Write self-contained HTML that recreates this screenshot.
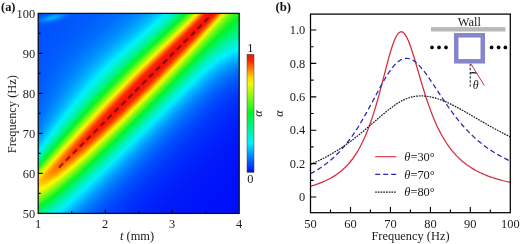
<!DOCTYPE html>
<html lang="en"><head><meta charset="utf-8"><title>Absorption coefficient figure</title>
<style>
html,body{margin:0;padding:0;background:#fff}
#fig{position:relative;width:520px;height:244px;overflow:hidden;background:#fff;font-family:"Liberation Serif","DejaVu Serif",serif}
#heat{position:absolute;left:38.2px;top:13.4px;width:201px;height:200px;overflow:hidden}
#heat i{display:block;width:202px;height:1px}
#ov{position:absolute;left:0;top:0}
text{font-family:"Liberation Serif","DejaVu Serif",serif;font-size:12.4px;fill:#1a1a1a}
.it{font-style:italic}
.b{font-weight:bold;fill:#111}
</style></head><body>
<div id="fig">
<div id="heat">
<i style="background:linear-gradient(90deg,#0050fc,#0050fc,#0051fc,#0052fc,#0054fc,#0057fc,#005cfc,#0063fc,#006afc,#0072fc,#0079fc,#007cfc,#007cfc,#0078fc,#0071fc,#006afc,#0064fc,#005efc,#005bfc,#0059fc,#0059fc,#0059fc,#0059fc,#005afc,#005bfc,#005bfc,#005cfc,#005dfc,#005efc,#005ffc,#0060fc,#0061fc,#0063fc,#0064fc,#0065fc,#0067fc,#0068fc,#006afc,#006cfc,#006dfc,#006ffc,#0071fc,#0073fc,#0076fc,#0078fc,#007bfc,#007efd,#0081fd,#0084fd,#0087fd,#008bfd,#008ffd,#0094fd,#0098fd,#009dfd,#00a3fd,#00a9fd,#00affe,#00b6fe,#00befe,#00c7fe,#00d0fe,#00dbff,#00e6ff,#00f0fc,#00f0ef,#00f1e1,#00f1d0,#00f1bf,#00f2ab,#00f295,#00f37d,#00f462,#00f446,#02f528,#28f622,#50f71b,#7bf715,#a9f80e,#d8f906,#fff000,#ffb600,#ff7c00,#ff4800,#fd2101,#f61a08,#f1150b,#f0140c,#f51908,#fe2201,#ff5200,#ff9000,#ffcf00,#f2fa02,#c6f909,#9ff80f,#7df714,#61f719,#49f61d,#35f620,#24f622,#15f525)"></i>
<i style="background:linear-gradient(90deg,#0050fc,#0051fc,#0052fc,#0055fc,#0059fc,#0060fc,#0069fc,#0074fc,#007ffd,#0088fd,#008dfd,#008cfd,#0087fd,#007dfd,#0073fc,#0069fc,#0062fc,#005dfc,#005afc,#0059fc,#0059fc,#0059fc,#0059fc,#005afc,#005bfc,#005cfc,#005dfc,#005efc,#005ffc,#0060fc,#0061fc,#0062fc,#0063fc,#0065fc,#0066fc,#0067fc,#0069fc,#006bfc,#006cfc,#006efc,#0070fc,#0072fc,#0075fc,#0077fc,#007afc,#007cfc,#007ffd,#0082fd,#0086fd,#0089fd,#008dfd,#0091fd,#0096fd,#009bfd,#00a0fd,#00a6fd,#00acfe,#00b3fe,#00bafe,#00c3fe,#00ccfe,#00d6fe,#00e1ff,#00edff,#00f0f6,#00f1e8,#00f1d8,#00f1c7,#00f2b5,#00f2a0,#00f389,#00f370,#00f454,#00f536,#15f525,#3cf61f,#66f718,#92f811,#c0f90a,#effa02,#ffd400,#ff9b00,#ff6200,#ff3200,#f91d05,#f3170a,#f0140c,#f2160b,#f81c05,#ff3400,#ff6d00,#ffae00,#ffea00,#def905,#b3f90c,#8ff812,#6ff717,#55f71b,#3ff61e,#2cf621,#1cf624,#0ef526)"></i>
<i style="background:linear-gradient(90deg,#0051fc,#0053fc,#0056fc,#005bfc,#0063fc,#006ffc,#007cfc,#008afd,#0096fd,#009dfd,#009cfd,#0095fd,#0089fd,#007cfc,#006ffc,#0065fc,#005ffc,#005bfc,#0059fc,#0058fc,#0059fc,#0059fc,#005afc,#005afc,#005bfc,#005cfc,#005dfc,#005efc,#005ffc,#0060fc,#0061fc,#0063fc,#0064fc,#0065fc,#0067fc,#0068fc,#006afc,#006bfc,#006dfc,#006ffc,#0071fc,#0073fc,#0076fc,#0078fc,#007bfc,#007efd,#0081fd,#0084fd,#0088fd,#008bfd,#008ffd,#0094fd,#0098fd,#009efd,#00a3fd,#00a9fd,#00b0fe,#00b7fe,#00bffe,#00c7fe,#00d1fe,#00dbff,#00e7ff,#00f0fc,#00f0ef,#00f1e0,#00f1d0,#00f2be,#00f2aa,#00f294,#00f37c,#00f462,#00f445,#03f528,#28f622,#51f71b,#7cf715,#a9f80e,#d7f906,#fff100,#ffb800,#ff7f00,#ff4a00,#fe2201,#f61a07,#f1150b,#f0140c,#f41809,#fd2102,#ff4d00,#ff8a00,#ffc900,#f7fa01,#caf908,#a2f80f,#80f814,#63f719,#4af61c,#36f620,#24f622,#15f525,#07f527)"></i>
<i style="background:linear-gradient(90deg,#0053fc,#0056fc,#005cfc,#0065fc,#0072fc,#0082fd,#0093fd,#00a0fd,#00a8fd,#00a8fd,#00a0fd,#0093fd,#0083fd,#0074fc,#0068fc,#0060fc,#005bfc,#0059fc,#0058fc,#0058fc,#0059fc,#0059fc,#005afc,#005bfc,#005cfc,#005dfc,#005dfc,#005efc,#0060fc,#0061fc,#0062fc,#0063fc,#0064fc,#0066fc,#0067fc,#0069fc,#006bfc,#006cfc,#006efc,#0070fc,#0072fc,#0075fc,#0077fc,#007afc,#007cfc,#007ffd,#0083fd,#0086fd,#008afd,#008dfd,#0092fd,#0096fd,#009bfd,#00a0fd,#00a6fd,#00acfe,#00b3fe,#00bbfe,#00c3fe,#00ccfe,#00d6fe,#00e1ff,#00edff,#00f0f5,#00f1e7,#00f1d8,#00f1c7,#00f2b4,#00f29f,#00f388,#00f36f,#00f453,#00f535,#16f525,#3df61f,#66f718,#92f811,#c0f90a,#effa03,#ffd500,#ff9c00,#ff6400,#ff3400,#fa1e04,#f31709,#f0140c,#f1150b,#f81c06,#ff3000,#ff6700,#ffa800,#ffe400,#e2f905,#b7f90b,#92f811,#72f716,#57f71a,#40f61e,#2cf621,#1cf624,#0df526,#00f528)"></i>
<i style="background:linear-gradient(90deg,#0056fc,#005cfc,#0066fc,#0073fc,#0084fd,#0095fd,#00a4fd,#00adfe,#00adfe,#00a5fd,#0097fd,#0086fd,#0076fc,#006afc,#0061fc,#005cfc,#0059fc,#0058fc,#0058fc,#0058fc,#0059fc,#005afc,#005afc,#005bfc,#005cfc,#005dfc,#005efc,#005ffc,#0060fc,#0061fc,#0062fc,#0064fc,#0065fc,#0067fc,#0068fc,#006afc,#006bfc,#006dfc,#006ffc,#0071fc,#0074fc,#0076fc,#0078fc,#007bfc,#007efd,#0081fd,#0084fd,#0088fd,#008cfd,#0090fd,#0094fd,#0099fd,#009efd,#00a3fd,#00a9fd,#00b0fe,#00b7fe,#00bffe,#00c8fe,#00d1fe,#00dcff,#00e7ff,#00f0fb,#00f0ee,#00f1df,#00f1cf,#00f2bd,#00f2a9,#00f393,#00f37b,#00f461,#00f444,#04f527,#29f622,#51f71b,#7cf715,#a9f80e,#d7f906,#fff200,#ffb900,#ff8000,#ff4c00,#fe2200,#f61a07,#f1150b,#f0140c,#f41809,#fc2002,#ff4800,#ff8400,#ffc300,#fcfa01,#cef908,#a6f80e,#82f814,#65f718,#4bf61c,#36f620,#24f622,#14f525,#06f527,#00f52e)"></i>
<i style="background:linear-gradient(90deg,#005bfc,#0064fc,#0071fc,#0081fd,#0092fd,#00a0fd,#00a9fd,#00aafd,#00a2fd,#0095fd,#0085fd,#0076fc,#0069fc,#0060fc,#005bfc,#0059fc,#0058fc,#0057fc,#0058fc,#0058fc,#0059fc,#005afc,#005bfc,#005bfc,#005cfc,#005dfc,#005efc,#005ffc,#0061fc,#0062fc,#0063fc,#0064fc,#0066fc,#0067fc,#0069fc,#006bfc,#006cfc,#006efc,#0070fc,#0072fc,#0075fc,#0077fc,#007afc,#007dfc,#007ffd,#0083fd,#0086fd,#008afd,#008efd,#0092fd,#0096fd,#009bfd,#00a1fd,#00a7fd,#00adfe,#00b4fe,#00bbfe,#00c4fe,#00cdfe,#00d7fe,#00e2ff,#00eeff,#00f0f4,#00f1e6,#00f1d7,#00f1c6,#00f2b3,#00f29e,#00f387,#00f36e,#00f452,#00f534,#17f524,#3df61e,#67f718,#92f811,#c0f90a,#eefa03,#ffd600,#ff9e00,#ff6600,#ff3600,#fa1e04,#f41809,#f0140c,#f1150b,#f71b07,#ff2b00,#ff6200,#ffa100,#ffde00,#e7fa04,#bbf90b,#95f811,#74f716,#58f71a,#41f61e,#2df621,#1bf624,#0cf526,#00f529,#00f534)"></i>
<i style="background:linear-gradient(90deg,#0061fc,#006cfc,#007afc,#0089fd,#0096fd,#009efd,#009ffd,#0099fd,#008dfd,#007ffd,#0072fc,#0067fc,#005ffc,#005afc,#0058fc,#0057fc,#0057fc,#0057fc,#0058fc,#0059fc,#0059fc,#005afc,#005bfc,#005cfc,#005dfc,#005efc,#005ffc,#0060fc,#0061fc,#0062fc,#0064fc,#0065fc,#0066fc,#0068fc,#006afc,#006bfc,#006dfc,#006ffc,#0071fc,#0074fc,#0076fc,#0078fc,#007bfc,#007efd,#0081fd,#0084fd,#0088fd,#008cfd,#0090fd,#0094fd,#0099fd,#009efd,#00a4fd,#00aafd,#00b1fe,#00b8fe,#00c0fe,#00c8fe,#00d2fe,#00dcff,#00e8ff,#00f0fa,#00f0ed,#00f1de,#00f1ce,#00f2bc,#00f2a8,#00f392,#00f37a,#00f460,#00f443,#05f527,#2af621,#52f71b,#7df714,#a9f80d,#d7f906,#fff200,#ffba00,#ff8200,#ff4e00,#ff2300,#f71b07,#f2160b,#f0140c,#f3170a,#fb1f03,#ff4300,#ff7e00,#ffbd00,#fff800,#d3f907,#a9f80d,#85f813,#67f718,#4df71c,#37f61f,#24f622,#13f525,#05f527,#00f530,#00f53a)"></i>
<i style="background:linear-gradient(90deg,#0066fc,#0071fc,#007dfc,#0087fd,#008efd,#008ffd,#008afd,#0081fd,#0076fc,#006cfc,#0063fc,#005dfc,#0059fc,#0057fc,#0056fc,#0056fc,#0057fc,#0057fc,#0058fc,#0059fc,#005afc,#005afc,#005bfc,#005cfc,#005dfc,#005efc,#005ffc,#0060fc,#0062fc,#0063fc,#0064fc,#0066fc,#0067fc,#0069fc,#006bfc,#006cfc,#006efc,#0070fc,#0072fc,#0075fc,#0077fc,#007afc,#007dfc,#0080fd,#0083fd,#0086fd,#008afd,#008efd,#0092fd,#0097fd,#009cfd,#00a1fd,#00a7fd,#00adfe,#00b4fe,#00bcfe,#00c4fe,#00cdfe,#00d7fe,#00e3ff,#00efff,#00f0f3,#00f1e5,#00f1d6,#00f1c5,#00f2b2,#00f29d,#00f386,#00f36d,#00f451,#00f533,#18f524,#3ff61e,#68f718,#93f811,#c0f90a,#effa03,#ffd600,#ff9f00,#ff6700,#ff3800,#fb1f04,#f41809,#f0140c,#f1150b,#f61a07,#ff2700,#ff5c00,#ff9b00,#ffd800,#ebfa03,#bff90a,#98f810,#77f715,#5af71a,#42f61e,#2df621,#1bf624,#0bf526,#00f52b,#00f536,#00f440)"></i>
<i style="background:linear-gradient(90deg,#0067fc,#0070fc,#0078fc,#007dfc,#007efd,#007bfc,#0074fc,#006dfc,#0065fc,#005ffc,#005afc,#0057fc,#0056fc,#0056fc,#0056fc,#0056fc,#0057fc,#0058fc,#0058fc,#0059fc,#005afc,#005bfc,#005cfc,#005dfc,#005efc,#005ffc,#0060fc,#0061fc,#0062fc,#0064fc,#0065fc,#0066fc,#0068fc,#006afc,#006bfc,#006dfc,#006ffc,#0071fc,#0074fc,#0076fc,#0079fc,#007bfc,#007efd,#0081fd,#0085fd,#0088fd,#008cfd,#0090fd,#0095fd,#0099fd,#009ffd,#00a4fd,#00aafd,#00b1fe,#00b8fe,#00c0fe,#00c9fe,#00d3fe,#00ddff,#00e9ff,#00f0f9,#00f0ec,#00f1dd,#00f1cd,#00f2bb,#00f2a7,#00f391,#00f379,#00f45f,#00f442,#06f527,#2cf621,#53f71b,#7ef714,#aaf80d,#d8f906,#fff100,#ffba00,#ff8200,#ff4f00,#ff2400,#f71b06,#f2160b,#f0140c,#f3170a,#fa1e04,#ff3e00,#ff7800,#ffb700,#fff200,#d7f906,#adf80d,#88f813,#69f718,#4ef71c,#37f61f,#23f622,#12f525,#03f528,#00f531,#00f53d,#00f447)"></i>
<i style="background:linear-gradient(90deg,#0065fc,#006afc,#006dfc,#006efc,#006dfc,#0069fc,#0064fc,#005ffc,#005bfc,#0058fc,#0056fc,#0055fc,#0055fc,#0056fc,#0056fc,#0057fc,#0057fc,#0058fc,#0059fc,#0059fc,#005afc,#005bfc,#005cfc,#005dfc,#005efc,#005ffc,#0060fc,#0062fc,#0063fc,#0064fc,#0066fc,#0067fc,#0069fc,#006bfc,#006cfc,#006efc,#0070fc,#0073fc,#0075fc,#0077fc,#007afc,#007dfc,#0080fd,#0083fd,#0087fd,#008afd,#008efd,#0093fd,#0097fd,#009cfd,#00a2fd,#00a8fd,#00aefe,#00b5fe,#00bdfe,#00c5fe,#00cefe,#00d8fe,#00e3ff,#00f0ff,#00f0f2,#00f1e4,#00f1d5,#00f1c4,#00f2b1,#00f29c,#00f385,#00f36b,#00f450,#00f532,#19f524,#40f61e,#69f718,#94f811,#c1f90a,#effa02,#ffd600,#ff9f00,#ff6800,#ff3900,#fb1f03,#f41809,#f0140c,#f1150c,#f61a08,#ff2300,#ff5700,#ff9400,#ffd200,#f0fa02,#c4f909,#9cf810,#79f715,#5cf71a,#43f61e,#2df621,#1af624,#0af526,#00f52c,#00f538,#00f443,#00f44d)"></i>
<i style="background:linear-gradient(90deg,#005ffc,#0062fc,#0062fc,#0062fc,#005ffc,#005cfc,#005afc,#0057fc,#0056fc,#0055fc,#0055fc,#0055fc,#0055fc,#0056fc,#0056fc,#0057fc,#0057fc,#0058fc,#0059fc,#005afc,#005bfc,#005cfc,#005cfc,#005dfc,#005ffc,#0060fc,#0061fc,#0062fc,#0063fc,#0065fc,#0066fc,#0068fc,#006afc,#006bfc,#006dfc,#006ffc,#0071fc,#0074fc,#0076fc,#0079fc,#007bfc,#007efd,#0082fd,#0085fd,#0089fd,#008cfd,#0091fd,#0095fd,#009afd,#009ffd,#00a5fd,#00abfe,#00b2fe,#00b9fe,#00c1fe,#00cafe,#00d4fe,#00deff,#00eaff,#00f0f8,#00f0eb,#00f1dc,#00f1cc,#00f2ba,#00f2a6,#00f390,#00f378,#00f45d,#00f440,#08f527,#2df621,#55f71b,#7ff714,#abf80d,#d9f906,#fff100,#ffba00,#ff8300,#ff5000,#ff2500,#f71b06,#f2160a,#f0140c,#f2160a,#f91d04,#ff3900,#ff7200,#ffb100,#ffec00,#dcf906,#b1f80c,#8cf812,#6bf717,#4ff71c,#38f61f,#23f622,#11f525,#01f528,#00f533,#00f43f,#00f449,#00f453)"></i>
<i style="background:linear-gradient(90deg,#005afc,#005afc,#005afc,#0059fc,#0057fc,#0056fc,#0055fc,#0054fc,#0054fc,#0054fc,#0054fc,#0055fc,#0055fc,#0056fc,#0056fc,#0057fc,#0058fc,#0059fc,#0059fc,#005afc,#005bfc,#005cfc,#005dfc,#005efc,#005ffc,#0060fc,#0061fc,#0063fc,#0064fc,#0066fc,#0067fc,#0069fc,#006bfc,#006cfc,#006efc,#0070fc,#0073fc,#0075fc,#0077fc,#007afc,#007dfd,#0080fd,#0083fd,#0087fd,#008bfd,#008ffd,#0093fd,#0098fd,#009dfd,#00a2fd,#00a8fd,#00affe,#00b6fe,#00bdfe,#00c6fe,#00cffe,#00d9ff,#00e5ff,#00f0fe,#00f0f1,#00f1e3,#00f1d4,#00f1c2,#00f2af,#00f29a,#00f383,#00f36a,#00f44e,#00f530,#1bf624,#42f61e,#6bf717,#96f811,#c2f909,#f0fa02,#ffd500,#ff9f00,#ff6800,#ff3900,#fb1f03,#f41809,#f1150c,#f0140c,#f51908,#fe2201,#ff5200,#ff8e00,#ffcc00,#f5fa02,#c8f909,#a0f80f,#7cf715,#5ef719,#44f61d,#2df621,#1af624,#08f527,#00f52e,#00f53b,#00f446,#00f450,#00f459)"></i>
<i style="background:linear-gradient(90deg,#0055fc,#0055fc,#0055fc,#0054fc,#0054fc,#0053fc,#0053fc,#0053fc,#0053fc,#0054fc,#0054fc,#0055fc,#0055fc,#0056fc,#0057fc,#0057fc,#0058fc,#0059fc,#005afc,#005afc,#005bfc,#005cfc,#005dfc,#005efc,#0060fc,#0061fc,#0062fc,#0063fc,#0065fc,#0066fc,#0068fc,#006afc,#006bfc,#006dfc,#006ffc,#0072fc,#0074fc,#0076fc,#0079fc,#007cfc,#007ffd,#0082fd,#0085fd,#0089fd,#008dfd,#0091fd,#0096fd,#009afd,#00a0fd,#00a5fd,#00acfe,#00b2fe,#00bafe,#00c2fe,#00cbfe,#00d5fe,#00dfff,#00ebff,#00f0f7,#00f0ea,#00f1db,#00f1cb,#00f2b8,#00f2a4,#00f38e,#00f376,#00f45c,#00f43f,#0af526,#2ff621,#57f71a,#81f814,#adf80d,#daf906,#fff000,#ffba00,#ff8300,#ff5000,#ff2600,#f71b06,#f2160a,#f0140c,#f2160a,#f91d05,#ff3500,#ff6c00,#ffab00,#ffe600,#e0f905,#b5f90c,#8ff812,#6ef717,#51f71b,#38f61f,#23f623,#10f525,#00f528,#00f536,#00f442,#00f44d,#00f456,#00f460)"></i>
<i style="background:linear-gradient(90deg,#0052fc,#0052fc,#0052fc,#0052fc,#0052fc,#0052fc,#0053fc,#0053fc,#0053fc,#0054fc,#0054fc,#0055fc,#0056fc,#0056fc,#0057fc,#0058fc,#0058fc,#0059fc,#005afc,#005bfc,#005cfc,#005dfc,#005efc,#005ffc,#0060fc,#0061fc,#0063fc,#0064fc,#0066fc,#0067fc,#0069fc,#006bfc,#006cfc,#006efc,#0070fc,#0073fc,#0075fc,#0078fc,#007afc,#007dfd,#0080fd,#0084fd,#0087fd,#008bfd,#008ffd,#0093fd,#0098fd,#009dfd,#00a3fd,#00a9fd,#00affe,#00b7fe,#00befe,#00c7fe,#00d0fe,#00daff,#00e6ff,#00f0fd,#00f0f0,#00f1e2,#00f1d2,#00f1c1,#00f2ae,#00f299,#00f382,#00f468,#00f44c,#00f52e,#1df623,#43f61d,#6cf717,#97f810,#c4f909,#f1fa02,#ffd400,#ff9e00,#ff6800,#ff3a00,#fb1f03,#f41808,#f1150b,#f0140c,#f51908,#fd2101,#ff4d00,#ff8800,#ffc600,#fafa01,#ccf908,#a3f80e,#7ff714,#60f719,#45f61d,#2df621,#19f524,#07f527,#00f530,#00f53d,#00f449,#00f453,#00f45d,#00f466)"></i>
<i style="background:linear-gradient(90deg,#0051fc,#0051fc,#0052fc,#0052fc,#0052fc,#0052fc,#0053fc,#0053fc,#0054fc,#0054fc,#0055fc,#0055fc,#0056fc,#0056fc,#0057fc,#0058fc,#0059fc,#0059fc,#005afc,#005bfc,#005cfc,#005dfc,#005efc,#005ffc,#0061fc,#0062fc,#0063fc,#0065fc,#0066fc,#0068fc,#006afc,#006bfc,#006dfc,#006ffc,#0072fc,#0074fc,#0076fc,#0079fc,#007cfc,#007ffd,#0082fd,#0086fd,#0089fd,#008dfd,#0091fd,#0096fd,#009bfd,#00a0fd,#00a6fd,#00acfe,#00b3fe,#00bbfe,#00c3fe,#00ccfe,#00d6fe,#00e1ff,#00ecff,#00f0f6,#00f1e9,#00f1da,#00f1c9,#00f2b7,#00f2a3,#00f38d,#00f374,#00f45a,#00f53d,#0cf526,#31f620,#59f71a,#82f814,#aef80d,#dbf906,#ffee00,#ffb900,#ff8200,#ff5000,#ff2600,#f81c06,#f2160a,#f0140c,#f2160b,#f81c05,#ff3100,#ff6700,#ffa500,#ffe000,#e5f904,#b9f90b,#92f811,#70f716,#52f71b,#39f61f,#22f623,#0ff526,#00f52a,#00f538,#00f445,#00f450,#00f45a,#00f464,#00f36c)"></i>
<i style="background:linear-gradient(90deg,#0051fc,#0051fc,#0051fc,#0052fc,#0052fc,#0052fc,#0053fc,#0053fc,#0054fc,#0054fc,#0055fc,#0055fc,#0056fc,#0057fc,#0057fc,#0058fc,#0059fc,#005afc,#005bfc,#005cfc,#005dfc,#005efc,#005ffc,#0060fc,#0061fc,#0063fc,#0064fc,#0066fc,#0067fc,#0069fc,#006bfc,#006cfc,#006efc,#0071fc,#0073fc,#0075fc,#0078fc,#007bfc,#007efd,#0081fd,#0084fd,#0088fd,#008bfd,#0090fd,#0094fd,#0099fd,#009efd,#00a4fd,#00aafd,#00b0fe,#00b7fe,#00bffe,#00c8fe,#00d1fe,#00dcff,#00e7ff,#00f0fc,#00f0ef,#00f1e0,#00f1d1,#00f1bf,#00f2ac,#00f297,#00f380,#00f466,#00f44b,#00f52c,#1ff623,#45f61d,#6ef717,#99f810,#c6f909,#f3fa02,#ffd300,#ff9d00,#ff6800,#ff3a00,#fb1f03,#f51908,#f1150b,#f0140c,#f41809,#fd2102,#ff4800,#ff8200,#ffc000,#fffa00,#d1f907,#a7f80e,#82f814,#62f719,#46f61d,#2df621,#18f524,#05f527,#00f532,#00f440,#00f44c,#00f457,#00f461,#00f36a,#00f373)"></i>
<i style="background:linear-gradient(90deg,#0051fc,#0051fc,#0051fc,#0052fc,#0052fc,#0052fc,#0053fc,#0053fc,#0054fc,#0054fc,#0055fc,#0056fc,#0056fc,#0057fc,#0058fc,#0058fc,#0059fc,#005afc,#005bfc,#005cfc,#005dfc,#005efc,#005ffc,#0061fc,#0062fc,#0063fc,#0065fc,#0066fc,#0068fc,#006afc,#006cfc,#006efc,#0070fc,#0072fc,#0074fc,#0077fc,#0079fc,#007cfc,#007ffd,#0083fd,#0086fd,#008afd,#008efd,#0092fd,#0097fd,#009cfd,#00a1fd,#00a7fd,#00adfe,#00b4fe,#00bcfe,#00c4fe,#00cdfe,#00d7fe,#00e2ff,#00eeff,#00f0f5,#00f1e7,#00f1d8,#00f1c7,#00f2b5,#00f2a1,#00f38b,#00f372,#00f458,#00f53b,#0ef526,#33f620,#5bf71a,#85f813,#b0f80c,#ddf905,#ffed00,#ffb700,#ff8100,#ff4f00,#ff2600,#f81c06,#f2160a,#f0140c,#f2160b,#f81c06,#ff2e00,#ff6100,#ff9f00,#ffda00,#eafa03,#bef90a,#96f810,#73f716,#54f71b,#39f61f,#22f623,#0ef526,#00f52c,#00f53a,#00f448,#00f454,#00f45e,#00f468,#00f371,#00f379)"></i>
<i style="background:linear-gradient(90deg,#0051fc,#0051fc,#0051fc,#0052fc,#0052fc,#0053fc,#0053fc,#0053fc,#0054fc,#0055fc,#0055fc,#0056fc,#0056fc,#0057fc,#0058fc,#0059fc,#005afc,#005bfc,#005cfc,#005dfc,#005efc,#005ffc,#0060fc,#0061fc,#0063fc,#0064fc,#0066fc,#0067fc,#0069fc,#006bfc,#006dfc,#006ffc,#0071fc,#0073fc,#0076fc,#0078fc,#007bfc,#007efd,#0081fd,#0084fd,#0088fd,#008cfd,#0090fd,#0095fd,#0099fd,#009ffd,#00a4fd,#00abfd,#00b1fe,#00b8fe,#00c0fe,#00c9fe,#00d3fe,#00ddff,#00e8ff,#00f0fa,#00f0ed,#00f1df,#00f1cf,#00f2be,#00f2aa,#00f295,#00f37e,#00f464,#00f448,#00f52a,#21f623,#48f61d,#70f716,#9bf810,#c7f909,#f4fa02,#ffd100,#ff9c00,#ff6700,#ff3a00,#fb1f03,#f51908,#f1150b,#f0140c,#f41809,#fc2002,#ff4400,#ff7d00,#ffba00,#fff400,#d6f906,#abf80d,#85f813,#64f718,#47f61d,#2df621,#17f524,#04f527,#00f534,#00f443,#00f450,#00f45b,#00f466,#00f36f,#00f378,#00f380)"></i>
<i style="background:linear-gradient(90deg,#0051fc,#0051fc,#0051fc,#0052fc,#0052fc,#0053fc,#0053fc,#0054fc,#0054fc,#0055fc,#0055fc,#0056fc,#0057fc,#0057fc,#0058fc,#0059fc,#005afc,#005bfc,#005cfc,#005dfc,#005efc,#005ffc,#0061fc,#0062fc,#0063fc,#0065fc,#0066fc,#0068fc,#006afc,#006cfc,#006efc,#0070fc,#0072fc,#0074fc,#0077fc,#007afc,#007dfc,#0080fd,#0083fd,#0086fd,#008afd,#008efd,#0093fd,#0097fd,#009cfd,#00a2fd,#00a8fd,#00aefe,#00b5fe,#00bdfe,#00c5fe,#00cefe,#00d8fe,#00e3ff,#00efff,#00f0f3,#00f1e5,#00f1d6,#00f1c6,#00f2b3,#00f29f,#00f389,#00f370,#00f456,#00f538,#10f525,#36f620,#5df719,#87f813,#b2f80c,#dff905,#ffeb00,#ffb600,#ff8000,#ff4f00,#ff2600,#f81c06,#f2160a,#f0140c,#f1150b,#f71b06,#ff2a00,#ff5d00,#ff9900,#ffd400,#effa03,#c2f90a,#9af810,#75f716,#56f71b,#3af61f,#22f623,#0df526,#00f52e,#00f53d,#00f44b,#00f457,#00f463,#00f36d,#00f376,#00f37f,#00f387)"></i>
<i style="background:linear-gradient(90deg,#0051fc,#0051fc,#0051fc,#0052fc,#0052fc,#0053fc,#0053fc,#0054fc,#0054fc,#0055fc,#0056fc,#0056fc,#0057fc,#0058fc,#0059fc,#0059fc,#005afc,#005bfc,#005cfc,#005dfc,#005ffc,#0060fc,#0061fc,#0063fc,#0064fc,#0066fc,#0067fc,#0069fc,#006bfc,#006dfc,#006ffc,#0071fc,#0073fc,#0076fc,#0078fc,#007bfc,#007efd,#0081fd,#0085fd,#0089fd,#008dfd,#0091fd,#0095fd,#009afd,#00a0fd,#00a5fd,#00abfe,#00b2fe,#00bafe,#00c2fe,#00cafe,#00d4fe,#00dfff,#00eaff,#00f0f9,#00f0eb,#00f1dd,#00f1cd,#00f2bc,#00f2a8,#00f393,#00f37c,#00f462,#00f446,#00f528,#24f622,#4af61c,#73f716,#9df80f,#c9f908,#f6fa01,#ffcf00,#ff9a00,#ff6600,#ff3900,#fb1f03,#f51908,#f1150b,#f0140c,#f41809,#fb1f03,#ff4000,#ff7700,#ffb400,#ffee00,#daf906,#aff80c,#89f813,#66f718,#48f61d,#2ef621,#17f524,#02f528,#00f537,#00f446,#00f453,#00f45f,#00f36a,#00f374,#00f37d,#00f386,#00f38d)"></i>
<i style="background:linear-gradient(90deg,#0051fc,#0051fc,#0052fc,#0052fc,#0052fc,#0053fc,#0053fc,#0054fc,#0055fc,#0055fc,#0056fc,#0057fc,#0057fc,#0058fc,#0059fc,#005afc,#005bfc,#005cfc,#005dfc,#005efc,#005ffc,#0060fc,#0062fc,#0063fc,#0065fc,#0066fc,#0068fc,#006afc,#006cfc,#006efc,#0070fc,#0072fc,#0075fc,#0077fc,#007afc,#007dfc,#0080fd,#0083fd,#0087fd,#008bfd,#008ffd,#0093fd,#0098fd,#009dfd,#00a3fd,#00a9fd,#00affe,#00b6fe,#00befe,#00c7fe,#00d0fe,#00daff,#00e5ff,#00f0fe,#00f0f1,#00f1e4,#00f1d4,#00f1c3,#00f2b1,#00f29d,#00f386,#00f36e,#00f453,#00f536,#13f525,#38f61f,#60f719,#89f812,#b4f90c,#e1f905,#ffe900,#ffb400,#ff7f00,#ff4e00,#ff2500,#f81c06,#f2160a,#f0140c,#f1150b,#f71b07,#ff2700,#ff5800,#ff9300,#ffcf00,#f4fa02,#c7f909,#9df80f,#78f715,#58f71a,#3bf61f,#22f623,#0bf526,#00f530,#00f440,#00f44e,#00f45b,#00f467,#00f372,#00f37c,#00f385,#00f38d,#00f294)"></i>
<i style="background:linear-gradient(90deg,#0051fc,#0051fc,#0052fc,#0052fc,#0053fc,#0053fc,#0054fc,#0054fc,#0055fc,#0055fc,#0056fc,#0057fc,#0058fc,#0058fc,#0059fc,#005afc,#005bfc,#005cfc,#005dfc,#005ffc,#0060fc,#0061fc,#0062fc,#0064fc,#0066fc,#0067fc,#0069fc,#006bfc,#006dfc,#006ffc,#0071fc,#0074fc,#0076fc,#0079fc,#007cfc,#007ffd,#0082fd,#0085fd,#0089fd,#008dfd,#0091fd,#0096fd,#009bfd,#00a0fd,#00a6fd,#00acfe,#00b3fe,#00bbfe,#00c3fe,#00ccfe,#00d5fe,#00e0ff,#00ecff,#00f0f7,#00f0ea,#00f1db,#00f1cb,#00f2b9,#00f2a6,#00f391,#00f379,#00f45f,#00f444,#03f528,#27f622,#4df71c,#76f716,#a0f80f,#ccf908,#f8fa01,#ffcd00,#ff9900,#ff6500,#ff3800,#fb1f03,#f51908,#f1150b,#f0140c,#f31709,#fb1f03,#ff3d00,#ff7300,#ffaf00,#ffe800,#dff905,#b4f90c,#8cf812,#69f718,#4af61c,#2ef621,#16f525,#01f528,#00f539,#00f449,#00f457,#00f464,#00f36f,#00f37a,#00f383,#00f38c,#00f294,#00f29b)"></i>
<i style="background:linear-gradient(90deg,#0051fc,#0051fc,#0052fc,#0052fc,#0053fc,#0053fc,#0054fc,#0054fc,#0055fc,#0056fc,#0056fc,#0057fc,#0058fc,#0059fc,#005afc,#005bfc,#005cfc,#005dfc,#005efc,#005ffc,#0060fc,#0062fc,#0063fc,#0065fc,#0066fc,#0068fc,#006afc,#006cfc,#006efc,#0070fc,#0072fc,#0075fc,#0078fc,#007afc,#007dfd,#0080fd,#0084fd,#0087fd,#008bfd,#0090fd,#0094fd,#0099fd,#009efd,#00a4fd,#00aafd,#00b0fe,#00b8fe,#00bffe,#00c8fe,#00d1fe,#00dbff,#00e7ff,#00f0fc,#00f0f0,#00f1e2,#00f1d2,#00f1c1,#00f2af,#00f29a,#00f384,#00f36b,#00f451,#00f533,#16f525,#3bf61f,#62f719,#8cf812,#b7f90b,#e3f904,#ffe700,#ffb200,#ff7d00,#ff4d00,#ff2500,#f81c06,#f2160a,#f0140c,#f1150b,#f61a07,#ff2500,#ff5500,#ff8e00,#ffc900,#f8fa01,#cbf908,#a1f80f,#7bf715,#5af71a,#3cf61f,#22f623,#0af526,#00f531,#00f442,#00f452,#00f45f,#00f36c,#00f377,#00f381,#00f38b,#00f393,#00f29b,#00f2a2)"></i>
<i style="background:linear-gradient(90deg,#0051fc,#0051fc,#0052fc,#0052fc,#0053fc,#0053fc,#0054fc,#0054fc,#0055fc,#0056fc,#0057fc,#0057fc,#0058fc,#0059fc,#005afc,#005bfc,#005cfc,#005dfc,#005efc,#0060fc,#0061fc,#0062fc,#0064fc,#0066fc,#0067fc,#0069fc,#006bfc,#006dfc,#006ffc,#0071fc,#0074fc,#0076fc,#0079fc,#007cfc,#007ffd,#0082fd,#0086fd,#008afd,#008efd,#0092fd,#0097fd,#009cfd,#00a1fd,#00a7fd,#00aefe,#00b5fe,#00bcfe,#00c4fe,#00cdfe,#00d7fe,#00e2ff,#00eeff,#00f0f5,#00f1e8,#00f1d9,#00f1c9,#00f2b7,#00f2a4,#00f38e,#00f377,#00f45d,#00f441,#06f527,#2af621,#50f71b,#78f715,#a3f80f,#cef908,#fafa01,#ffcb00,#ff9700,#ff6300,#ff3800,#fb1f03,#f51908,#f1150b,#f0140c,#f31709,#fa1e04,#ff3a00,#ff6e00,#ffaa00,#ffe300,#e4f904,#b8f90b,#90f811,#6bf717,#4bf61c,#2ff621,#16f525,#00f529,#00f53b,#00f44c,#00f45a,#00f468,#00f374,#00f37f,#00f389,#00f392,#00f29b,#00f2a2,#00f2a9)"></i>
<i style="background:linear-gradient(90deg,#0051fc,#0052fc,#0052fc,#0052fc,#0053fc,#0053fc,#0054fc,#0055fc,#0055fc,#0056fc,#0057fc,#0058fc,#0059fc,#0059fc,#005afc,#005bfc,#005dfc,#005efc,#005ffc,#0060fc,#0062fc,#0063fc,#0065fc,#0066fc,#0068fc,#006afc,#006cfc,#006efc,#0070fc,#0073fc,#0075fc,#0078fc,#007bfc,#007efd,#0081fd,#0084fd,#0088fd,#008cfd,#0090fd,#0095fd,#009afd,#009ffd,#00a5fd,#00abfd,#00b2fe,#00b9fe,#00c1fe,#00c9fe,#00d3fe,#00ddff,#00e9ff,#00f0fa,#00f0ee,#00f1e0,#00f1d0,#00f1bf,#00f2ac,#00f298,#00f381,#00f369,#00f44e,#00f531,#19f524,#3ef61e,#65f718,#8ff812,#baf90b,#e5f904,#ffe400,#ffb000,#ff7c00,#ff4c00,#ff2400,#f81c06,#f2160a,#f0140c,#f1150b,#f61a07,#ff2300,#ff5100,#ff8900,#ffc400,#fdfa00,#d0f907,#a5f80e,#7ff714,#5cf71a,#3df61e,#22f623,#0af527,#00f533,#00f445,#00f455,#00f463,#00f370,#00f37c,#00f387,#00f391,#00f29a,#00f2a2,#00f2a9,#00f2b0)"></i>
<i style="background:linear-gradient(90deg,#0051fc,#0052fc,#0052fc,#0053fc,#0053fc,#0054fc,#0054fc,#0055fc,#0056fc,#0056fc,#0057fc,#0058fc,#0059fc,#005afc,#005bfc,#005cfc,#005dfc,#005efc,#0060fc,#0061fc,#0062fc,#0064fc,#0066fc,#0067fc,#0069fc,#006bfc,#006dfc,#006ffc,#0072fc,#0074fc,#0077fc,#0079fc,#007cfc,#0080fd,#0083fd,#0086fd,#008afd,#008efd,#0093fd,#0098fd,#009dfd,#00a2fd,#00a8fd,#00affe,#00b6fe,#00bdfe,#00c6fe,#00cffe,#00d9fe,#00e4ff,#00f0ff,#00f0f3,#00f1e6,#00f1d7,#00f1c7,#00f2b5,#00f2a1,#00f38b,#00f374,#00f45a,#00f43e,#09f527,#2df621,#53f71b,#7bf715,#a5f80e,#d1f907,#fcfa00,#ffc900,#ff9500,#ff6200,#ff3700,#fb1f03,#f51908,#f1150b,#f0140c,#f3170a,#fa1e04,#ff3700,#ff6a00,#ffa500,#ffde00,#e8fa04,#bcf90a,#93f811,#6ef717,#4df71c,#30f621,#15f525,#00f52a,#00f53d,#00f44f,#00f45e,#00f36c,#00f379,#00f385,#00f38f,#00f299,#00f2a1,#00f2a9,#00f2b1,#00f2b7)"></i>
<i style="background:linear-gradient(90deg,#0051fc,#0052fc,#0052fc,#0053fc,#0053fc,#0054fc,#0054fc,#0055fc,#0056fc,#0057fc,#0057fc,#0058fc,#0059fc,#005afc,#005bfc,#005cfc,#005efc,#005ffc,#0060fc,#0062fc,#0063fc,#0065fc,#0066fc,#0068fc,#006afc,#006cfc,#006efc,#0070fc,#0073fc,#0075fc,#0078fc,#007bfc,#007efd,#0081fd,#0085fd,#0089fd,#008dfd,#0091fd,#0096fd,#009bfd,#00a0fd,#00a6fd,#00acfe,#00b3fe,#00bafe,#00c2fe,#00cbfe,#00d5fe,#00dfff,#00eaff,#00f0f8,#00f0ec,#00f1dd,#00f1ce,#00f2bd,#00f2aa,#00f295,#00f37f,#00f466,#00f44b,#00f52e,#1cf624,#41f61e,#68f718,#92f811,#bcf90a,#e8fa04,#ffe200,#ffae00,#ff7a00,#ff4b00,#ff2400,#f81c06,#f2160a,#f0140c,#f1150b,#f61a07,#fe2200,#ff4e00,#ff8500,#ffbf00,#fff700,#d4f907,#a9f80d,#82f814,#5ef719,#3ff61e,#22f623,#09f527,#00f535,#00f447,#00f458,#00f467,#00f375,#00f382,#00f38d,#00f297,#00f2a1,#00f2a9,#00f2b1,#00f2b8,#00f2be)"></i>
<i style="background:linear-gradient(90deg,#0051fc,#0052fc,#0052fc,#0053fc,#0053fc,#0054fc,#0055fc,#0055fc,#0056fc,#0057fc,#0058fc,#0059fc,#005afc,#005bfc,#005cfc,#005dfc,#005efc,#005ffc,#0061fc,#0062fc,#0064fc,#0066fc,#0067fc,#0069fc,#006bfc,#006dfc,#006ffc,#0072fc,#0074fc,#0077fc,#007afc,#007dfc,#0080fd,#0083fd,#0087fd,#008bfd,#008ffd,#0094fd,#0099fd,#009efd,#00a3fd,#00a9fd,#00b0fe,#00b7fe,#00bffe,#00c7fe,#00d0fe,#00dbff,#00e6ff,#00f0fe,#00f0f1,#00f1e4,#00f1d5,#00f1c4,#00f2b2,#00f29e,#00f389,#00f371,#00f457,#00f53b,#0cf526,#30f620,#56f71b,#7ef714,#a8f80e,#d3f907,#fffa00,#ffc600,#ff9300,#ff6000,#ff3600,#fb1f03,#f51908,#f1150b,#f0140c,#f3170a,#fa1e04,#ff3500,#ff6700,#ffa000,#ffd900,#edfa03,#c0f90a,#97f810,#71f716,#4ff71c,#30f620,#15f525,#00f52b,#00f43f,#00f451,#00f462,#00f370,#00f37e,#00f38a,#00f295,#00f29f,#00f2a8,#00f2b1,#00f2b8,#00f1bf,#00f1c5)"></i>
<i style="background:linear-gradient(90deg,#0051fc,#0052fc,#0052fc,#0053fc,#0054fc,#0054fc,#0055fc,#0056fc,#0056fc,#0057fc,#0058fc,#0059fc,#005afc,#005bfc,#005cfc,#005dfc,#005ffc,#0060fc,#0062fc,#0063fc,#0065fc,#0066fc,#0068fc,#006afc,#006cfc,#006efc,#0071fc,#0073fc,#0076fc,#0078fc,#007bfc,#007ffd,#0082fd,#0085fd,#0089fd,#008dfd,#0092fd,#0096fd,#009cfd,#00a1fd,#00a7fd,#00adfe,#00b4fe,#00bcfe,#00c4fe,#00cdfe,#00d6fe,#00e1ff,#00ecff,#00f0f7,#00f1e9,#00f1db,#00f1cb,#00f2ba,#00f2a7,#00f392,#00f37c,#00f463,#00f448,#00f52b,#1ff623,#44f61d,#6bf717,#94f811,#bff90a,#eafa03,#ffdf00,#ffac00,#ff7800,#ff4a00,#ff2300,#f71b06,#f2160a,#f0140c,#f1150b,#f61a07,#fe2201,#ff4b00,#ff8100,#ffbb00,#fff200,#d8f906,#adf80d,#85f813,#61f719,#40f61e,#23f623,#08f527,#00f536,#00f44a,#00f45b,#00f36b,#00f37a,#00f387,#00f393,#00f29d,#00f2a7,#00f2b0,#00f2b8,#00f1c0,#00f1c6,#00f1cd)"></i>
<i style="background:linear-gradient(90deg,#0052fc,#0052fc,#0053fc,#0053fc,#0054fc,#0054fc,#0055fc,#0056fc,#0057fc,#0057fc,#0058fc,#0059fc,#005afc,#005cfc,#005dfc,#005efc,#005ffc,#0061fc,#0062fc,#0064fc,#0065fc,#0067fc,#0069fc,#006bfc,#006dfc,#0070fc,#0072fc,#0074fc,#0077fc,#007afc,#007dfd,#0080fd,#0084fd,#0088fd,#008cfd,#0090fd,#0094fd,#0099fd,#009ffd,#00a4fd,#00abfd,#00b1fe,#00b8fe,#00c0fe,#00c9fe,#00d2fe,#00dcff,#00e7ff,#00f0fc,#00f0ef,#00f1e1,#00f1d2,#00f1c2,#00f2b0,#00f29c,#00f386,#00f36e,#00f454,#00f538,#10f526,#33f620,#59f71a,#81f814,#abf80d,#d6f906,#fff800,#ffc400,#ff9100,#ff5f00,#ff3500,#fb1f03,#f51908,#f1150b,#f0140c,#f3170a,#f91d04,#ff3300,#ff6300,#ff9c00,#ffd400,#f1fa02,#c4f909,#9bf810,#74f716,#51f71b,#32f620,#15f525,#00f52c,#00f441,#00f454,#00f465,#00f375,#00f383,#00f38f,#00f29b,#00f2a6,#00f2af,#00f2b8,#00f1c0,#00f1c7,#00f1ce,#00f1d4)"></i>
<i style="background:linear-gradient(90deg,#0052fc,#0052fc,#0053fc,#0053fc,#0054fc,#0055fc,#0055fc,#0056fc,#0057fc,#0058fc,#0059fc,#005afc,#005bfc,#005cfc,#005dfc,#005ffc,#0060fc,#0061fc,#0063fc,#0065fc,#0066fc,#0068fc,#006afc,#006cfc,#006efc,#0071fc,#0073fc,#0076fc,#0079fc,#007cfc,#007ffd,#0082fd,#0086fd,#008afd,#008efd,#0093fd,#0097fd,#009cfd,#00a2fd,#00a8fd,#00aefe,#00b5fe,#00bdfe,#00c5fe,#00cefe,#00d8fe,#00e3ff,#00eeff,#00f0f5,#00f1e7,#00f1d9,#00f1c9,#00f2b8,#00f2a5,#00f390,#00f379,#00f460,#00f445,#00f528,#23f623,#48f61d,#6ff717,#98f810,#c2f90a,#edfa03,#ffdc00,#ffaa00,#ff7600,#ff4800,#ff2300,#f71b06,#f2160a,#f0140c,#f1150b,#f61a07,#fe2201,#ff4900,#ff7d00,#ffb700,#ffee00,#dcf905,#b1f80c,#89f813,#64f718,#42f61e,#23f622,#08f527,#00f537,#00f44c,#00f45e,#00f36f,#00f37e,#00f38c,#00f298,#00f2a3,#00f2ae,#00f2b7,#00f1c0,#00f1c7,#00f1cf,#00f1d5,#00f1db)"></i>
<i style="background:linear-gradient(90deg,#0052fc,#0052fc,#0053fc,#0053fc,#0054fc,#0055fc,#0056fc,#0056fc,#0057fc,#0058fc,#0059fc,#005afc,#005bfc,#005dfc,#005efc,#005ffc,#0061fc,#0062fc,#0064fc,#0065fc,#0067fc,#0069fc,#006bfc,#006dfc,#0070fc,#0072fc,#0075fc,#0077fc,#007afc,#007efd,#0081fd,#0084fd,#0088fd,#008cfd,#0091fd,#0095fd,#009afd,#00a0fd,#00a5fd,#00acfe,#00b2fe,#00bafe,#00c2fe,#00cafe,#00d4fe,#00deff,#00e9ff,#00f0fa,#00f0ed,#00f1df,#00f1d0,#00f1bf,#00f2ad,#00f299,#00f383,#00f36b,#00f451,#00f535,#13f525,#37f61f,#5cf719,#84f813,#aef80d,#d9f906,#fff500,#ffc200,#ff8f00,#ff5d00,#ff3400,#fb1f03,#f51908,#f1150b,#f0140c,#f3170a,#f91d05,#ff3100,#ff6000,#ff9800,#ffd000,#f4fa02,#c8f909,#9ef80f,#77f715,#54f71b,#33f620,#16f525,#00f52d,#00f442,#00f456,#00f468,#00f378,#00f387,#00f295,#00f2a1,#00f2ac,#00f2b6,#00f1bf,#00f1c7,#00f1cf,#00f1d6,#00f1dc,#00f1e2)"></i>
<i style="background:linear-gradient(90deg,#0052fc,#0052fc,#0053fc,#0054fc,#0054fc,#0055fc,#0056fc,#0057fc,#0058fc,#0058fc,#005afc,#005bfc,#005cfc,#005dfc,#005efc,#0060fc,#0061fc,#0063fc,#0065fc,#0066fc,#0068fc,#006afc,#006cfc,#006ffc,#0071fc,#0073fc,#0076fc,#0079fc,#007cfc,#007ffd,#0083fd,#0087fd,#008afd,#008ffd,#0093fd,#0098fd,#009dfd,#00a3fd,#00a9fd,#00b0fe,#00b7fe,#00befe,#00c7fe,#00d0fe,#00daff,#00e4ff,#00f0ff,#00f0f3,#00f1e5,#00f1d7,#00f1c7,#00f2b5,#00f2a2,#00f38d,#00f376,#00f45d,#00f442,#04f527,#26f622,#4bf61c,#72f716,#9af810,#c5f909,#effa02,#ffda00,#ffa800,#ff7400,#ff4700,#ff2300,#f71b06,#f2160a,#f0140c,#f1150b,#f51908,#fd2101,#ff4700,#ff7a00,#ffb300,#ffe900,#e0f905,#b5f90c,#8cf812,#66f718,#44f61d,#24f622,#08f527,#00f538,#00f44d,#00f461,#00f372,#00f382,#00f390,#00f29e,#00f2a9,#00f2b4,#00f2be,#00f1c7,#00f1cf,#00f1d7,#00f1dd,#00f1e3,#00f1e9)"></i>
<i style="background:linear-gradient(90deg,#0052fc,#0053fc,#0053fc,#0054fc,#0054fc,#0055fc,#0056fc,#0057fc,#0058fc,#0059fc,#005afc,#005bfc,#005cfc,#005efc,#005ffc,#0060fc,#0062fc,#0064fc,#0065fc,#0067fc,#0069fc,#006bfc,#006dfc,#0070fc,#0072fc,#0075fc,#0078fc,#007bfc,#007efd,#0081fd,#0085fd,#0089fd,#008dfd,#0091fd,#0096fd,#009bfd,#00a1fd,#00a6fd,#00adfe,#00b4fe,#00bbfe,#00c3fe,#00ccfe,#00d5fe,#00e0ff,#00ebff,#00f0f8,#00f0eb,#00f1dd,#00f1ce,#00f2bd,#00f2ab,#00f296,#00f380,#00f468,#00f44e,#00f532,#16f525,#3af61f,#60f719,#87f813,#b1f80c,#dbf906,#fff200,#ffbf00,#ff8c00,#ff5c00,#ff3300,#fb1f04,#f41808,#f1150b,#f0140c,#f3170a,#f91d05,#ff3000,#ff5e00,#ff9500,#ffcc00,#f8fa01,#ccf908,#a2f80f,#7af715,#56f71b,#35f620,#16f525,#00f52d,#00f444,#00f458,#00f36b,#00f37c,#00f38c,#00f29a,#00f2a6,#00f2b2,#00f2bc,#00f1c6,#00f1cf,#00f1d7,#00f1de,#00f1e5,#00f0eb,#00f0f0)"></i>
<i style="background:linear-gradient(90deg,#0052fc,#0053fc,#0053fc,#0054fc,#0055fc,#0055fc,#0056fc,#0057fc,#0058fc,#0059fc,#005afc,#005cfc,#005dfc,#005efc,#0060fc,#0061fc,#0063fc,#0064fc,#0066fc,#0068fc,#006afc,#006cfc,#006ffc,#0071fc,#0074fc,#0076fc,#0079fc,#007cfc,#0080fd,#0083fd,#0087fd,#008bfd,#008ffd,#0094fd,#0099fd,#009efd,#00a4fd,#00aafd,#00b1fe,#00b8fe,#00c0fe,#00c8fe,#00d1fe,#00dbff,#00e6ff,#00f0fd,#00f0f1,#00f1e3,#00f1d5,#00f1c4,#00f2b3,#00f29f,#00f38a,#00f373,#00f45a,#00f43f,#07f527,#29f622,#4ef71c,#75f716,#9df80f,#c7f909,#f2fa02,#ffd700,#ffa500,#ff7300,#ff4600,#fe2200,#f71b06,#f2160a,#f0140c,#f1150b,#f51908,#fd2102,#ff4500,#ff7700,#ffaf00,#ffe500,#e4f904,#b8f90b,#8ff812,#69f718,#46f61d,#26f622,#08f527,#00f539,#00f44f,#00f463,#00f375,#00f386,#00f295,#00f2a3,#00f2af,#00f2ba,#00f1c5,#00f1ce,#00f1d7,#00f1de,#00f1e5,#00f0ec,#00f0f2,#00f0f7)"></i>
<i style="background:linear-gradient(90deg,#0052fc,#0053fc,#0053fc,#0054fc,#0055fc,#0056fc,#0057fc,#0058fc,#0059fc,#005afc,#005bfc,#005cfc,#005dfc,#005ffc,#0060fc,#0062fc,#0063fc,#0065fc,#0067fc,#0069fc,#006bfc,#006dfc,#0070fc,#0072fc,#0075fc,#0078fc,#007bfc,#007efd,#0082fd,#0085fd,#0089fd,#008dfd,#0092fd,#0097fd,#009cfd,#00a1fd,#00a7fd,#00aefe,#00b5fe,#00bcfe,#00c4fe,#00cdfe,#00d7fe,#00e1ff,#00edff,#00f0f6,#00f1e9,#00f1db,#00f1cc,#00f2bb,#00f2a8,#00f294,#00f37e,#00f466,#00f44c,#00f52f,#19f524,#3df61e,#63f719,#8af812,#b4f90c,#def905,#ffef00,#ffbd00,#ff8a00,#ff5a00,#ff3200,#fa1e04,#f41808,#f1150b,#f0140c,#f3170a,#f91d05,#ff2e00,#ff5b00,#ff9100,#ffc800,#fbfa01,#cff907,#a5f80e,#7df714,#58f71a,#36f61f,#17f524,#00f52d,#00f444,#00f45a,#00f36e,#00f37f,#00f38f,#00f29e,#00f2ab,#00f2b8,#00f1c3,#00f1cd,#00f1d6,#00f1de,#00f1e6,#00f0ed,#00f0f3,#00f0f9,#00f0fe)"></i>
<i style="background:linear-gradient(90deg,#0052fc,#0053fc,#0054fc,#0054fc,#0055fc,#0056fc,#0057fc,#0058fc,#0059fc,#005afc,#005bfc,#005cfc,#005efc,#005ffc,#0061fc,#0062fc,#0064fc,#0066fc,#0068fc,#006afc,#006cfc,#006ffc,#0071fc,#0074fc,#0076fc,#0079fc,#007dfc,#0080fd,#0084fd,#0087fd,#008bfd,#0090fd,#0094fd,#0099fd,#009ffd,#00a5fd,#00abfd,#00b2fe,#00b9fe,#00c1fe,#00c9fe,#00d3fe,#00ddff,#00e8ff,#00f0fb,#00f0ef,#00f1e1,#00f1d3,#00f1c2,#00f2b1,#00f29d,#00f388,#00f371,#00f458,#00f53c,#0af526,#2cf621,#51f71b,#78f715,#a0f80f,#caf908,#f4fa02,#ffd500,#ffa300,#ff7100,#ff4500,#fe2201,#f71b06,#f2160a,#f0140c,#f1150b,#f51908,#fd2102,#ff4300,#ff7400,#ffac00,#ffe100,#e7fa04,#bcf90b,#93f811,#6cf717,#48f61d,#27f622,#09f527,#00f539,#00f450,#00f465,#00f378,#00f389,#00f299,#00f2a7,#00f2b4,#00f1c0,#00f1cb,#00f1d5,#00f1de,#00f1e6,#00f0ed,#00f0f4,#00f0fa,#00efff,#00eaff)"></i>
<i style="background:linear-gradient(90deg,#0052fc,#0053fc,#0054fc,#0055fc,#0055fc,#0056fc,#0057fc,#0058fc,#0059fc,#005afc,#005cfc,#005dfc,#005efc,#0060fc,#0061fc,#0063fc,#0065fc,#0067fc,#0069fc,#006bfc,#006dfc,#0070fc,#0072fc,#0075fc,#0078fc,#007bfc,#007efd,#0082fd,#0086fd,#008afd,#008efd,#0092fd,#0097fd,#009cfd,#00a2fd,#00a8fd,#00affe,#00b6fe,#00bdfe,#00c6fe,#00cffe,#00d8fe,#00e3ff,#00efff,#00f0f4,#00f1e7,#00f1d9,#00f1ca,#00f2b9,#00f2a6,#00f391,#00f37b,#00f463,#00f449,#00f52d,#1cf624,#40f61e,#66f718,#8df812,#b6f90b,#e0f905,#ffed00,#ffbb00,#ff8800,#ff5900,#ff3100,#fa1e04,#f41809,#f1150b,#f0140c,#f3170a,#f91d05,#ff2c00,#ff5900,#ff8e00,#ffc500,#fffa00,#d3f907,#a8f80e,#80f814,#5bf71a,#38f61f,#18f524,#00f52d,#00f445,#00f45b,#00f370,#00f382,#00f393,#00f2a2,#00f2b0,#00f2bd,#00f1c8,#00f1d3,#00f1dd,#00f1e5,#00f0ed,#00f0f4,#00f0fb,#00eeff,#00e8ff,#00e3ff)"></i>
<i style="background:linear-gradient(90deg,#0053fc,#0053fc,#0054fc,#0055fc,#0056fc,#0056fc,#0057fc,#0059fc,#005afc,#005bfc,#005cfc,#005efc,#005ffc,#0061fc,#0062fc,#0064fc,#0066fc,#0068fc,#006afc,#006cfc,#006efc,#0071fc,#0074fc,#0076fc,#007afc,#007dfc,#0080fd,#0084fd,#0088fd,#008cfd,#0090fd,#0095fd,#009afd,#00a0fd,#00a5fd,#00acfe,#00b3fe,#00bafe,#00c2fe,#00cbfe,#00d4fe,#00deff,#00e9ff,#00f0fa,#00f0ed,#00f1e0,#00f1d1,#00f1c0,#00f2ae,#00f29b,#00f385,#00f36e,#00f455,#00f53a,#0df526,#2ff621,#54f71b,#7bf715,#a3f80e,#ccf908,#f6fa01,#ffd200,#ffa100,#ff6f00,#ff4400,#fe2201,#f71b06,#f2160a,#f0140c,#f1150b,#f51908,#fc2002,#ff4100,#ff7100,#ffa900,#ffde00,#eafa03,#bff90a,#96f811,#6ff717,#4af61c,#29f622,#0af526,#00f539,#00f451,#00f466,#00f37a,#00f38c,#00f29d,#00f2ab,#00f2b9,#00f1c5,#00f1d1,#00f1db,#00f1e4,#00f0ed,#00f0f4,#00f0fc,#00edff,#00e7ff,#00e1ff,#00dcff)"></i>
<i style="background:linear-gradient(90deg,#0053fc,#0053fc,#0054fc,#0055fc,#0056fc,#0057fc,#0058fc,#0059fc,#005afc,#005bfc,#005dfc,#005efc,#0060fc,#0061fc,#0063fc,#0065fc,#0067fc,#0069fc,#006bfc,#006dfc,#0070fc,#0072fc,#0075fc,#0078fc,#007bfc,#007efd,#0082fd,#0086fd,#008afd,#008efd,#0093fd,#0098fd,#009dfd,#00a3fd,#00a9fd,#00affe,#00b7fe,#00befe,#00c7fe,#00d0fe,#00daff,#00e4ff,#00f0ff,#00f0f3,#00f1e6,#00f1d7,#00f1c8,#00f2b7,#00f2a4,#00f38f,#00f379,#00f461,#00f446,#00f52a,#1ff623,#43f61e,#69f718,#90f811,#b9f90b,#e2f904,#ffea00,#ffb900,#ff8700,#ff5800,#ff3000,#fa1e04,#f41809,#f1150b,#f0140c,#f3170a,#f81c05,#ff2b00,#ff5700,#ff8b00,#ffc200,#fff700,#d6f906,#abf80d,#83f813,#5df719,#3af61f,#19f524,#00f52c,#00f445,#00f45c,#00f371,#00f385,#00f296,#00f2a6,#00f2b5,#00f1c2,#00f1ce,#00f1d9,#00f1e3,#00f0ec,#00f0f4,#00f0fc,#00ecff,#00e5ff,#00dfff,#00daff,#00d5fe)"></i>
<i style="background:linear-gradient(90deg,#0053fc,#0054fc,#0054fc,#0055fc,#0056fc,#0057fc,#0058fc,#0059fc,#005afc,#005cfc,#005dfc,#005ffc,#0060fc,#0062fc,#0064fc,#0066fc,#0068fc,#006afc,#006cfc,#006efc,#0071fc,#0074fc,#0076fc,#007afc,#007dfc,#0080fd,#0084fd,#0088fd,#008cfd,#0091fd,#0095fd,#009bfd,#00a0fd,#00a6fd,#00acfe,#00b3fe,#00bbfe,#00c3fe,#00ccfe,#00d5fe,#00e0ff,#00ebff,#00f0f8,#00f0ec,#00f1de,#00f1cf,#00f2be,#00f2ac,#00f299,#00f383,#00f36c,#00f453,#00f537,#10f526,#32f620,#57f71a,#7df714,#a5f80e,#cff908,#f8fa01,#ffd000,#ff9f00,#ff6e00,#ff4300,#fe2201,#f71b06,#f2160a,#f0140c,#f1150b,#f51908,#fc2002,#ff3f00,#ff6f00,#ffa500,#ffda00,#edfa03,#c2f90a,#98f810,#71f716,#4cf61c,#2af621,#0bf526,#00f539,#00f451,#00f468,#00f37c,#00f38f,#00f2a0,#00f2af,#00f2bd,#00f1ca,#00f1d6,#00f1e1,#00f0ea,#00f0f3,#00f0fb,#00ecff,#00e5ff,#00deff,#00d8fe,#00d3fe,#00cefe)"></i>
<i style="background:linear-gradient(90deg,#0053fc,#0054fc,#0055fc,#0055fc,#0056fc,#0057fc,#0058fc,#005afc,#005bfc,#005cfc,#005efc,#005ffc,#0061fc,#0063fc,#0064fc,#0066fc,#0068fc,#006bfc,#006dfc,#006ffc,#0072fc,#0075fc,#0078fc,#007bfc,#007efd,#0082fd,#0086fd,#008afd,#008efd,#0093fd,#0098fd,#009dfd,#00a3fd,#00a9fd,#00b0fe,#00b7fe,#00bffe,#00c8fe,#00d1fe,#00dbff,#00e6ff,#00f0fe,#00f0f1,#00f1e4,#00f1d6,#00f1c6,#00f2b5,#00f2a2,#00f38d,#00f377,#00f45e,#00f444,#00f528,#22f623,#45f61d,#6bf717,#92f811,#bbf90b,#e5f904,#ffe800,#ffb700,#ff8500,#ff5700,#ff2f00,#fa1e04,#f41809,#f1150b,#f0140c,#f2160a,#f81c05,#ff2a00,#ff5500,#ff8800,#ffbe00,#fff300,#d9f906,#aef80d,#86f813,#60f719,#3cf61f,#1bf624,#00f52c,#00f445,#00f45d,#00f373,#00f387,#00f299,#00f2a9,#00f2b8,#00f1c6,#00f1d3,#00f1de,#00f1e8,#00f0f2,#00f0fb,#00ecff,#00e5ff,#00deff,#00d7fe,#00d1fe,#00ccfe,#00c7fe)"></i>
<i style="background:linear-gradient(90deg,#0053fc,#0054fc,#0055fc,#0056fc,#0057fc,#0058fc,#0059fc,#005afc,#005bfc,#005dfc,#005efc,#0060fc,#0061fc,#0063fc,#0065fc,#0067fc,#0069fc,#006cfc,#006efc,#0071fc,#0073fc,#0076fc,#0079fc,#007dfc,#0080fd,#0084fd,#0088fd,#008cfd,#0091fd,#0096fd,#009bfd,#00a1fd,#00a7fd,#00adfe,#00b4fe,#00bcfe,#00c4fe,#00cdfe,#00d6fe,#00e1ff,#00ecff,#00f0f7,#00f0ea,#00f1dc,#00f1cd,#00f2bd,#00f2ab,#00f297,#00f381,#00f36a,#00f450,#00f535,#12f525,#35f620,#59f71a,#80f814,#a8f80e,#d1f907,#fafa01,#ffce00,#ff9d00,#ff6c00,#ff4200,#fe2201,#f71b07,#f2160a,#f0140c,#f1150b,#f51908,#fc2002,#ff3d00,#ff6c00,#ffa200,#ffd700,#f0fa02,#c5f909,#9bf810,#74f716,#4ef71c,#2cf621,#0cf526,#00f538,#00f451,#00f468,#00f37d,#00f391,#00f2a2,#00f2b3,#00f1c1,#00f1cf,#00f1db,#00f1e6,#00f0f0,#00f0f9,#00edff,#00e5ff,#00ddff,#00d7fe,#00d0fe,#00cafe,#00c5fe,#00c0fe)"></i>
<i style="background:linear-gradient(90deg,#0053fc,#0054fc,#0055fc,#0056fc,#0057fc,#0058fc,#0059fc,#005afc,#005cfc,#005dfc,#005ffc,#0060fc,#0062fc,#0064fc,#0066fc,#0068fc,#006afc,#006dfc,#006ffc,#0072fc,#0075fc,#0078fc,#007bfc,#007efd,#0082fd,#0086fd,#008afd,#008ffd,#0093fd,#0098fd,#009efd,#00a4fd,#00aafd,#00b1fe,#00b8fe,#00c0fe,#00c8fe,#00d2fe,#00dcff,#00e7ff,#00f0fc,#00f0f0,#00f1e3,#00f1d4,#00f1c4,#00f2b3,#00f2a0,#00f38b,#00f375,#00f45c,#00f442,#03f528,#24f622,#48f61d,#6df717,#95f811,#bdf90a,#e7fa04,#ffe600,#ffb500,#ff8300,#ff5500,#ff2f00,#fa1e04,#f41809,#f1150b,#f0140c,#f2160a,#f81c06,#ff2800,#ff5300,#ff8500,#ffbb00,#fff000,#dcf906,#b1f80c,#88f813,#62f719,#3ef61e,#1cf624,#00f52b,#00f445,#00f45d,#00f374,#00f388,#00f29b,#00f2ac,#00f2bc,#00f1ca,#00f1d7,#00f1e3,#00f0ee,#00f0f7,#00eeff,#00e6ff,#00deff,#00d6fe,#00d0fe,#00c9fe,#00c4fe,#00bffe,#00bafe)"></i>
<i style="background:linear-gradient(90deg,#0053fc,#0054fc,#0055fc,#0056fc,#0057fc,#0058fc,#0059fc,#005bfc,#005cfc,#005efc,#005ffc,#0061fc,#0063fc,#0065fc,#0067fc,#0069fc,#006bfc,#006efc,#0070fc,#0073fc,#0076fc,#0079fc,#007dfc,#0080fd,#0084fd,#0088fd,#008cfd,#0091fd,#0096fd,#009bfd,#00a1fd,#00a7fd,#00adfe,#00b5fe,#00bcfe,#00c4fe,#00cdfe,#00d7fe,#00e2ff,#00edff,#00f0f6,#00f1e9,#00f1db,#00f1cc,#00f2bb,#00f2a9,#00f295,#00f380,#00f468,#00f44f,#00f533,#14f525,#37f61f,#5bf71a,#82f814,#aaf80d,#d3f907,#fcfa00,#ffcc00,#ff9b00,#ff6b00,#ff4100,#fe2201,#f71b07,#f2160a,#f0140c,#f1150b,#f51908,#fc2003,#ff3c00,#ff6a00,#ff9f00,#ffd400,#f3fa02,#c8f909,#9ef80f,#76f715,#51f71b,#2df621,#0df526,#00f538,#00f451,#00f369,#00f37f,#00f392,#00f2a5,#00f2b5,#00f1c4,#00f1d2,#00f1df,#00f0eb,#00f0f5,#00f0ff,#00e7ff,#00deff,#00d7fe,#00cffe,#00c9fe,#00c3fe,#00bdfe,#00b8fe,#00b4fe)"></i>
<i style="background:linear-gradient(90deg,#0054fc,#0054fc,#0055fc,#0056fc,#0057fc,#0059fc,#005afc,#005bfc,#005dfc,#005efc,#0060fc,#0062fc,#0063fc,#0065fc,#0068fc,#006afc,#006cfc,#006ffc,#0072fc,#0074fc,#0077fc,#007bfc,#007efd,#0082fd,#0086fd,#008afd,#008ffd,#0093fd,#0098fd,#009efd,#00a4fd,#00aafd,#00b1fe,#00b8fe,#00c0fe,#00c9fe,#00d2fe,#00ddff,#00e8ff,#00f0fb,#00f0ef,#00f1e2,#00f1d3,#00f1c3,#00f2b2,#00f29f,#00f38a,#00f373,#00f45b,#00f440,#05f527,#26f622,#4af61c,#6ff717,#97f810,#bff90a,#e8fa04,#ffe400,#ffb300,#ff8200,#ff5400,#ff2e00,#fa1e04,#f41809,#f1150b,#f0140c,#f2160a,#f81c06,#ff2700,#ff5100,#ff8300,#ffb800,#ffed00,#dff905,#b4f90c,#8bf812,#64f718,#40f61e,#1ef623,#00f52a,#00f445,#00f45d,#00f374,#00f389,#00f29d,#00f2ae,#00f2be,#00f1cd,#00f1db,#00f1e7,#00f0f2,#00f0fc,#00e9ff,#00e0ff,#00d7fe,#00d0fe,#00c9fe,#00c2fe,#00bcfe,#00b7fe,#00b2fe,#00aefe)"></i>
<i style="background:linear-gradient(90deg,#0054fc,#0055fc,#0056fc,#0057fc,#0058fc,#0059fc,#005afc,#005cfc,#005dfc,#005ffc,#0060fc,#0062fc,#0064fc,#0066fc,#0068fc,#006bfc,#006dfc,#0070fc,#0073fc,#0076fc,#0079fc,#007cfc,#0080fd,#0084fd,#0088fd,#008cfd,#0091fd,#0096fd,#009bfd,#00a1fd,#00a7fd,#00aefe,#00b5fe,#00bdfe,#00c5fe,#00cefe,#00d8fe,#00e2ff,#00eeff,#00f0f5,#00f1e8,#00f1da,#00f1cb,#00f2ba,#00f2a8,#00f294,#00f37e,#00f466,#00f44d,#00f531,#16f525,#39f61f,#5df719,#84f813,#acf80d,#d5f907,#fefa00,#ffcb00,#ff9a00,#ff6a00,#ff4000,#fd2101,#f71b07,#f2160a,#f0140c,#f1150b,#f51908,#fc2003,#ff3a00,#ff6800,#ff9d00,#ffd100,#f5fa01,#caf908,#a1f80f,#78f715,#53f71b,#2ff621,#0ef526,#00f537,#00f451,#00f369,#00f37f,#00f294,#00f2a6,#00f2b8,#00f1c7,#00f1d6,#00f1e3,#00f0ef,#00f0fa,#00ebff,#00e1ff,#00d9fe,#00d0fe,#00c9fe,#00c2fe,#00bcfe,#00b6fe,#00b1fe,#00acfe,#00a8fd)"></i>
<i style="background:linear-gradient(90deg,#0054fc,#0055fc,#0056fc,#0057fc,#0058fc,#0059fc,#005bfc,#005cfc,#005efc,#005ffc,#0061fc,#0063fc,#0065fc,#0067fc,#0069fc,#006cfc,#006efc,#0071fc,#0074fc,#0077fc,#007afc,#007efd,#0082fd,#0086fd,#008afd,#008efd,#0093fd,#0098fd,#009efd,#00a4fd,#00aafd,#00b1fe,#00b9fe,#00c1fe,#00cafe,#00d3fe,#00ddff,#00e8ff,#00f0fb,#00f0ee,#00f1e1,#00f1d2,#00f1c2,#00f2b0,#00f29d,#00f388,#00f372,#00f459,#00f43f,#07f527,#28f622,#4cf61c,#71f716,#98f810,#c1f90a,#eafa03,#ffe200,#ffb200,#ff8100,#ff5400,#ff2d00,#fa1e04,#f41809,#f1150b,#f0140c,#f2160a,#f81c06,#ff2600,#ff4f00,#ff8000,#ffb600,#ffea00,#e1f905,#b7f90b,#8df812,#66f718,#42f61e,#1ff623,#00f529,#00f444,#00f45d,#00f375,#00f38a,#00f29e,#00f2b0,#00f1c1,#00f1d0,#00f1de,#00f0eb,#00f0f6,#00eeff,#00e4ff,#00daff,#00d2fe,#00cafe,#00c2fe,#00bcfe,#00b6fe,#00b0fe,#00abfd,#00a6fd,#00a2fd)"></i>
<i style="background:linear-gradient(90deg,#0054fc,#0055fc,#0056fc,#0057fc,#0058fc,#005afc,#005bfc,#005cfc,#005efc,#0060fc,#0062fc,#0064fc,#0066fc,#0068fc,#006afc,#006dfc,#006ffc,#0072fc,#0075fc,#0078fc,#007cfc,#0080fd,#0083fd,#0088fd,#008cfd,#0091fd,#0096fd,#009bfd,#00a1fd,#00a7fd,#00aefe,#00b5fe,#00bdfe,#00c5fe,#00cefe,#00d8fe,#00e3ff,#00efff,#00f0f4,#00f1e7,#00f1d9,#00f1ca,#00f2b9,#00f2a7,#00f393,#00f37d,#00f465,#00f44c,#00f530,#18f524,#3af61f,#5ff719,#85f813,#adf80d,#d6f906,#fffa00,#ffc900,#ff9900,#ff6900,#ff3f00,#fd2101,#f71b07,#f2160a,#f0140c,#f1150b,#f51908,#fb1f03,#ff3900,#ff6600,#ff9a00,#ffce00,#f8fa01,#cdf908,#a3f80e,#7bf715,#55f71b,#31f620,#0ff526,#00f536,#00f451,#00f369,#00f380,#00f295,#00f2a8,#00f2b9,#00f1c9,#00f1d8,#00f1e6,#00f0f2,#00f0fd,#00e7ff,#00ddff,#00d3fe,#00cbfe,#00c3fe,#00bcfe,#00b6fe,#00b0fe,#00aafd,#00a5fd,#00a1fd,#009cfd)"></i>
<i style="background:linear-gradient(90deg,#0054fc,#0055fc,#0056fc,#0057fc,#0059fc,#005afc,#005bfc,#005dfc,#005ffc,#0060fc,#0062fc,#0064fc,#0066fc,#0069fc,#006bfc,#006efc,#0071fc,#0073fc,#0077fc,#007afc,#007dfd,#0081fd,#0085fd,#008afd,#008efd,#0093fd,#0098fd,#009efd,#00a4fd,#00aafd,#00b1fe,#00b9fe,#00c1fe,#00cafe,#00d3fe,#00deff,#00e9ff,#00f0fa,#00f0ee,#00f1e0,#00f1d1,#00f1c1,#00f2b0,#00f29c,#00f387,#00f371,#00f458,#00f53d,#08f527,#2af621,#4df71c,#73f716,#9af810,#c2f90a,#ebfa03,#ffe100,#ffb100,#ff8000,#ff5300,#ff2d00,#fa1e04,#f41809,#f1150b,#f0140c,#f2160a,#f81c06,#ff2500,#ff4d00,#ff7e00,#ffb300,#ffe700,#e4f904,#b9f90b,#90f811,#69f718,#43f61d,#21f623,#00f528,#00f444,#00f45d,#00f375,#00f38b,#00f29f,#00f2b1,#00f1c2,#00f1d2,#00f1e0,#00f0ee,#00f0fa,#00eaff,#00dfff,#00d6fe,#00cdfe,#00c4fe,#00bdfe,#00b6fe,#00b0fe,#00aafd,#00a5fd,#00a0fd,#009bfd,#0097fd)"></i>
<i style="background:linear-gradient(90deg,#0054fc,#0055fc,#0056fc,#0058fc,#0059fc,#005afc,#005cfc,#005dfc,#005ffc,#0061fc,#0063fc,#0065fc,#0067fc,#006afc,#006cfc,#006ffc,#0072fc,#0075fc,#0078fc,#007bfc,#007ffd,#0083fd,#0087fd,#008cfd,#0090fd,#0095fd,#009bfd,#00a1fd,#00a7fd,#00aefe,#00b5fe,#00bdfe,#00c5fe,#00cefe,#00d8fe,#00e3ff,#00efff,#00f0f4,#00f1e7,#00f1d9,#00f1c9,#00f2b8,#00f2a6,#00f392,#00f37c,#00f464,#00f44a,#00f52f,#19f524,#3cf61f,#60f719,#87f813,#aff80d,#d7f906,#fff900,#ffc800,#ff9700,#ff6800,#ff3f00,#fd2101,#f71b07,#f2160a,#f0140c,#f1150b,#f51908,#fb1f03,#ff3800,#ff6400,#ff9700,#ffcb00,#fbfa01,#d0f907,#a6f80e,#7df714,#57f71a,#32f620,#11f525,#00f536,#00f450,#00f369,#00f380,#00f295,#00f2a9,#00f2bb,#00f1cb,#00f1da,#00f1e8,#00f0f5,#00eeff,#00e3ff,#00d8fe,#00cffe,#00c6fe,#00befe,#00b7fe,#00b0fe,#00aafd,#00a4fd,#009ffd,#009afd,#0096fd,#0092fd)"></i>
<i style="background:linear-gradient(90deg,#0055fc,#0056fc,#0057fc,#0058fc,#0059fc,#005bfc,#005cfc,#005efc,#0060fc,#0062fc,#0064fc,#0066fc,#0068fc,#006afc,#006dfc,#0070fc,#0073fc,#0076fc,#0079fc,#007dfc,#0081fd,#0085fd,#0089fd,#008efd,#0093fd,#0098fd,#009efd,#00a4fd,#00aafd,#00b1fe,#00b9fe,#00c1fe,#00cafe,#00d3fe,#00deff,#00e9ff,#00f0fa,#00f0ed,#00f1e0,#00f1d1,#00f1c1,#00f2af,#00f29c,#00f387,#00f370,#00f457,#00f53c,#09f527,#2bf621,#4ef71c,#74f716,#9bf810,#c3f909,#ecfa03,#ffe000,#ffb000,#ff7f00,#ff5200,#ff2c00,#fa1e04,#f41809,#f1150b,#f0140c,#f2160a,#f71b06,#ff2400,#ff4c00,#ff7c00,#ffb100,#ffe400,#e6fa04,#bcf90b,#92f811,#6bf717,#45f61d,#22f623,#01f528,#00f443,#00f45d,#00f375,#00f38b,#00f29f,#00f2b2,#00f1c4,#00f1d4,#00f1e3,#00f0f0,#00f0fc,#00e7ff,#00dcff,#00d1fe,#00c8fe,#00c0fe,#00b8fe,#00b1fe,#00aafd,#00a4fd,#009ffd,#009afd,#0095fd,#0091fd,#008dfd)"></i>
<i style="background:linear-gradient(90deg,#0055fc,#0056fc,#0057fc,#0058fc,#005afc,#005bfc,#005dfc,#005efc,#0060fc,#0062fc,#0064fc,#0066fc,#0069fc,#006bfc,#006efc,#0071fc,#0074fc,#0077fc,#007bfc,#007efd,#0082fd,#0087fd,#008bfd,#0090fd,#0095fd,#009afd,#00a0fd,#00a7fd,#00adfe,#00b5fe,#00bdfe,#00c5fe,#00cefe,#00d8fe,#00e3ff,#00efff,#00f0f4,#00f1e7,#00f1d8,#00f1c9,#00f2b8,#00f2a5,#00f391,#00f37b,#00f463,#00f44a,#00f52e,#1af624,#3df61e,#62f719,#88f813,#b0f80c,#d8f906,#fff800,#ffc700,#ff9700,#ff6700,#ff3e00,#fd2101,#f71b07,#f2160a,#f0140c,#f1150b,#f41808,#fb1f03,#ff3600,#ff6200,#ff9500,#ffc900,#fdfa00,#d2f907,#a8f80e,#7ff714,#59f71a,#34f620,#12f525,#00f535,#00f450,#00f369,#00f380,#00f296,#00f2a9,#00f2bc,#00f1cd,#00f1dc,#00f0ea,#00f0f8,#00ebff,#00dfff,#00d5fe,#00cbfe,#00c2fe,#00bafe,#00b2fe,#00abfe,#00a5fd,#009ffd,#0099fd,#0094fd,#0090fd,#008cfd,#0088fd)"></i>
<i style="background:linear-gradient(90deg,#0055fc,#0056fc,#0057fc,#0059fc,#005afc,#005bfc,#005dfc,#005ffc,#0061fc,#0063fc,#0065fc,#0067fc,#006afc,#006cfc,#006ffc,#0072fc,#0075fc,#0079fc,#007cfc,#0080fd,#0084fd,#0088fd,#008dfd,#0092fd,#0097fd,#009dfd,#00a3fd,#00aafd,#00b1fe,#00b8fe,#00c1fe,#00cafe,#00d3fe,#00deff,#00e9ff,#00f0fa,#00f0ed,#00f1e0,#00f1d1,#00f1c0,#00f2ae,#00f29b,#00f386,#00f36f,#00f456,#00f53c,#0af526,#2cf621,#4ff71c,#75f716,#9cf810,#c4f909,#edfa03,#ffdf00,#ffaf00,#ff7e00,#ff5100,#ff2c00,#fa1e04,#f41809,#f1150b,#f0140c,#f2160a,#f71b06,#ff2300,#ff4a00,#ff7a00,#ffae00,#ffe100,#e9fa04,#bef90a,#94f811,#6df717,#47f61d,#24f622,#02f528,#00f442,#00f45c,#00f375,#00f38b,#00f2a0,#00f2b3,#00f1c5,#00f1d5,#00f1e4,#00f0f2,#00f0ff,#00e4ff,#00d8fe,#00cefe,#00c4fe,#00bcfe,#00b4fe,#00acfe,#00a5fd,#009ffd,#009afd,#0094fd,#008ffd,#008bfd,#0087fd,#0083fd)"></i>
<i style="background:linear-gradient(90deg,#0055fc,#0056fc,#0058fc,#0059fc,#005afc,#005cfc,#005efc,#005ffc,#0061fc,#0063fc,#0066fc,#0068fc,#006bfc,#006dfc,#0070fc,#0073fc,#0077fc,#007afc,#007efd,#0082fd,#0086fd,#008afd,#008ffd,#0094fd,#009afd,#00a0fd,#00a6fd,#00adfe,#00b4fe,#00bcfe,#00c5fe,#00cefe,#00d8fe,#00e3ff,#00efff,#00f0f4,#00f1e7,#00f1d8,#00f1c8,#00f2b7,#00f2a5,#00f391,#00f37b,#00f463,#00f449,#00f52d,#1bf624,#3ef61e,#62f719,#89f813,#b0f80c,#d9f906,#fff700,#ffc600,#ff9600,#ff6600,#ff3e00,#fd2102,#f61a07,#f2160a,#f0140c,#f1150b,#f41809,#fb1f03,#ff3500,#ff6000,#ff9300,#ffc600,#fffa00,#d4f907,#aaf80d,#81f814,#5bf71a,#36f620,#13f525,#00f534,#00f44f,#00f468,#00f380,#00f296,#00f2aa,#00f2bd,#00f1ce,#00f1de,#00f0ec,#00f0fa,#00e9ff,#00ddff,#00d2fe,#00c7fe,#00befe,#00b6fe,#00aefe,#00a7fd,#00a0fd,#009afd,#0095fd,#008ffd,#008bfd,#0086fd,#0082fd,#007ffd)"></i>
<i style="background:linear-gradient(90deg,#0055fc,#0057fc,#0058fc,#0059fc,#005bfc,#005cfc,#005efc,#0060fc,#0062fc,#0064fc,#0066fc,#0069fc,#006bfc,#006efc,#0071fc,#0074fc,#0078fc,#007bfc,#007ffd,#0083fd,#0088fd,#008cfd,#0091fd,#0097fd,#009dfd,#00a3fd,#00a9fd,#00b0fe,#00b8fe,#00c0fe,#00c9fe,#00d3fe,#00deff,#00e9ff,#00f0fa,#00f0ed,#00f1e0,#00f1d0,#00f1c0,#00f2ae,#00f29b,#00f386,#00f36f,#00f456,#00f53b,#0bf526,#2cf621,#50f71b,#76f716,#9df80f,#c5f909,#eefa03,#ffde00,#ffae00,#ff7d00,#ff5100,#ff2b00,#fa1e04,#f41809,#f1150b,#f0140c,#f2160a,#f71b06,#ff2300,#ff4900,#ff7800,#ffac00,#ffdf00,#ebfa03,#c0f90a,#97f810,#6ff717,#49f61d,#25f622,#04f527,#00f441,#00f45c,#00f374,#00f38b,#00f2a0,#00f2b4,#00f1c6,#00f1d6,#00f1e6,#00f0f4,#00eeff,#00e1ff,#00d6fe,#00cbfe,#00c1fe,#00b8fe,#00b0fe,#00a8fd,#00a1fd,#009bfd,#0095fd,#0090fd,#008bfd,#0086fd,#0082fd,#007efd,#007afc)"></i>
<i style="background:linear-gradient(90deg,#0056fc,#0057fc,#0058fc,#0059fc,#005bfc,#005dfc,#005ffc,#0060fc,#0063fc,#0065fc,#0067fc,#006afc,#006cfc,#006ffc,#0072fc,#0076fc,#0079fc,#007dfc,#0081fd,#0085fd,#008afd,#008efd,#0094fd,#0099fd,#009ffd,#00a6fd,#00acfe,#00b4fe,#00bcfe,#00c4fe,#00cefe,#00d8fe,#00e3ff,#00efff,#00f0f4,#00f1e7,#00f1d8,#00f1c8,#00f2b7,#00f2a5,#00f390,#00f37a,#00f462,#00f449,#00f52d,#1bf624,#3ef61e,#63f718,#89f812,#b1f80c,#daf906,#fff600,#ffc600,#ff9500,#ff6600,#ff3d00,#fd2102,#f61a07,#f2160a,#f0140c,#f1150b,#f41809,#fb1f04,#ff3400,#ff5e00,#ff9100,#ffc400,#fff700,#d6f906,#acf80d,#83f813,#5cf719,#37f61f,#15f525,#00f533,#00f44e,#00f468,#00f380,#00f296,#00f2aa,#00f2bd,#00f1cf,#00f1df,#00f0ed,#00f0fb,#00e7ff,#00daff,#00cffe,#00c5fe,#00bbfe,#00b2fe,#00aafd,#00a3fd,#009cfd,#0096fd,#0090fd,#008bfd,#0086fd,#0082fd,#007dfd,#007afc,#0076fc)"></i>
<i style="background:linear-gradient(90deg,#0056fc,#0057fc,#0058fc,#005afc,#005bfc,#005dfc,#005ffc,#0061fc,#0063fc,#0065fc,#0068fc,#006bfc,#006dfc,#0070fc,#0073fc,#0077fc,#007bfc,#007efd,#0082fd,#0087fd,#008cfd,#0091fd,#0096fd,#009cfd,#00a2fd,#00a9fd,#00b0fe,#00b7fe,#00c0fe,#00c9fe,#00d3fe,#00ddff,#00e9ff,#00f0fa,#00f0ee,#00f1e0,#00f1d1,#00f1c0,#00f2ae,#00f29b,#00f386,#00f36e,#00f456,#00f53b,#0bf526,#2df621,#51f71b,#76f715,#9df80f,#c5f909,#eefa03,#ffdd00,#ffae00,#ff7d00,#ff5100,#ff2b00,#f91d04,#f41809,#f1150b,#f0140c,#f2160a,#f71b06,#ff2300,#ff4800,#ff7600,#ffaa00,#ffdc00,#edfa03,#c2f90a,#99f810,#71f716,#4bf61c,#27f622,#05f527,#00f440,#00f45b,#00f374,#00f38b,#00f2a0,#00f2b4,#00f1c6,#00f1d7,#00f1e7,#00f0f5,#00ecff,#00dfff,#00d4fe,#00c9fe,#00befe,#00b5fe,#00adfe,#00a5fd,#009efd,#0097fd,#0091fd,#008cfd,#0086fd,#0082fd,#007dfd,#0079fc,#0075fc,#0072fc)"></i>
<i style="background:linear-gradient(90deg,#0056fc,#0057fc,#0059fc,#005afc,#005cfc,#005efc,#005ffc,#0062fc,#0064fc,#0066fc,#0069fc,#006bfc,#006efc,#0071fc,#0075fc,#0078fc,#007cfc,#0080fd,#0084fd,#0089fd,#008efd,#0093fd,#0098fd,#009efd,#00a5fd,#00acfe,#00b3fe,#00bbfe,#00c4fe,#00cdfe,#00d7fe,#00e2ff,#00eeff,#00f0f4,#00f1e7,#00f1d8,#00f1c9,#00f2b7,#00f2a5,#00f390,#00f37a,#00f462,#00f448,#00f52d,#1cf624,#3ff61e,#63f718,#8af812,#b1f80c,#daf906,#fff600,#ffc500,#ff9500,#ff6600,#ff3d00,#fd2102,#f61a07,#f2160a,#f0140c,#f1150b,#f41809,#fa1e04,#ff3300,#ff5d00,#ff8f00,#ffc200,#fff500,#d9f906,#aef80d,#85f813,#5ef719,#39f61f,#16f525,#00f532,#00f44e,#00f468,#00f380,#00f296,#00f2aa,#00f2be,#00f1cf,#00f1df,#00f0ee,#00f0fc,#00e5ff,#00d9fe,#00cdfe,#00c2fe,#00b9fe,#00b0fe,#00a7fd,#00a0fd,#0099fd,#0092fd,#008cfd,#0087fd,#0082fd,#007dfd,#0079fc,#0075fc,#0071fc,#006efc)"></i>
<i style="background:linear-gradient(90deg,#0056fc,#0057fc,#0059fc,#005afc,#005cfc,#005efc,#0060fc,#0062fc,#0064fc,#0067fc,#0069fc,#006cfc,#006ffc,#0072fc,#0076fc,#0079fc,#007dfd,#0081fd,#0086fd,#008bfd,#0090fd,#0095fd,#009bfd,#00a1fd,#00a8fd,#00affe,#00b7fe,#00bffe,#00c8fe,#00d2fe,#00dcff,#00e8ff,#00f0fb,#00f0ee,#00f1e0,#00f1d1,#00f1c0,#00f2ae,#00f29b,#00f386,#00f36f,#00f456,#00f53b,#0bf526,#2df621,#51f71b,#76f715,#9ef80f,#c6f909,#eefa03,#ffdd00,#ffae00,#ff7d00,#ff5000,#ff2b00,#f91d04,#f41809,#f1150b,#f0140c,#f2160a,#f71b06,#fe2201,#ff4700,#ff7400,#ffa800,#ffda00,#effa03,#c4f909,#9bf810,#73f716,#4cf61c,#28f622,#06f527,#00f440,#00f45b,#00f374,#00f38b,#00f2a0,#00f2b4,#00f1c7,#00f1d8,#00f1e7,#00f0f6,#00ebff,#00deff,#00d2fe,#00c7fe,#00bcfe,#00b3fe,#00aafd,#00a2fd,#009bfd,#0094fd,#008efd,#0088fd,#0083fd,#007efd,#0079fc,#0075fc,#0071fc,#006efc,#006afc)"></i>
<i style="background:linear-gradient(90deg,#0056fc,#0058fc,#0059fc,#005bfc,#005dfc,#005efc,#0061fc,#0063fc,#0065fc,#0068fc,#006afc,#006dfc,#0070fc,#0074fc,#0077fc,#007bfc,#007ffd,#0083fd,#0088fd,#008dfd,#0092fd,#0097fd,#009dfd,#00a4fd,#00abfd,#00b2fe,#00bafe,#00c3fe,#00ccfe,#00d7fe,#00e2ff,#00eeff,#00f0f5,#00f1e7,#00f1d9,#00f1c9,#00f2b8,#00f2a5,#00f391,#00f37a,#00f462,#00f448,#00f52d,#1cf624,#3ff61e,#63f718,#8af812,#b2f80c,#daf906,#fff500,#ffc500,#ff9500,#ff6600,#ff3d00,#fd2102,#f61a07,#f2160a,#f0140c,#f1150b,#f41809,#fa1e04,#ff3200,#ff5c00,#ff8d00,#ffc000,#fff300,#daf906,#b0f80c,#87f813,#60f719,#3bf61f,#17f524,#00f531,#00f44d,#00f467,#00f37f,#00f296,#00f2ab,#00f2be,#00f1d0,#00f1e0,#00f0ef,#00f0fd,#00e4ff,#00d7fe,#00cbfe,#00c0fe,#00b6fe,#00adfe,#00a5fd,#009dfd,#0096fd,#008ffd,#0089fd,#0084fd,#007ffd,#007afc,#0075fc,#0071fc,#006dfc,#006afc,#0067fc)"></i>
<i style="background:linear-gradient(90deg,#0057fc,#0058fc,#005afc,#005bfc,#005dfc,#005ffc,#0061fc,#0063fc,#0066fc,#0068fc,#006bfc,#006efc,#0071fc,#0075fc,#0078fc,#007cfc,#0080fd,#0085fd,#008afd,#008ffd,#0094fd,#009afd,#00a0fd,#00a7fd,#00aefe,#00b6fe,#00befe,#00c7fe,#00d1fe,#00dcff,#00e7ff,#00f0fb,#00f0ef,#00f1e1,#00f1d1,#00f1c1,#00f2af,#00f29b,#00f386,#00f36f,#00f456,#00f53b,#0bf526,#2df621,#51f71b,#76f715,#9ef80f,#c6f909,#effa03,#ffdd00,#ffad00,#ff7d00,#ff5000,#ff2b00,#f91d04,#f41809,#f1150b,#f0140c,#f2160a,#f71b06,#fe2201,#ff4500,#ff7300,#ffa600,#ffd800,#f1fa02,#c6f909,#9df80f,#74f716,#4ef71c,#29f622,#07f527,#00f43f,#00f45a,#00f373,#00f38b,#00f2a0,#00f2b4,#00f1c7,#00f1d8,#00f1e8,#00f0f7,#00eaff,#00ddff,#00d0fe,#00c5fe,#00bafe,#00b1fe,#00a8fd,#00a0fd,#0098fd,#0091fd,#008bfd,#0085fd,#0080fd,#007afc,#0076fc,#0072fc,#006efc,#006afc,#0066fc,#0063fc)"></i>
<i style="background:linear-gradient(90deg,#0057fc,#0058fc,#005afc,#005cfc,#005dfc,#005ffc,#0062fc,#0064fc,#0066fc,#0069fc,#006cfc,#006ffc,#0072fc,#0076fc,#007afc,#007efd,#0082fd,#0087fd,#008bfd,#0091fd,#0096fd,#009cfd,#00a3fd,#00aafd,#00b1fe,#00b9fe,#00c2fe,#00ccfe,#00d6fe,#00e1ff,#00edff,#00f0f6,#00f1e8,#00f1da,#00f1ca,#00f2b8,#00f2a6,#00f391,#00f37b,#00f463,#00f449,#00f52d,#1cf624,#3ef61e,#63f718,#8af812,#b2f80c,#daf906,#fff500,#ffc500,#ff9500,#ff6600,#ff3d00,#fd2102,#f61a07,#f2160a,#f0140c,#f1150b,#f41809,#fa1e04,#ff3100,#ff5a00,#ff8b00,#ffbe00,#fff100,#dcf905,#b2f80c,#89f812,#62f719,#3cf61f,#19f524,#00f530,#00f44c,#00f466,#00f37f,#00f296,#00f2ab,#00f2be,#00f1d0,#00f1e0,#00f0f0,#00f0fe,#00e3ff,#00d6fe,#00cafe,#00bffe,#00b5fe,#00abfe,#00a3fd,#009bfd,#0093fd,#008dfd,#0087fd,#0081fd,#007cfc,#0077fc,#0072fc,#006efc,#006afc,#0066fc,#0063fc,#0060fc)"></i>
<i style="background:linear-gradient(90deg,#0057fc,#0059fc,#005afc,#005cfc,#005efc,#0060fc,#0062fc,#0065fc,#0067fc,#006afc,#006dfc,#0070fc,#0074fc,#0077fc,#007bfc,#007ffd,#0084fd,#0088fd,#008dfd,#0093fd,#0099fd,#009ffd,#00a6fd,#00adfe,#00b5fe,#00bdfe,#00c6fe,#00d0fe,#00dbff,#00e6ff,#00f0fc,#00f0ef,#00f1e1,#00f1d2,#00f1c2,#00f2af,#00f29c,#00f386,#00f36f,#00f456,#00f53b,#0bf526,#2df621,#51f71b,#76f715,#9df80f,#c6f909,#eefa03,#ffdd00,#ffae00,#ff7d00,#ff5100,#ff2b00,#f91d04,#f41809,#f1150b,#f0140c,#f2160a,#f71b07,#fe2201,#ff4500,#ff7100,#ffa400,#ffd600,#f2fa02,#c8f909,#9ef80f,#76f715,#4ff71c,#2bf621,#08f527,#00f43e,#00f459,#00f373,#00f38a,#00f2a0,#00f2b4,#00f1c7,#00f1d8,#00f1e9,#00f0f7,#00e9ff,#00dcff,#00cffe,#00c4fe,#00b9fe,#00affe,#00a6fd,#009efd,#0096fd,#008ffd,#0088fd,#0082fd,#007dfc,#0078fc,#0073fc,#006ffc,#006afc,#0067fc,#0063fc,#0060fc,#005dfc)"></i>
<i style="background:linear-gradient(90deg,#0057fc,#0059fc,#005bfc,#005cfc,#005efc,#0060fc,#0063fc,#0065fc,#0068fc,#006bfc,#006efc,#0071fc,#0075fc,#0078fc,#007cfc,#0081fd,#0085fd,#008afd,#008ffd,#0095fd,#009bfd,#00a2fd,#00a9fd,#00b0fe,#00b8fe,#00c1fe,#00cafe,#00d5fe,#00e0ff,#00ecff,#00f0f6,#00f1e9,#00f1da,#00f1ca,#00f2b9,#00f2a6,#00f392,#00f37b,#00f463,#00f449,#00f52d,#1bf624,#3ef61e,#63f718,#8af812,#b1f80c,#daf906,#fff600,#ffc500,#ff9500,#ff6600,#ff3d00,#fd2102,#f61a07,#f2160a,#f0140c,#f1150b,#f41809,#fa1e04,#ff3100,#ff5900,#ff8a00,#ffbc00,#ffef00,#def905,#b4f90c,#8bf812,#63f718,#3ef61e,#1af624,#00f52f,#00f44b,#00f466,#00f37e,#00f295,#00f2aa,#00f2be,#00f1d0,#00f1e1,#00f0f0,#00f0ff,#00e2ff,#00d5fe,#00c9fe,#00befe,#00b3fe,#00aafd,#00a1fd,#0099fd,#0091fd,#008bfd,#0084fd,#007efd,#0079fc,#0074fc,#006ffc,#006bfc,#0067fc,#0063fc,#0060fc,#005dfc,#005afc)"></i>
<i style="background:linear-gradient(90deg,#0058fc,#0059fc,#005bfc,#005dfc,#005ffc,#0061fc,#0063fc,#0066fc,#0069fc,#006cfc,#006ffc,#0072fc,#0076fc,#007afc,#007efd,#0082fd,#0087fd,#008cfd,#0092fd,#0097fd,#009efd,#00a4fd,#00acfe,#00b3fe,#00bcfe,#00c5fe,#00cffe,#00daff,#00e5ff,#00f0fd,#00f0f0,#00f1e2,#00f1d3,#00f1c2,#00f2b0,#00f29d,#00f387,#00f370,#00f457,#00f53c,#0af526,#2cf621,#50f71b,#76f716,#9df80f,#c5f909,#eefa03,#ffdd00,#ffae00,#ff7d00,#ff5100,#ff2b00,#fa1e04,#f41809,#f1150b,#f0140c,#f2160a,#f71b07,#fe2201,#ff4400,#ff7000,#ffa300,#ffd500,#f4fa02,#caf908,#a0f80f,#78f715,#51f71b,#2cf621,#0af527,#00f53d,#00f458,#00f372,#00f38a,#00f2a0,#00f2b4,#00f1c7,#00f1d9,#00f1e9,#00f0f8,#00e9ff,#00dbff,#00cefe,#00c3fe,#00b8fe,#00aefe,#00a5fd,#009cfd,#0094fd,#008dfd,#0086fd,#0080fd,#007bfc,#0075fc,#0070fc,#006cfc,#0068fc,#0064fc,#0060fc,#005dfc,#005afc,#0057fc)"></i>
<i style="background:linear-gradient(90deg,#0058fc,#0059fc,#005bfc,#005dfc,#005ffc,#0062fc,#0064fc,#0067fc,#006afc,#006dfc,#0070fc,#0073fc,#0077fc,#007bfc,#007ffd,#0084fd,#0089fd,#008efd,#0094fd,#009afd,#00a0fd,#00a7fd,#00affe,#00b7fe,#00c0fe,#00c9fe,#00d4fe,#00dfff,#00ebff,#00f0f7,#00f0ea,#00f1db,#00f1cb,#00f2ba,#00f2a7,#00f392,#00f37c,#00f464,#00f44a,#00f52e,#1bf624,#3ef61e,#63f719,#89f812,#b1f80c,#daf906,#fff600,#ffc500,#ff9500,#ff6600,#ff3d00,#fd2102,#f71b07,#f2160a,#f0140c,#f1150b,#f41809,#fa1e04,#ff3000,#ff5800,#ff8800,#ffbb00,#ffed00,#e0f905,#b6f90c,#8cf812,#65f718,#3ff61e,#1bf624,#00f52e,#00f44b,#00f465,#00f37e,#00f295,#00f2aa,#00f2be,#00f1d0,#00f1e1,#00f0f1,#00f0ff,#00e2ff,#00d4fe,#00c8fe,#00bdfe,#00b2fe,#00a9fd,#00a0fd,#0097fd,#0090fd,#0089fd,#0082fd,#007cfc,#0077fc,#0072fc,#006dfc,#0069fc,#0065fc,#0061fc,#005dfc,#005afc,#0057fc,#0054fc)"></i>
<i style="background:linear-gradient(90deg,#0058fc,#005afc,#005cfc,#005efc,#0060fc,#0062fc,#0065fc,#0067fc,#006afc,#006dfc,#0071fc,#0074fc,#0078fc,#007cfc,#0081fd,#0086fd,#008bfd,#0090fd,#0096fd,#009cfd,#00a3fd,#00aafd,#00b2fe,#00bbfe,#00c4fe,#00cefe,#00d8fe,#00e4ff,#00f0fe,#00f0f1,#00f1e3,#00f1d4,#00f1c3,#00f2b1,#00f29d,#00f388,#00f371,#00f458,#00f53c,#09f527,#2bf621,#50f71c,#75f716,#9df80f,#c5f909,#eefa03,#ffde00,#ffae00,#ff7d00,#ff5100,#ff2c00,#fa1e04,#f41809,#f1150b,#f0140c,#f2160a,#f71b07,#fe2201,#ff4300,#ff6f00,#ffa100,#ffd300,#f5fa02,#cbf908,#a2f80f,#79f715,#52f71b,#2df621,#0bf526,#00f53c,#00f458,#00f372,#00f38a,#00f2a0,#00f2b4,#00f1c7,#00f1d9,#00f1e9,#00f0f8,#00e8ff,#00dbff,#00cefe,#00c2fe,#00b7fe,#00adfe,#00a4fd,#009bfd,#0093fd,#008cfd,#0085fd,#007efd,#0079fc,#0073fc,#006efc,#006afc,#0065fc,#0061fc,#005efc,#005afc,#0057fc,#0054fc,#0052fc)"></i>
<i style="background:linear-gradient(90deg,#0058fc,#005afc,#005cfc,#005efc,#0060fc,#0063fc,#0065fc,#0068fc,#006bfc,#006efc,#0072fc,#0076fc,#007afc,#007efd,#0082fd,#0087fd,#008dfd,#0092fd,#0098fd,#009ffd,#00a6fd,#00adfe,#00b6fe,#00befe,#00c8fe,#00d2fe,#00ddff,#00eaff,#00f0f9,#00f0eb,#00f1dc,#00f1cc,#00f2bb,#00f2a8,#00f393,#00f37d,#00f465,#00f44b,#00f52f,#1af624,#3df61e,#62f719,#88f813,#b0f80c,#d9f906,#fff600,#ffc600,#ff9600,#ff6700,#ff3e00,#fd2101,#f71b07,#f2160a,#f0140c,#f1150b,#f41809,#fa1e04,#ff2f00,#ff5700,#ff8700,#ffb900,#ffeb00,#e1f905,#b7f90b,#8ef812,#66f718,#40f61e,#1cf624,#00f52d,#00f44a,#00f465,#00f37e,#00f295,#00f2aa,#00f2be,#00f1d0,#00f1e1,#00f0f1,#00f0ff,#00e1ff,#00d4fe,#00c8fe,#00bcfe,#00b1fe,#00a8fd,#009ffd,#0096fd,#008efd,#0087fd,#0081fd,#007bfc,#0075fc,#0070fc,#006bfc,#0067fc,#0062fc,#005ffc,#005bfc,#0058fc,#0055fc,#0052fc,#004ffc)"></i>
<i style="background:linear-gradient(90deg,#0059fc,#005afc,#005cfc,#005efc,#0061fc,#0063fc,#0066fc,#0069fc,#006cfc,#006ffc,#0073fc,#0077fc,#007bfc,#007ffd,#0084fd,#0089fd,#008ffd,#0094fd,#009bfd,#00a1fd,#00a9fd,#00b1fe,#00b9fe,#00c2fe,#00ccfe,#00d7fe,#00e3ff,#00efff,#00f0f3,#00f1e5,#00f1d5,#00f1c5,#00f2b2,#00f29e,#00f389,#00f372,#00f458,#00f53d,#09f527,#2bf621,#4ff71c,#75f716,#9cf810,#c4f909,#edfa03,#ffde00,#ffaf00,#ff7e00,#ff5200,#ff2c00,#fa1e04,#f41809,#f1150b,#f0140c,#f2160a,#f71b07,#fe2201,#ff4200,#ff6e00,#ffa000,#ffd200,#f7fa01,#cdf908,#a3f80e,#7bf715,#54f71b,#2ff621,#0cf526,#00f53b,#00f457,#00f371,#00f389,#00f2a0,#00f2b4,#00f1c7,#00f1d9,#00f1e9,#00f0f8,#00e8ff,#00daff,#00cdfe,#00c1fe,#00b6fe,#00acfe,#00a3fd,#009afd,#0092fd,#008afd,#0083fd,#007dfc,#0077fc,#0072fc,#006cfc,#0068fc,#0063fc,#005ffc,#005cfc,#0058fc,#0055fc,#0052fc,#004ffc,#004dfb)"></i>
<i style="background:linear-gradient(90deg,#0059fc,#005bfc,#005dfc,#005ffc,#0061fc,#0064fc,#0067fc,#006afc,#006dfc,#0070fc,#0074fc,#0078fc,#007cfc,#0081fd,#0086fd,#008bfd,#0091fd,#0097fd,#009dfd,#00a4fd,#00acfe,#00b4fe,#00bdfe,#00c6fe,#00d1fe,#00dcff,#00e8ff,#00f0fa,#00f0ec,#00f1de,#00f1ce,#00f2bc,#00f2a9,#00f295,#00f37e,#00f466,#00f44c,#00f52f,#19f524,#3cf61f,#61f719,#88f813,#b0f80c,#d8f906,#fff700,#ffc700,#ff9600,#ff6700,#ff3e00,#fd2101,#f71b07,#f2160a,#f0140c,#f1150b,#f41809,#fa1e04,#ff2f00,#ff5600,#ff8600,#ffb800,#ffea00,#e2f905,#b8f90b,#8ff812,#68f718,#41f61e,#1df623,#00f52c,#00f449,#00f464,#00f37d,#00f294,#00f2aa,#00f2be,#00f1d0,#00f1e1,#00f0f1,#00efff,#00e1ff,#00d3fe,#00c7fe,#00bbfe,#00b1fe,#00a7fd,#009efd,#0095fd,#008dfd,#0086fd,#007ffd,#0079fc,#0074fc,#006efc,#0069fc,#0065fc,#0061fc,#005dfc,#0059fc,#0056fc,#0052fc,#0050fc,#004dfb,#004afb)"></i>
<i style="background:linear-gradient(90deg,#0059fc,#005bfc,#005dfc,#005ffc,#0062fc,#0065fc,#0067fc,#006afc,#006efc,#0071fc,#0075fc,#0079fc,#007efd,#0082fd,#0088fd,#008dfd,#0093fd,#0099fd,#00a0fd,#00a7fd,#00affe,#00b7fe,#00c1fe,#00cbfe,#00d5fe,#00e1ff,#00eeff,#00f0f4,#00f1e6,#00f1d7,#00f1c6,#00f2b4,#00f2a0,#00f38a,#00f373,#00f45a,#00f43e,#08f527,#2af621,#4ef71c,#74f716,#9bf810,#c4f909,#edfa03,#ffdf00,#ffaf00,#ff7f00,#ff5200,#ff2d00,#fa1e04,#f41809,#f1150b,#f0140c,#f2160a,#f71b07,#fe2201,#ff4100,#ff6d00,#ff9f00,#ffd000,#f8fa01,#cef908,#a4f80e,#7cf715,#55f71b,#30f621,#0df526,#00f53a,#00f456,#00f371,#00f389,#00f29f,#00f2b4,#00f1c7,#00f1d9,#00f1e9,#00f0f9,#00e8ff,#00daff,#00cdfe,#00c1fe,#00b6fe,#00abfe,#00a2fd,#0099fd,#0091fd,#0089fd,#0082fd,#007cfc,#0076fc,#0070fc,#006bfc,#0066fc,#0062fc,#005efc,#005afc,#0056fc,#0053fc,#0050fc,#004dfb,#004bfb,#0048fb)"></i>
<i style="background:linear-gradient(90deg,#0059fc,#005bfc,#005efc,#0060fc,#0062fc,#0065fc,#0068fc,#006bfc,#006ffc,#0072fc,#0076fc,#007bfc,#007ffd,#0084fd,#0089fd,#008ffd,#0095fd,#009cfd,#00a3fd,#00aafd,#00b2fe,#00bbfe,#00c5fe,#00cffe,#00daff,#00e7ff,#00f0fb,#00f0ee,#00f1df,#00f1cf,#00f2be,#00f2ab,#00f296,#00f37f,#00f467,#00f44d,#00f531,#18f524,#3bf61f,#60f719,#87f813,#aff80d,#d8f906,#fff800,#ffc700,#ff9700,#ff6800,#ff3f00,#fd2101,#f71b07,#f2160a,#f0140c,#f1150b,#f41809,#fa1e04,#ff2e00,#ff5600,#ff8500,#ffb700,#ffe900,#e3f904,#baf90b,#91f811,#69f718,#43f61e,#1ef623,#00f52b,#00f448,#00f463,#00f37d,#00f294,#00f2aa,#00f2be,#00f1d0,#00f1e1,#00f0f1,#00efff,#00e1ff,#00d3fe,#00c7fe,#00bbfe,#00b0fe,#00a6fd,#009dfd,#0095fd,#008dfd,#0085fd,#007efd,#0078fc,#0072fc,#006dfc,#0068fc,#0063fc,#005ffc,#005bfc,#0057fc,#0054fc,#0051fc,#004efb,#004bfb,#0048fb,#0046fb)"></i>
<i style="background:linear-gradient(90deg,#005afc,#005cfc,#005efc,#0060fc,#0063fc,#0066fc,#0069fc,#006cfc,#0070fc,#0074fc,#0078fc,#007cfc,#0081fd,#0086fd,#008bfd,#0091fd,#0097fd,#009efd,#00a5fd,#00adfe,#00b6fe,#00bffe,#00c9fe,#00d4fe,#00dfff,#00ecff,#00f0f6,#00f1e7,#00f1d8,#00f1c7,#00f2b5,#00f2a1,#00f38c,#00f374,#00f45b,#00f440,#06f527,#28f622,#4df71c,#73f716,#9af810,#c3f909,#ecfa03,#ffe000,#ffb000,#ff7f00,#ff5300,#ff2d00,#fa1e04,#f41808,#f1150b,#f0140c,#f2160a,#f71b07,#fe2201,#ff4100,#ff6c00,#ff9d00,#ffcf00,#f9fa01,#cff908,#a6f80e,#7df714,#56f71b,#31f620,#0ef526,#00f53a,#00f456,#00f370,#00f388,#00f29f,#00f2b4,#00f1c7,#00f1d9,#00f0ea,#00f0f9,#00e7ff,#00daff,#00cdfe,#00c1fe,#00b5fe,#00abfe,#00a1fd,#0098fd,#0090fd,#0088fd,#0081fd,#007bfc,#0075fc,#006ffc,#006afc,#0065fc,#0060fc,#005cfc,#0058fc,#0055fc,#0051fc,#004efb,#004bfb,#0049fb,#0046fb,#0044fb)"></i>
<i style="background:linear-gradient(90deg,#005afc,#005cfc,#005efc,#0061fc,#0064fc,#0067fc,#006afc,#006dfc,#0071fc,#0075fc,#0079fc,#007dfd,#0082fd,#0088fd,#008dfd,#0093fd,#009afd,#00a1fd,#00a8fd,#00b0fe,#00b9fe,#00c3fe,#00cdfe,#00d9fe,#00e5ff,#00f0fd,#00f0f0,#00f1e1,#00f1d1,#00f1bf,#00f2ac,#00f297,#00f381,#00f468,#00f44e,#00f532,#16f524,#3af61f,#5ff719,#86f813,#aef80d,#d7f906,#fff900,#ffc800,#ff9800,#ff6900,#ff4000,#fe2201,#f71b06,#f3170a,#f1150c,#f1150b,#f41809,#fa1e04,#ff2e00,#ff5500,#ff8400,#ffb600,#ffe700,#e5f904,#bbf90b,#92f811,#6af717,#44f61d,#1ff623,#00f52a,#00f448,#00f463,#00f37c,#00f294,#00f2a9,#00f2be,#00f1d0,#00f1e1,#00f0f1,#00efff,#00e0ff,#00d3fe,#00c6fe,#00bbfe,#00b0fe,#00a6fd,#009dfd,#0094fd,#008cfd,#0085fd,#007efd,#0077fc,#0071fc,#006cfc,#0067fc,#0062fc,#005efc,#005afc,#0056fc,#0052fc,#004ffc,#004cfb,#0049fb,#0047fb,#0044fb,#0042fb)"></i>
<i style="background:linear-gradient(90deg,#005afc,#005dfc,#005ffc,#0061fc,#0064fc,#0067fc,#006afc,#006efc,#0072fc,#0076fc,#007afc,#007ffd,#0084fd,#0089fd,#008ffd,#0095fd,#009cfd,#00a3fd,#00abfe,#00b4fe,#00bdfe,#00c7fe,#00d2fe,#00deff,#00eaff,#00f0f7,#00f1e9,#00f1da,#00f1c9,#00f2b7,#00f2a3,#00f38d,#00f376,#00f45c,#00f441,#05f527,#27f622,#4bf61c,#72f716,#99f810,#c2f90a,#ebfa03,#ffe100,#ffb100,#ff8000,#ff5400,#ff2e00,#fa1e04,#f51908,#f1150b,#f0140c,#f2160a,#f71b07,#fe2201,#ff4100,#ff6b00,#ff9d00,#ffce00,#fafa01,#d0f907,#a7f80e,#7ef714,#57f71a,#32f620,#0ff526,#00f539,#00f455,#00f36f,#00f388,#00f29f,#00f2b4,#00f1c7,#00f1d9,#00f0ea,#00f0f9,#00e7ff,#00d9ff,#00ccfe,#00c0fe,#00b5fe,#00abfd,#00a1fd,#0098fd,#0090fd,#0088fd,#0081fd,#007afc,#0074fc,#006efc,#0069fc,#0064fc,#005ffc,#005bfc,#0057fc,#0053fc,#0050fc,#004dfb,#004afb,#0047fb,#0045fb,#0042fb,#0040fb)"></i>
<i style="background:linear-gradient(90deg,#005bfc,#005dfc,#005ffc,#0062fc,#0065fc,#0068fc,#006bfc,#006ffc,#0073fc,#0077fc,#007cfc,#0080fd,#0086fd,#008bfd,#0091fd,#0098fd,#009ffd,#00a6fd,#00affe,#00b7fe,#00c1fe,#00cbfe,#00d7fe,#00e3ff,#00f0ff,#00f0f1,#00f1e2,#00f1d2,#00f1c1,#00f2ae,#00f299,#00f382,#00f36a,#00f44f,#00f533,#15f525,#38f61f,#5ef719,#85f813,#adf80d,#d6f906,#fffa00,#ffc900,#ff9900,#ff6a00,#ff4100,#fe2201,#f71b06,#f3170a,#f1150b,#f1150b,#f41809,#fa1e04,#ff2e00,#ff5500,#ff8300,#ffb500,#ffe600,#e6fa04,#bcf90b,#93f811,#6bf717,#45f61d,#20f623,#00f52a,#00f447,#00f462,#00f37c,#00f393,#00f2a9,#00f2bd,#00f1d0,#00f1e1,#00f0f1,#00efff,#00e0ff,#00d3fe,#00c6fe,#00bafe,#00b0fe,#00a6fd,#009cfd,#0094fd,#008bfd,#0084fd,#007dfc,#0077fc,#0071fc,#006bfc,#0066fc,#0061fc,#005dfc,#0059fc,#0055fc,#0051fc,#004efb,#004bfb,#0048fb,#0045fb,#0043fb,#0040fb,#003efb)"></i>
<i style="background:linear-gradient(90deg,#005bfc,#005dfc,#0060fc,#0063fc,#0066fc,#0069fc,#006cfc,#0070fc,#0074fc,#0078fc,#007dfc,#0082fd,#0087fd,#008dfd,#0093fd,#009afd,#00a1fd,#00a9fd,#00b2fe,#00bbfe,#00c5fe,#00d0fe,#00dcff,#00e8ff,#00f0f9,#00f0eb,#00f1db,#00f1cb,#00f2b8,#00f2a4,#00f38f,#00f377,#00f45e,#00f442,#03f527,#26f622,#4af61c,#70f716,#98f810,#c1f90a,#eafa03,#ffe200,#ffb200,#ff8100,#ff5500,#ff2f00,#fa1e04,#f51908,#f1150b,#f1150b,#f2160a,#f71b07,#fe2201,#ff4000,#ff6b00,#ff9c00,#ffcd00,#fbfa01,#d1f907,#a8f80e,#7ff714,#58f71a,#33f620,#0ff526,#00f538,#00f455,#00f36f,#00f388,#00f29e,#00f2b3,#00f1c7,#00f1d9,#00f0ea,#00f0f9,#00e7ff,#00d9ff,#00ccfe,#00c0fe,#00b5fe,#00aafd,#00a1fd,#0098fd,#008ffd,#0087fd,#0080fd,#0079fc,#0073fc,#006dfc,#0068fc,#0063fc,#005efc,#005afc,#0056fc,#0052fc,#004ffb,#004cfb,#0049fb,#0046fb,#0043fb,#0041fb,#003ffb,#003dfb)"></i>
<i style="background:linear-gradient(90deg,#005bfc,#005efc,#0060fc,#0063fc,#0066fc,#006afc,#006dfc,#0071fc,#0075fc,#007afc,#007efd,#0084fd,#0089fd,#008ffd,#0096fd,#009dfd,#00a4fd,#00acfe,#00b5fe,#00bffe,#00c9fe,#00d5fe,#00e1ff,#00eeff,#00f0f3,#00f1e4,#00f1d4,#00f1c3,#00f2af,#00f29b,#00f384,#00f36b,#00f451,#00f535,#13f525,#37f61f,#5cf71a,#83f813,#abf80d,#d5f907,#fefa00,#ffcb00,#ff9a00,#ff6b00,#ff4100,#fe2201,#f71b06,#f3170a,#f1150b,#f1150b,#f41809,#fa1e04,#ff2e00,#ff5400,#ff8200,#ffb400,#ffe500,#e6fa04,#bdf90a,#94f811,#6cf717,#46f61d,#21f623,#00f529,#00f446,#00f462,#00f37b,#00f393,#00f2a9,#00f2bd,#00f1d0,#00f1e1,#00f0f2,#00efff,#00e0ff,#00d2fe,#00c6fe,#00bafe,#00affe,#00a5fd,#009cfd,#0093fd,#008bfd,#0084fd,#007dfc,#0076fc,#0070fc,#006afc,#0065fc,#0060fc,#005cfc,#0058fc,#0054fc,#0050fc,#004dfb,#004afb,#0047fb,#0044fb,#0042fb,#003ffb,#003dfb,#003bfb)"></i>
<i style="background:linear-gradient(90deg,#005cfc,#005efc,#0061fc,#0064fc,#0067fc,#006afc,#006efc,#0072fc,#0076fc,#007bfc,#0080fd,#0085fd,#008bfd,#0091fd,#0098fd,#009ffd,#00a7fd,#00b0fe,#00b9fe,#00c3fe,#00cefe,#00d9ff,#00e6ff,#00f0fb,#00f0ed,#00f1dd,#00f1cc,#00f2ba,#00f2a6,#00f390,#00f379,#00f45f,#00f444,#02f528,#24f622,#48f61d,#6ff717,#97f810,#bff90a,#e9fa04,#ffe400,#ffb300,#ff8300,#ff5600,#ff3000,#fb1f04,#f51908,#f2160b,#f1150b,#f3170a,#f71b06,#fe2201,#ff4000,#ff6a00,#ff9b00,#ffcc00,#fcfa01,#d2f907,#a8f80e,#80f814,#59f71a,#34f620,#10f525,#00f538,#00f454,#00f36f,#00f387,#00f29e,#00f2b3,#00f1c7,#00f1d9,#00f0ea,#00f0f9,#00e7ff,#00d9fe,#00ccfe,#00c0fe,#00b4fe,#00aafd,#00a0fd,#0097fd,#008ffd,#0087fd,#0080fd,#0079fc,#0073fc,#006dfc,#0067fc,#0062fc,#005efc,#0059fc,#0055fc,#0051fc,#004efb,#004bfb,#0048fb,#0045fb,#0042fb,#0040fb,#003dfb,#003bfb,#0039fb)"></i>
<i style="background:linear-gradient(90deg,#005cfc,#005ffc,#0061fc,#0064fc,#0068fc,#006bfc,#006ffc,#0073fc,#0078fc,#007cfc,#0082fd,#0087fd,#008dfd,#0094fd,#009bfd,#00a2fd,#00aafd,#00b3fe,#00bdfe,#00c7fe,#00d2fe,#00dfff,#00ecff,#00f0f5,#00f1e6,#00f1d6,#00f1c4,#00f2b1,#00f29c,#00f386,#00f36d,#00f453,#00f536,#12f525,#35f620,#5bf71a,#82f814,#aaf80d,#d3f907,#fdfa00,#ffcc00,#ff9c00,#ff6c00,#ff4200,#fe2201,#f81c06,#f3170a,#f1150b,#f1150b,#f41808,#fa1e04,#ff2e00,#ff5400,#ff8200,#ffb400,#ffe500,#e7fa04,#bef90a,#94f811,#6df717,#46f61d,#22f623,#00f528,#00f446,#00f461,#00f37b,#00f393,#00f2a9,#00f2bd,#00f1d0,#00f1e1,#00f0f2,#00eeff,#00e0ff,#00d2fe,#00c6fe,#00bafe,#00affe,#00a5fd,#009cfd,#0093fd,#008bfd,#0083fd,#007cfc,#0076fc,#006ffc,#006afc,#0065fc,#0060fc,#005bfc,#0057fc,#0053fc,#004ffc,#004cfb,#0049fb,#0046fb,#0043fb,#0040fb,#003efb,#003cfb,#003afb,#0038fb)"></i>
<i style="background:linear-gradient(90deg,#005dfc,#005ffc,#0062fc,#0065fc,#0068fc,#006cfc,#0070fc,#0074fc,#0079fc,#007efd,#0083fd,#0089fd,#008ffd,#0096fd,#009dfd,#00a5fd,#00adfe,#00b7fe,#00c1fe,#00cbfe,#00d7fe,#00e4ff,#00f0fd,#00f0ef,#00f1df,#00f1cf,#00f2bc,#00f2a8,#00f392,#00f37b,#00f461,#00f446,#00f528,#22f623,#47f61d,#6df717,#95f811,#bef90a,#e7fa04,#ffe500,#ffb500,#ff8400,#ff5700,#ff3100,#fb1f03,#f51908,#f2160b,#f1150b,#f3170a,#f71b06,#fe2201,#ff4000,#ff6a00,#ff9b00,#ffcc00,#fcfa00,#d3f907,#a9f80d,#81f814,#5af71a,#34f620,#11f525,#00f537,#00f453,#00f36e,#00f387,#00f29e,#00f2b3,#00f1c7,#00f1d9,#00f0ea,#00f0f9,#00e7ff,#00d9fe,#00ccfe,#00bffe,#00b4fe,#00aafd,#00a0fd,#0097fd,#008ffd,#0087fd,#007ffd,#0079fc,#0072fc,#006cfc,#0067fc,#0062fc,#005dfc,#0059fc,#0055fc,#0051fc,#004dfb,#004afb,#0047fb,#0044fb,#0041fb,#003ffb,#003cfb,#003afb,#0038fb,#0036fb)"></i>
<i style="background:linear-gradient(90deg,#005dfc,#0060fc,#0063fc,#0066fc,#0069fc,#006dfc,#0071fc,#0075fc,#007afc,#007ffd,#0085fd,#008bfd,#0091fd,#0098fd,#00a0fd,#00a8fd,#00b1fe,#00bafe,#00c5fe,#00d0fe,#00dcff,#00eaff,#00f0f7,#00f1e8,#00f1d8,#00f1c7,#00f2b3,#00f29e,#00f388,#00f36f,#00f455,#00f538,#10f526,#33f620,#59f71a,#80f814,#a9f80e,#d2f907,#fbfa01,#ffcd00,#ff9d00,#ff6d00,#ff4400,#ff2300,#f81c06,#f31709,#f1150b,#f2160b,#f51908,#fa1e04,#ff2e00,#ff5400,#ff8200,#ffb300,#ffe400,#e8fa04,#bef90a,#95f811,#6df717,#47f61d,#23f623,#00f528,#00f445,#00f461,#00f37a,#00f392,#00f2a8,#00f2bd,#00f1d0,#00f1e1,#00f0f2,#00eeff,#00e0ff,#00d2fe,#00c5fe,#00bafe,#00affe,#00a5fd,#009bfd,#0093fd,#008afd,#0083fd,#007cfc,#0075fc,#006ffc,#0069fc,#0064fc,#005ffc,#005bfc,#0056fc,#0052fc,#004ffb,#004bfb,#0048fb,#0045fb,#0042fb,#0040fb,#003dfb,#003bfb,#0039fb,#0037fb,#0035fb)"></i>
<i style="background:linear-gradient(90deg,#005dfc,#0060fc,#0063fc,#0066fc,#006afc,#006efc,#0072fc,#0077fc,#007cfc,#0081fd,#0087fd,#008dfd,#0094fd,#009bfd,#00a3fd,#00abfe,#00b4fe,#00befe,#00c9fe,#00d5fe,#00e2ff,#00f0ff,#00f0f1,#00f1e2,#00f1d1,#00f2be,#00f2aa,#00f294,#00f37d,#00f463,#00f448,#00f52a,#20f623,#45f61d,#6bf717,#93f811,#bcf90a,#e6fa04,#ffe700,#ffb600,#ff8500,#ff5800,#ff3200,#fb1f03,#f51908,#f2160a,#f1150b,#f3170a,#f71b06,#fe2201,#ff4000,#ff6a00,#ff9a00,#ffcb00,#fdfa00,#d3f907,#aaf80d,#82f814,#5af71a,#35f620,#12f525,#00f536,#00f453,#00f36e,#00f386,#00f29d,#00f2b3,#00f1c6,#00f1d9,#00f0ea,#00f0f9,#00e7ff,#00d9fe,#00cbfe,#00bffe,#00b4fe,#00aafd,#00a0fd,#0097fd,#008efd,#0087fd,#007ffd,#0078fc,#0072fc,#006cfc,#0067fc,#0061fc,#005dfc,#0058fc,#0054fc,#0050fc,#004dfb,#0049fb,#0046fb,#0043fb,#0041fb,#003efb,#003cfb,#0039fb,#0037fb,#0035fb,#0034fb)"></i>
<i style="background:linear-gradient(90deg,#005efc,#0061fc,#0064fc,#0067fc,#006bfc,#006ffc,#0073fc,#0078fc,#007dfc,#0083fd,#0088fd,#008ffd,#0096fd,#009dfd,#00a5fd,#00aefe,#00b8fe,#00c2fe,#00cefe,#00daff,#00e7ff,#00f0fa,#00f0eb,#00f1da,#00f1c9,#00f2b6,#00f2a1,#00f38a,#00f371,#00f457,#00f53a,#0ef526,#31f620,#57f71a,#7ef714,#a7f80e,#d0f907,#fafa01,#ffcf00,#ff9f00,#ff6f00,#ff4500,#ff2300,#f81c06,#f41809,#f1150b,#f2160b,#f51908,#fa1e04,#ff2e00,#ff5400,#ff8200,#ffb300,#ffe400,#e8fa04,#bff90a,#96f810,#6ef717,#48f61d,#23f622,#01f528,#00f445,#00f460,#00f37a,#00f392,#00f2a8,#00f2bd,#00f1d0,#00f1e1,#00f0f1,#00eeff,#00e0ff,#00d2fe,#00c5fe,#00b9fe,#00affe,#00a5fd,#009bfd,#0092fd,#008afd,#0083fd,#007cfc,#0075fc,#006ffc,#0069fc,#0064fc,#005ffc,#005afc,#0056fc,#0052fc,#004efb,#004bfb,#0047fb,#0044fb,#0042fb,#003ffb,#003cfb,#003afb,#0038fb,#0036fb,#0034fb,#0032fb)"></i>
<i style="background:linear-gradient(90deg,#005efc,#0061fc,#0064fc,#0068fc,#006cfc,#0070fc,#0074fc,#0079fc,#007efd,#0084fd,#008afd,#0091fd,#0098fd,#00a0fd,#00a9fd,#00b2fe,#00bcfe,#00c6fe,#00d2fe,#00dfff,#00edff,#00f0f3,#00f1e4,#00f1d3,#00f1c1,#00f2ac,#00f297,#00f37f,#00f465,#00f44a,#00f52c,#1ef623,#43f61d,#6af717,#92f811,#bbf90b,#e4f904,#ffe800,#ffb800,#ff8700,#ff5900,#ff3300,#fb1f03,#f61a07,#f2160a,#f1150b,#f3170a,#f71b06,#fe2201,#ff4100,#ff6a00,#ff9a00,#ffcb00,#fdfa00,#d4f907,#abf80d,#82f814,#5bf71a,#36f620,#12f525,#00f536,#00f453,#00f36d,#00f386,#00f29d,#00f2b3,#00f1c6,#00f1d9,#00f0ea,#00f0f9,#00e7ff,#00d9fe,#00cbfe,#00bffe,#00b4fe,#00a9fd,#00a0fd,#0097fd,#008efd,#0086fd,#007ffd,#0078fc,#0072fc,#006cfc,#0066fc,#0061fc,#005cfc,#0058fc,#0054fc,#0050fc,#004cfb,#0049fb,#0046fb,#0043fb,#0040fb,#003dfb,#003bfb,#0039fb,#0037fb,#0035fb,#0033fb,#0031fb)"></i>
<i style="background:linear-gradient(90deg,#005ffc,#0062fc,#0065fc,#0069fc,#006dfc,#0071fc,#0076fc,#007bfc,#0080fd,#0086fd,#008cfd,#0093fd,#009bfd,#00a3fd,#00acfe,#00b5fe,#00c0fe,#00cbfe,#00d7fe,#00e5ff,#00f0fc,#00f0ed,#00f1dd,#00f1cb,#00f2b8,#00f2a3,#00f38c,#00f373,#00f459,#00f53c,#0cf526,#2ff621,#55f71b,#7cf714,#a5f80e,#cff908,#f8fa01,#ffd100,#ffa000,#ff7000,#ff4600,#ff2300,#f81c05,#f41809,#f2160b,#f2160a,#f51908,#fa1e04,#ff2f00,#ff5500,#ff8200,#ffb300,#ffe300,#e9fa03,#bff90a,#96f810,#6ff717,#48f61d,#24f622,#01f528,#00f444,#00f460,#00f37a,#00f392,#00f2a8,#00f2bd,#00f1d0,#00f1e1,#00f0f1,#00eeff,#00e0ff,#00d2fe,#00c5fe,#00b9fe,#00aefe,#00a4fd,#009bfd,#0092fd,#008afd,#0083fd,#007bfc,#0075fc,#006ffc,#0069fc,#0064fc,#005ffc,#005afc,#0055fc,#0051fc,#004efb,#004afb,#0047fb,#0044fb,#0041fb,#003efb,#003cfb,#0039fb,#0037fb,#0035fb,#0033fb,#0032fb,#0030fb)"></i>
<i style="background:linear-gradient(90deg,#005ffc,#0062fc,#0066fc,#0069fc,#006efc,#0072fc,#0077fc,#007cfc,#0082fd,#0088fd,#008efd,#0096fd,#009dfd,#00a6fd,#00affe,#00b9fe,#00c4fe,#00d0fe,#00dcff,#00eaff,#00f0f6,#00f1e6,#00f1d5,#00f1c3,#00f2af,#00f299,#00f381,#00f467,#00f44c,#00f52e,#1cf624,#41f61e,#68f718,#90f811,#b9f90b,#e3f904,#ffea00,#ffb900,#ff8900,#ff5b00,#ff3500,#fc2003,#f61a07,#f3170a,#f2160b,#f31709,#f81c06,#fe2201,#ff4100,#ff6a00,#ff9a00,#ffcb00,#fefa00,#d4f907,#abf80d,#83f813,#5cf71a,#36f620,#13f525,#00f536,#00f452,#00f36d,#00f386,#00f29d,#00f2b2,#00f1c6,#00f1d8,#00f1e9,#00f0f9,#00e7ff,#00d9fe,#00cbfe,#00bffe,#00b4fe,#00a9fd,#009ffd,#0096fd,#008efd,#0086fd,#007ffd,#0078fc,#0072fc,#006cfc,#0066fc,#0061fc,#005cfc,#0057fc,#0053fc,#004ffc,#004cfb,#0048fb,#0045fb,#0042fb,#003ffb,#003dfb,#003afb,#0038fb,#0036fb,#0034fb,#0032fb,#0030fb,#002ffb)"></i>
<i style="background:linear-gradient(90deg,#0060fc,#0063fc,#0066fc,#006afc,#006efc,#0073fc,#0078fc,#007efd,#0083fd,#008afd,#0091fd,#0098fd,#00a0fd,#00a9fd,#00b3fe,#00bdfe,#00c8fe,#00d4fe,#00e2ff,#00f0ff,#00f0f0,#00f1df,#00f1ce,#00f2ba,#00f2a5,#00f38e,#00f376,#00f45b,#00f43e,#09f527,#2df621,#53f71b,#7af715,#a3f80e,#cdf908,#f7fa01,#ffd200,#ffa200,#ff7200,#ff4800,#ff2500,#f91d05,#f41809,#f2160a,#f2160a,#f51908,#fb1f04,#ff3000,#ff5500,#ff8200,#ffb300,#ffe300,#e9fa03,#c0f90a,#97f810,#6ff717,#49f61d,#24f622,#02f528,#00f444,#00f460,#00f379,#00f391,#00f2a8,#00f2bc,#00f1cf,#00f1e1,#00f0f1,#00eeff,#00e0ff,#00d2fe,#00c5fe,#00b9fe,#00aefe,#00a4fd,#009bfd,#0092fd,#008afd,#0082fd,#007bfc,#0075fc,#006ffc,#0069fc,#0063fc,#005efc,#005afc,#0055fc,#0051fc,#004dfb,#004afb,#0046fb,#0043fb,#0041fb,#003efb,#003bfb,#0039fb,#0037fb,#0035fb,#0033fb,#0031fb,#002ffb,#002efb)"></i>
<i style="background:linear-gradient(90deg,#0060fc,#0063fc,#0067fc,#006bfc,#0070fc,#0074fc,#0079fc,#007ffd,#0085fd,#008cfd,#0093fd,#009bfd,#00a3fd,#00acfe,#00b6fe,#00c1fe,#00cdfe,#00daff,#00e8ff,#00f0f9,#00f1e9,#00f1d8,#00f1c5,#00f2b1,#00f29b,#00f384,#00f36a,#00f44e,#00f530,#1af624,#3ff61e,#65f718,#8ef812,#b7f90b,#e1f905,#ffec00,#ffbb00,#ff8a00,#ff5d00,#ff3600,#fc2002,#f61a07,#f3170a,#f2160a,#f41809,#f81c06,#fe2201,#ff4200,#ff6b00,#ff9a00,#ffcb00,#fefa00,#d5f907,#abf80d,#83f813,#5cf71a,#37f61f,#13f525,#00f535,#00f452,#00f36d,#00f385,#00f29d,#00f2b2,#00f1c6,#00f1d8,#00f1e9,#00f0f9,#00e7ff,#00d8fe,#00cbfe,#00bffe,#00b4fe,#00a9fd,#009ffd,#0096fd,#008efd,#0086fd,#007ffd,#0078fc,#0071fc,#006cfc,#0066fc,#0061fc,#005cfc,#0057fc,#0053fc,#004ffc,#004bfb,#0048fb,#0045fb,#0042fb,#003ffb,#003cfb,#003afb,#0038fb,#0035fb,#0033fb,#0032fb,#0030fb,#002efb,#002dfb)"></i>
<i style="background:linear-gradient(90deg,#0061fc,#0064fc,#0068fc,#006cfc,#0071fc,#0076fc,#007bfc,#0081fd,#0087fd,#008efd,#0095fd,#009dfd,#00a6fd,#00b0fe,#00bafe,#00c5fe,#00d2fe,#00dfff,#00eeff,#00f0f2,#00f1e2,#00f1d0,#00f2bd,#00f2a8,#00f391,#00f378,#00f45d,#00f441,#07f527,#2bf621,#51f71b,#78f715,#a1f80f,#cbf908,#f5fa02,#ffd400,#ffa400,#ff7400,#ff4900,#ff2600,#f91d05,#f41808,#f2160a,#f3170a,#f61a08,#fb1f03,#ff3000,#ff5600,#ff8200,#ffb300,#ffe300,#e9fa03,#c0f90a,#97f810,#70f716,#49f61c,#25f622,#02f528,#00f444,#00f45f,#00f379,#00f391,#00f2a7,#00f2bc,#00f1cf,#00f1e1,#00f0f1,#00eeff,#00e0ff,#00d2fe,#00c5fe,#00b9fe,#00aefe,#00a4fd,#009bfd,#0092fd,#008afd,#0082fd,#007bfc,#0075fc,#006efc,#0069fc,#0063fc,#005efc,#0059fc,#0055fc,#0051fc,#004dfb,#004afb,#0046fb,#0043fb,#0040fb,#003dfb,#003bfb,#0039fb,#0036fb,#0034fb,#0032fb,#0030fb,#002ffb,#002dfb,#002cfb)"></i>
<i style="background:linear-gradient(90deg,#0061fc,#0065fc,#0069fc,#006dfc,#0072fc,#0077fc,#007cfc,#0082fd,#0089fd,#0090fd,#0098fd,#00a0fd,#00a9fd,#00b3fe,#00befe,#00cafe,#00d7fe,#00e5ff,#00f0fb,#00f0ec,#00f1db,#00f1c8,#00f2b4,#00f29e,#00f386,#00f36c,#00f451,#00f533,#17f524,#3cf61f,#63f718,#8cf812,#b5f90c,#dff905,#ffee00,#ffbd00,#ff8c00,#ff5e00,#ff3800,#fc2002,#f71b07,#f31709,#f2160a,#f41809,#f81c06,#fe2200,#ff4200,#ff6b00,#ff9b00,#ffcb00,#fefa00,#d5f907,#acf80d,#83f813,#5cf719,#37f61f,#14f525,#00f535,#00f451,#00f36c,#00f385,#00f29c,#00f2b2,#00f1c6,#00f1d8,#00f1e9,#00f0f9,#00e7ff,#00d8fe,#00cbfe,#00bffe,#00b3fe,#00a9fd,#009ffd,#0096fd,#008efd,#0086fd,#007ffd,#0078fc,#0071fc,#006bfc,#0066fc,#0061fc,#005cfc,#0057fc,#0053fc,#004ffb,#004bfb,#0048fb,#0044fb,#0041fb,#003ffb,#003cfb,#003afb,#0037fb,#0035fb,#0033fb,#0031fb,#002ffb,#002efb,#002cfb,#002bfb)"></i>
<i style="background:linear-gradient(90deg,#0062fc,#0065fc,#0069fc,#006efc,#0073fc,#0078fc,#007efd,#0084fd,#008bfd,#0092fd,#009afd,#00a3fd,#00adfe,#00b7fe,#00c2fe,#00cffe,#00dcff,#00ebff,#00f0f5,#00f1e5,#00f1d3,#00f1c0,#00f2ab,#00f294,#00f37b,#00f460,#00f443,#04f527,#28f622,#4ef71c,#76f715,#9ff80f,#c9f908,#f3fa02,#ffd600,#ffa600,#ff7600,#ff4b00,#ff2800,#f91d04,#f51908,#f3170a,#f3170a,#f61a07,#fb1f03,#ff3100,#ff5600,#ff8300,#ffb300,#ffe300,#e9fa03,#c0f90a,#98f810,#70f716,#4af61c,#25f622,#03f528,#00f443,#00f45f,#00f379,#00f391,#00f2a7,#00f2bc,#00f1cf,#00f1e1,#00f0f1,#00eeff,#00e0ff,#00d2fe,#00c5fe,#00b9fe,#00aefe,#00a4fd,#009afd,#0092fd,#008afd,#0082fd,#007bfc,#0074fc,#006efc,#0069fc,#0063fc,#005efc,#0059fc,#0055fc,#0051fc,#004dfb,#0049fb,#0046fb,#0043fb,#0040fb,#003dfb,#003bfb,#0038fb,#0036fb,#0034fb,#0032fb,#0030fb,#002efb,#002dfb,#002bfb,#002afb)"></i>
<i style="background:linear-gradient(90deg,#0062fc,#0066fc,#006afc,#006ffc,#0074fc,#007afc,#007ffd,#0086fd,#008dfd,#0095fd,#009dfd,#00a6fd,#00b0fe,#00bbfe,#00c7fe,#00d4fe,#00e2ff,#00f0fe,#00f0ef,#00f1de,#00f1cb,#00f2b7,#00f2a1,#00f389,#00f36f,#00f453,#00f535,#15f525,#3af61f,#61f719,#89f812,#b3f90c,#ddf905,#fff000,#ffbf00,#ff8e00,#ff6000,#ff3900,#fd2102,#f71b06,#f41809,#f3170a,#f41809,#f81c05,#ff2300,#ff4300,#ff6c00,#ff9b00,#ffcb00,#fefa00,#d5f907,#acf80d,#84f813,#5df719,#37f61f,#14f525,#00f534,#00f451,#00f36c,#00f385,#00f29c,#00f2b2,#00f1c6,#00f1d8,#00f1e9,#00f0f9,#00e7ff,#00d8fe,#00cbfe,#00bffe,#00b3fe,#00a9fd,#009ffd,#0096fd,#008efd,#0086fd,#007efd,#0078fc,#0071fc,#006bfc,#0066fc,#0061fc,#005cfc,#0057fc,#0053fc,#004ffb,#004bfb,#0048fb,#0044fb,#0041fb,#003efb,#003cfb,#0039fb,#0037fb,#0035fb,#0033fb,#0031fb,#002ffb,#002dfb,#002cfb,#002afb,#0029fb)"></i>
<i style="background:linear-gradient(90deg,#0063fc,#0067fc,#006bfc,#0070fc,#0075fc,#007bfc,#0081fd,#0088fd,#008ffd,#0097fd,#00a0fd,#00a9fd,#00b4fe,#00bffe,#00cbfe,#00d9fe,#00e7ff,#00f0f8,#00f1e8,#00f1d6,#00f1c3,#00f2ad,#00f296,#00f37e,#00f463,#00f446,#01f528,#26f622,#4cf61c,#74f716,#9df80f,#c7f909,#f1fa02,#ffd900,#ffa800,#ff7800,#ff4d00,#ff2a00,#fa1e04,#f51908,#f3170a,#f31709,#f61a07,#fb1f03,#ff3200,#ff5700,#ff8300,#ffb300,#ffe300,#e9fa03,#c0f90a,#98f810,#70f716,#4af61c,#26f622,#03f528,#00f443,#00f45f,#00f379,#00f391,#00f2a7,#00f2bc,#00f1cf,#00f1e1,#00f0f1,#00efff,#00e0ff,#00d2fe,#00c5fe,#00b9fe,#00aefe,#00a4fd,#009afd,#0092fd,#0089fd,#0082fd,#007bfc,#0074fc,#006efc,#0068fc,#0063fc,#005efc,#0059fc,#0055fc,#0051fc,#004dfb,#0049fb,#0046fb,#0043fb,#0040fb,#003dfb,#003afb,#0038fb,#0036fb,#0034fb,#0032fb,#0030fb,#002efb,#002cfb,#002bfb,#0029fb,#0028fb)"></i>
<i style="background:linear-gradient(90deg,#0064fc,#0068fc,#006cfc,#0071fc,#0077fc,#007cfc,#0083fd,#008afd,#0092fd,#009afd,#00a3fd,#00adfe,#00b8fe,#00c3fe,#00d0fe,#00deff,#00eeff,#00f0f2,#00f1e1,#00f1ce,#00f2ba,#00f2a4,#00f38c,#00f372,#00f456,#00f538,#12f525,#37f61f,#5ef719,#87f813,#b1f80c,#dbf906,#fff300,#ffc100,#ff9100,#ff6200,#ff3b00,#fd2101,#f71b06,#f41809,#f3170a,#f51908,#f91d05,#ff2300,#ff4400,#ff6d00,#ff9c00,#ffcb00,#fefa00,#d5f907,#acf80d,#84f813,#5df719,#38f61f,#14f525,#00f534,#00f451,#00f36c,#00f385,#00f29c,#00f2b2,#00f1c6,#00f1d8,#00f1e9,#00f0f9,#00e7ff,#00d8fe,#00cbfe,#00bffe,#00b3fe,#00a9fd,#009ffd,#0096fd,#008dfd,#0086fd,#007efd,#0077fc,#0071fc,#006bfc,#0066fc,#0060fc,#005cfc,#0057fc,#0053fc,#004ffb,#004bfb,#0047fb,#0044fb,#0041fb,#003efb,#003bfb,#0039fb,#0037fb,#0034fb,#0032fb,#0030fb,#002ffb,#002dfb,#002bfb,#002afb,#0028fb,#0027fb)"></i>
<i style="background:linear-gradient(90deg,#0064fc,#0068fc,#006dfc,#0072fc,#0078fc,#007efd,#0085fd,#008cfd,#0094fd,#009dfd,#00a6fd,#00b0fe,#00bcfe,#00c8fe,#00d5fe,#00e4ff,#00f0fb,#00f0eb,#00f1d9,#00f1c6,#00f2b0,#00f299,#00f380,#00f465,#00f448,#00f529,#23f623,#49f61d,#71f716,#9bf810,#c5f909,#effa03,#ffdb00,#ffab00,#ff7a00,#ff4f00,#ff2b00,#fa1e04,#f61a08,#f31709,#f41809,#f71b07,#fc2003,#ff3300,#ff5800,#ff8400,#ffb400,#ffe300,#e9fa03,#c0f90a,#98f810,#70f716,#4af61c,#26f622,#03f527,#00f443,#00f45e,#00f378,#00f390,#00f2a7,#00f2bc,#00f1cf,#00f1e1,#00f0f1,#00efff,#00e0ff,#00d2fe,#00c5fe,#00b9fe,#00aefe,#00a4fd,#009afd,#0092fd,#0089fd,#0082fd,#007bfc,#0074fc,#006efc,#0068fc,#0063fc,#005efc,#0059fc,#0055fc,#0051fc,#004dfb,#0049fb,#0046fb,#0043fb,#0040fb,#003dfb,#003afb,#0038fb,#0035fb,#0033fb,#0031fb,#002ffb,#002efb,#002cfb,#002afb,#0029fb,#0028fb,#0026fb)"></i>
<i style="background:linear-gradient(90deg,#0065fc,#0069fc,#006efc,#0074fc,#0079fc,#0080fd,#0087fd,#008efd,#0097fd,#00a0fd,#00aafd,#00b4fe,#00c0fe,#00cdfe,#00dbff,#00eaff,#00f0f5,#00f1e4,#00f1d1,#00f2bd,#00f2a7,#00f38f,#00f375,#00f459,#00f53b,#0ff526,#34f620,#5cf71a,#84f813,#aef80d,#d9f906,#fff500,#ffc400,#ff9300,#ff6400,#ff3d00,#fe2201,#f81c06,#f41808,#f31709,#f51908,#f91d05,#ff2400,#ff4500,#ff6e00,#ff9c00,#ffcc00,#fdfa00,#d5f907,#acf80d,#84f813,#5df719,#38f61f,#14f525,#00f534,#00f451,#00f36b,#00f385,#00f29c,#00f2b1,#00f1c5,#00f1d8,#00f1e9,#00f0f9,#00e7ff,#00d8fe,#00cbfe,#00bffe,#00b3fe,#00a9fd,#009ffd,#0096fd,#008dfd,#0085fd,#007efd,#0077fc,#0071fc,#006bfc,#0066fc,#0060fc,#005bfc,#0057fc,#0053fc,#004ffb,#004bfb,#0047fb,#0044fb,#0041fb,#003efb,#003bfb,#0039fb,#0036fb,#0034fb,#0032fb,#0030fb,#002efb,#002dfb,#002bfb,#002afb,#0028fb,#0027fb,#0026fb)"></i>
<i style="background:linear-gradient(90deg,#0066fc,#006afc,#006ffc,#0075fc,#007bfc,#0082fd,#0089fd,#0091fd,#0099fd,#00a3fd,#00adfe,#00b8fe,#00c4fe,#00d2fe,#00e1ff,#00f0ff,#00f0ee,#00f1dc,#00f1c9,#00f2b4,#00f29d,#00f383,#00f468,#00f44b,#00f52c,#20f623,#46f61d,#6ef717,#98f810,#c2f90a,#edfa03,#ffdd00,#ffad00,#ff7c00,#ff5100,#ff2d00,#fb1f03,#f61a07,#f41809,#f41809,#f71b06,#fc2002,#ff3400,#ff5900,#ff8500,#ffb500,#ffe400,#e9fa03,#c0f90a,#98f810,#70f716,#4af61c,#26f622,#03f527,#00f442,#00f45e,#00f378,#00f390,#00f2a7,#00f2bc,#00f1cf,#00f1e1,#00f0f1,#00efff,#00e0ff,#00d2fe,#00c5fe,#00b9fe,#00aefe,#00a4fd,#009afd,#0091fd,#0089fd,#0082fd,#007bfc,#0074fc,#006efc,#0068fc,#0063fc,#005efc,#0059fc,#0055fc,#0051fc,#004dfb,#0049fb,#0046fb,#0042fb,#003ffb,#003dfb,#003afb,#0038fb,#0035fb,#0033fb,#0031fb,#002ffb,#002dfb,#002cfb,#002afb,#0029fb,#0027fb,#0026fb,#0025fb)"></i>
<i style="background:linear-gradient(90deg,#0066fc,#006bfc,#0070fc,#0076fc,#007cfc,#0083fd,#008bfd,#0093fd,#009cfd,#00a6fd,#00b1fe,#00bcfe,#00c9fe,#00d7fe,#00e7ff,#00f0f8,#00f1e7,#00f1d4,#00f1c0,#00f2aa,#00f392,#00f378,#00f45c,#00f53d,#0cf526,#31f620,#59f71a,#82f814,#acf80d,#d6f906,#fff800,#ffc600,#ff9500,#ff6700,#ff3f00,#fe2201,#f81c05,#f51908,#f41809,#f51908,#f91d04,#ff2600,#ff4600,#ff6f00,#ff9d00,#ffcc00,#fdfa00,#d4f907,#acf80d,#84f813,#5df719,#38f61f,#14f525,#00f534,#00f450,#00f36b,#00f384,#00f29c,#00f2b1,#00f1c5,#00f1d8,#00f1e9,#00f0f9,#00e7ff,#00d8fe,#00cbfe,#00bffe,#00b3fe,#00a9fd,#009ffd,#0096fd,#008dfd,#0085fd,#007efd,#0077fc,#0071fc,#006bfc,#0065fc,#0060fc,#005bfc,#0057fc,#0053fc,#004ffb,#004bfb,#0047fb,#0044fb,#0041fb,#003efb,#003bfb,#0039fb,#0036fb,#0034fb,#0032fb,#0030fb,#002efb,#002cfb,#002bfb,#0029fb,#0028fb,#0027fb,#0025fb,#0024fb)"></i>
<i style="background:linear-gradient(90deg,#0067fc,#006cfc,#0072fc,#0078fc,#007efd,#0085fd,#008dfd,#0096fd,#009ffd,#00a9fd,#00b5fe,#00c1fe,#00cefe,#00ddff,#00edff,#00f0f2,#00f1e0,#00f1cc,#00f2b7,#00f2a0,#00f387,#00f36c,#00f44e,#00f52f,#1df623,#43f61d,#6cf717,#95f811,#c0f90a,#ebfa03,#ffe000,#ffaf00,#ff7f00,#ff5300,#ff2f00,#fb1f03,#f71b07,#f41809,#f51908,#f71b06,#fc2002,#ff3600,#ff5a00,#ff8600,#ffb500,#ffe500,#e9fa04,#c0f90a,#98f810,#70f716,#4af61c,#26f622,#04f527,#00f442,#00f45e,#00f378,#00f390,#00f2a7,#00f2bb,#00f1cf,#00f1e1,#00f0f1,#00efff,#00e0ff,#00d2fe,#00c5fe,#00b9fe,#00aefe,#00a4fd,#009afd,#0091fd,#0089fd,#0082fd,#007bfc,#0074fc,#006efc,#0068fc,#0063fc,#005efc,#0059fc,#0055fc,#0051fc,#004dfb,#0049fb,#0046fb,#0042fb,#003ffb,#003dfb,#003afb,#0037fb,#0035fb,#0033fb,#0031fb,#002ffb,#002dfb,#002cfb,#002afb,#0029fb,#0027fb,#0026fb,#0025fb,#0023fb)"></i>
<i style="background:linear-gradient(90deg,#0068fc,#006dfc,#0073fc,#0079fc,#0080fd,#0087fd,#0090fd,#0098fd,#00a2fd,#00adfe,#00b9fe,#00c5fe,#00d3fe,#00e3ff,#00f0fc,#00f0eb,#00f1d8,#00f1c4,#00f2ad,#00f295,#00f37b,#00f45f,#00f441,#09f527,#2ef621,#56f71b,#7ff714,#a9f80d,#d4f907,#fefa00,#ffc900,#ff9800,#ff6900,#ff4100,#ff2300,#f91d05,#f51908,#f41809,#f61a07,#fa1e04,#ff2700,#ff4800,#ff7000,#ff9e00,#ffcd00,#fcfa00,#d4f907,#acf80d,#84f813,#5df719,#38f61f,#15f525,#00f534,#00f450,#00f36b,#00f384,#00f29c,#00f2b1,#00f1c5,#00f1d8,#00f1e9,#00f0f9,#00e7ff,#00d9fe,#00cbfe,#00bffe,#00b3fe,#00a9fd,#009ffd,#0096fd,#008dfd,#0085fd,#007efd,#0077fc,#0071fc,#006bfc,#0065fc,#0060fc,#005bfc,#0057fc,#0053fc,#004ffb,#004bfb,#0047fb,#0044fb,#0041fb,#003efb,#003bfb,#0039fb,#0036fb,#0034fb,#0032fb,#0030fb,#002efb,#002cfb,#002bfb,#0029fb,#0028fb,#0026fb,#0025fb,#0024fb,#0023fb)"></i>
<i style="background:linear-gradient(90deg,#0069fc,#006efc,#0074fc,#007bfc,#0082fd,#008afd,#0092fd,#009bfd,#00a6fd,#00b1fe,#00bdfe,#00cafe,#00d9fe,#00e9ff,#00f0f5,#00f1e3,#00f1d0,#00f2ba,#00f2a3,#00f38a,#00f36f,#00f452,#00f532,#19f524,#40f61e,#69f718,#93f811,#bdf90a,#e8fa04,#ffe300,#ffb200,#ff8100,#ff5500,#ff3200,#fc2003,#f71b06,#f51908,#f51908,#f81c06,#fd2102,#ff3700,#ff5b00,#ff8700,#ffb600,#ffe500,#e8fa04,#c0f90a,#97f810,#70f716,#4af61c,#26f622,#04f527,#00f442,#00f45e,#00f378,#00f390,#00f2a6,#00f2bb,#00f1cf,#00f1e0,#00f0f1,#00efff,#00e0ff,#00d2fe,#00c5fe,#00b9fe,#00aefe,#00a4fd,#009afd,#0091fd,#0089fd,#0082fd,#007afc,#0074fc,#006efc,#0068fc,#0063fc,#005efc,#0059fc,#0055fc,#0051fc,#004dfb,#0049fb,#0046fb,#0042fb,#003ffb,#003dfb,#003afb,#0037fb,#0035fb,#0033fb,#0031fb,#002ffb,#002dfb,#002bfb,#002afb,#0028fb,#0027fb,#0026fb,#0024fb,#0023fb,#0022fb)"></i>
<i style="background:linear-gradient(90deg,#006afc,#006ffc,#0076fc,#007cfc,#0084fd,#008cfd,#0095fd,#009efd,#00a9fd,#00b5fe,#00c1fe,#00cffe,#00dfff,#00f0ff,#00f0ee,#00f1dc,#00f1c7,#00f2b1,#00f299,#00f37e,#00f462,#00f444,#05f527,#2bf621,#53f71b,#7cf715,#a6f80e,#d1f907,#fcfa00,#ffcb00,#ff9b00,#ff6c00,#ff4400,#ff2400,#f91d05,#f61a07,#f51908,#f61a07,#fa1e04,#ff2900,#ff4900,#ff7100,#ff9f00,#ffce00,#fcfa00,#d4f907,#abf80d,#84f813,#5df719,#38f61f,#15f525,#00f534,#00f450,#00f36b,#00f384,#00f29b,#00f2b1,#00f1c5,#00f1d8,#00f1e9,#00f0f9,#00e7ff,#00d9fe,#00cbfe,#00bffe,#00b3fe,#00a9fd,#009ffd,#0096fd,#008dfd,#0085fd,#007efd,#0077fc,#0071fc,#006bfc,#0065fc,#0060fc,#005bfc,#0057fc,#0053fc,#004ffb,#004bfb,#0047fb,#0044fb,#0041fb,#003efb,#003bfb,#0039fb,#0036fb,#0034fb,#0032fb,#0030fb,#002efb,#002cfb,#002bfb,#0029fb,#0028fb,#0026fb,#0025fb,#0024fb,#0023fb,#0022fb)"></i>
<i style="background:linear-gradient(90deg,#006bfc,#0071fc,#0077fc,#007efd,#0086fd,#008efd,#0097fd,#00a2fd,#00adfe,#00b9fe,#00c6fe,#00d5fe,#00e5ff,#00f0f9,#00f1e7,#00f1d3,#00f2be,#00f2a7,#00f38e,#00f372,#00f455,#00f535,#16f525,#3df61e,#66f718,#90f811,#baf90b,#e6fa04,#ffe600,#ffb500,#ff8400,#ff5800,#ff3400,#fc2002,#f81c06,#f51908,#f61a08,#f81c05,#fd2101,#ff3900,#ff5d00,#ff8800,#ffb700,#ffe600,#e8fa04,#bff90a,#97f810,#70f716,#4af61c,#26f622,#04f527,#00f442,#00f45e,#00f378,#00f390,#00f2a6,#00f2bb,#00f1ce,#00f1e0,#00f0f1,#00efff,#00e0ff,#00d2fe,#00c5fe,#00b9fe,#00aefe,#00a4fd,#009afd,#0091fd,#0089fd,#0081fd,#007afc,#0074fc,#006efc,#0068fc,#0063fc,#005efc,#0059fc,#0055fc,#0051fc,#004dfb,#0049fb,#0046fb,#0042fb,#003ffb,#003dfb,#003afb,#0037fb,#0035fb,#0033fb,#0031fb,#002ffb,#002dfb,#002bfb,#002afb,#0028fb,#0027fb,#0025fb,#0024fb,#0023fb,#0022fb,#0021fa)"></i>
<i style="background:linear-gradient(90deg,#006cfc,#0072fc,#0079fc,#0080fd,#0088fd,#0091fd,#009afd,#00a5fd,#00b1fe,#00bdfe,#00cbfe,#00dbff,#00ebff,#00f0f2,#00f1df,#00f1cb,#00f2b5,#00f29c,#00f382,#00f466,#00f447,#02f528,#27f622,#4ff71c,#79f715,#a4f80e,#cff908,#fafa01,#ffce00,#ff9e00,#ff6e00,#ff4600,#ff2600,#fa1e04,#f61a07,#f51908,#f71b07,#fb1f03,#ff2b00,#ff4b00,#ff7300,#ffa100,#ffcf00,#fbfa01,#d3f907,#abf80d,#83f813,#5df719,#38f61f,#14f525,#00f534,#00f450,#00f36b,#00f384,#00f29b,#00f2b1,#00f1c5,#00f1d8,#00f1e9,#00f0f9,#00e7ff,#00d9fe,#00cbfe,#00bffe,#00b3fe,#00a9fd,#009ffd,#0096fd,#008dfd,#0085fd,#007efd,#0077fc,#0071fc,#006bfc,#0065fc,#0060fc,#005bfc,#0057fc,#0053fc,#004ffb,#004bfb,#0047fb,#0044fb,#0041fb,#003efb,#003bfb,#0039fb,#0036fb,#0034fb,#0032fb,#0030fb,#002efb,#002cfb,#002afb,#0029fb,#0027fb,#0026fb,#0025fb,#0024fb,#0022fb,#0021fb,#0020fa)"></i>
<i style="background:linear-gradient(90deg,#006dfc,#0073fc,#007afc,#0082fd,#008afd,#0093fd,#009dfd,#00a9fd,#00b5fe,#00c2fe,#00d1fe,#00e1ff,#00f0fd,#00f0eb,#00f1d7,#00f1c2,#00f2ab,#00f391,#00f376,#00f458,#00f539,#12f525,#39f61f,#62f719,#8df812,#b8f90b,#e3f904,#ffe900,#ffb700,#ff8700,#ff5a00,#ff3600,#fd2102,#f81c06,#f61a07,#f61a07,#f91d05,#fe2201,#ff3b00,#ff5f00,#ff8a00,#ffb800,#ffe700,#e7fa04,#bff90a,#97f810,#70f716,#4af61c,#26f622,#04f527,#00f442,#00f45e,#00f378,#00f390,#00f2a6,#00f2bb,#00f1ce,#00f1e0,#00f0f1,#00efff,#00e0ff,#00d2fe,#00c5fe,#00b9fe,#00aefe,#00a3fd,#009afd,#0091fd,#0089fd,#0081fd,#007afc,#0074fc,#006efc,#0068fc,#0063fc,#005efc,#0059fc,#0055fc,#0050fc,#004dfb,#0049fb,#0046fb,#0042fb,#003ffb,#003dfb,#003afb,#0037fb,#0035fb,#0033fb,#0031fb,#002ffb,#002dfb,#002bfb,#002afb,#0028fb,#0027fb,#0025fb,#0024fb,#0023fb,#0022fb,#0021fa,#0020fa)"></i>
<i style="background:linear-gradient(90deg,#006efc,#0075fc,#007cfc,#0084fd,#008dfd,#0096fd,#00a1fd,#00acfe,#00b9fe,#00c7fe,#00d6fe,#00e7ff,#00f0f6,#00f1e3,#00f1cf,#00f2b9,#00f2a0,#00f386,#00f369,#00f44b,#00f52a,#24f622,#4cf61c,#76f716,#a0f80f,#ccf908,#f7fa01,#ffd100,#ffa100,#ff7100,#ff4900,#ff2800,#fa1e04,#f71b06,#f61a07,#f71b06,#fb1f03,#ff2d00,#ff4d00,#ff7400,#ffa200,#ffd000,#fafa01,#d2f907,#aaf80d,#83f813,#5cf71a,#38f61f,#14f525,#00f534,#00f450,#00f36b,#00f384,#00f29b,#00f2b1,#00f1c5,#00f1d7,#00f1e9,#00f0f9,#00e7ff,#00d9fe,#00cbfe,#00bffe,#00b3fe,#00a9fd,#009ffd,#0095fd,#008dfd,#0085fd,#007efd,#0077fc,#0071fc,#006bfc,#0065fc,#0060fc,#005bfc,#0057fc,#0052fc,#004ffb,#004bfb,#0047fb,#0044fb,#0041fb,#003efb,#003bfb,#0039fb,#0036fb,#0034fb,#0032fb,#0030fb,#002efb,#002cfb,#002afb,#0029fb,#0027fb,#0026fb,#0025fb,#0023fb,#0022fb,#0021fb,#0020fa,#001ffa)"></i>
<i style="background:linear-gradient(90deg,#006ffc,#0076fc,#007efd,#0086fd,#008ffd,#0099fd,#00a4fd,#00b0fe,#00befe,#00ccfe,#00dcff,#00eeff,#00f0ef,#00f1db,#00f1c6,#00f2af,#00f295,#00f37a,#00f45c,#00f53c,#0ff526,#36f620,#5ff719,#89f812,#b5f90c,#e0f905,#ffec00,#ffba00,#ff8a00,#ff5d00,#ff3900,#fd2101,#f91d05,#f61a07,#f71b07,#f91d05,#fe2201,#ff3d00,#ff6000,#ff8b00,#ffba00,#ffe800,#e6fa04,#bef90a,#96f810,#6ff717,#4af61c,#26f622,#03f527,#00f442,#00f45e,#00f378,#00f390,#00f2a6,#00f2bb,#00f1ce,#00f1e0,#00f0f1,#00efff,#00e0ff,#00d2fe,#00c5fe,#00b9fe,#00aefe,#00a3fd,#009afd,#0091fd,#0089fd,#0081fd,#007afc,#0074fc,#006efc,#0068fc,#0063fc,#005efc,#0059fc,#0055fc,#0050fc,#004dfb,#0049fb,#0046fb,#0042fb,#003ffb,#003dfb,#003afb,#0037fb,#0035fb,#0033fb,#0031fb,#002ffb,#002dfb,#002bfb,#002afb,#0028fb,#0027fb,#0025fb,#0024fb,#0023fb,#0022fb,#0021fa,#0020fa,#001ffa)"></i>
<i style="background:linear-gradient(90deg,#0071fc,#0078fc,#0080fd,#0088fd,#0092fd,#009cfd,#00a8fd,#00b5fe,#00c2fe,#00d2fe,#00e3ff,#00f0fa,#00f1e8,#00f1d3,#00f2bd,#00f2a4,#00f38a,#00f36d,#00f44e,#00f52e,#20f623,#48f61d,#72f716,#9df80f,#c9f908,#f4fa02,#ffd400,#ffa400,#ff7400,#ff4b00,#ff2b00,#fb1f03,#f81c06,#f71b07,#f81c06,#fc2003,#ff2f00,#ff4f00,#ff7600,#ffa400,#ffd100,#fafa01,#d2f907,#aaf80d,#82f814,#5cf71a,#37f61f,#14f525,#00f534,#00f450,#00f36b,#00f384,#00f29b,#00f2b1,#00f1c5,#00f1d7,#00f1e9,#00f0f9,#00e7ff,#00d9fe,#00cbfe,#00bffe,#00b3fe,#00a9fd,#009ffd,#0095fd,#008dfd,#0085fd,#007efd,#0077fc,#0071fc,#006bfc,#0065fc,#0060fc,#005bfc,#0057fc,#0052fc,#004efb,#004bfb,#0047fb,#0044fb,#0041fb,#003efb,#003bfb,#0039fb,#0036fb,#0034fb,#0032fb,#0030fb,#002efb,#002cfb,#002afb,#0029fb,#0027fb,#0026fb,#0025fb,#0023fb,#0022fb,#0021fb,#0020fa,#001ffa,#001efa)"></i>
<i style="background:linear-gradient(90deg,#0072fc,#0079fc,#0082fd,#008bfd,#0095fd,#00a0fd,#00acfe,#00b9fe,#00c8fe,#00d8fe,#00e9ff,#00f0f3,#00f1e0,#00f1ca,#00f2b3,#00f299,#00f37e,#00f460,#00f440,#0bf526,#32f620,#5bf71a,#86f813,#b1f80c,#ddf905,#ffef00,#ffbd00,#ff8d00,#ff6000,#ff3c00,#fe2201,#f91d05,#f71b06,#f71b06,#fa1e04,#ff2300,#ff3f00,#ff6200,#ff8d00,#ffbb00,#ffe900,#e5f904,#bdf90a,#96f811,#6ff717,#49f61d,#25f622,#03f528,#00f442,#00f45e,#00f378,#00f390,#00f2a6,#00f2bb,#00f1ce,#00f1e0,#00f0f1,#00efff,#00e0ff,#00d2fe,#00c5fe,#00b9fe,#00aefe,#00a3fd,#009afd,#0091fd,#0089fd,#0081fd,#007afc,#0074fc,#006dfc,#0068fc,#0062fc,#005dfc,#0059fc,#0054fc,#0050fc,#004dfb,#0049fb,#0046fb,#0042fb,#003ffb,#003dfb,#003afb,#0037fb,#0035fb,#0033fb,#0031fb,#002ffb,#002dfb,#002bfb,#002afb,#0028fb,#0027fb,#0025fb,#0024fb,#0023fb,#0022fb,#0021fa,#0020fa,#001ffa,#001efa)"></i>
<i style="background:linear-gradient(90deg,#0073fc,#007bfc,#0084fd,#008dfd,#0098fd,#00a3fd,#00b0fe,#00befe,#00cdfe,#00deff,#00f0ff,#00f0ec,#00f1d7,#00f1c1,#00f2a8,#00f38e,#00f371,#00f452,#00f531,#1cf624,#45f61d,#6ff717,#9af810,#c6f909,#f1fa02,#ffd800,#ffa700,#ff7700,#ff4e00,#ff2e00,#fc2003,#f81c05,#f71b06,#f91d05,#fc2002,#ff3100,#ff5100,#ff7800,#ffa500,#ffd300,#f9fa01,#d1f907,#a9f80d,#82f814,#5cf71a,#37f61f,#14f525,#00f534,#00f451,#00f36b,#00f384,#00f29b,#00f2b1,#00f1c5,#00f1d7,#00f1e9,#00f0f8,#00e7ff,#00d9fe,#00cbfe,#00bffe,#00b3fe,#00a8fd,#009ffd,#0095fd,#008dfd,#0085fd,#007efd,#0077fc,#0070fc,#006bfc,#0065fc,#0060fc,#005bfc,#0057fc,#0052fc,#004efb,#004bfb,#0047fb,#0044fb,#0041fb,#003efb,#003bfb,#0039fb,#0036fb,#0034fb,#0032fb,#0030fb,#002efb,#002cfb,#002afb,#0029fb,#0027fb,#0026fb,#0025fb,#0023fb,#0022fb,#0021fb,#0020fa,#001ffa,#001efa,#001dfa)"></i>
<i style="background:linear-gradient(90deg,#0075fc,#007dfd,#0086fd,#0090fd,#009bfd,#00a7fd,#00b4fe,#00c3fe,#00d3fe,#00e4ff,#00f0f8,#00f1e4,#00f1cf,#00f2b7,#00f29e,#00f382,#00f464,#00f444,#07f527,#2ef621,#58f71a,#82f814,#aef80d,#daf906,#fff300,#ffc100,#ff9000,#ff6300,#ff3e00,#ff2300,#fa1e04,#f81c06,#f81c06,#fb1f04,#ff2500,#ff4100,#ff6500,#ff8f00,#ffbd00,#ffeb00,#e4f904,#bcf90a,#95f811,#6ef717,#49f61d,#25f622,#03f528,#00f443,#00f45e,#00f378,#00f390,#00f2a6,#00f2bb,#00f1ce,#00f1e0,#00f0f1,#00efff,#00e0ff,#00d2fe,#00c5fe,#00b9fe,#00aefe,#00a3fd,#009afd,#0091fd,#0089fd,#0081fd,#007afc,#0074fc,#006dfc,#0068fc,#0062fc,#005dfc,#0059fc,#0054fc,#0050fc,#004dfb,#0049fb,#0046fb,#0042fb,#003ffb,#003dfb,#003afb,#0037fb,#0035fb,#0033fb,#0031fb,#002ffb,#002dfb,#002bfb,#002afb,#0028fb,#0027fb,#0025fb,#0024fb,#0023fb,#0022fb,#0021fa,#0020fa,#001ffa,#001efa,#001dfa)"></i>
<i style="background:linear-gradient(90deg,#0077fc,#007ffd,#0089fd,#0093fd,#009efd,#00abfd,#00b9fe,#00c8fe,#00d9fe,#00ebff,#00f0f1,#00f1dc,#00f1c5,#00f2ad,#00f392,#00f375,#00f456,#00f535,#18f524,#41f61e,#6bf717,#96f810,#c2f909,#eefa03,#ffdb00,#ffab00,#ff7a00,#ff5100,#ff3100,#fc2002,#f91d05,#f81c06,#f91d05,#fd2102,#ff3300,#ff5300,#ff7a00,#ffa700,#ffd400,#f8fa01,#d0f907,#a8f80e,#81f814,#5bf71a,#36f61f,#14f525,#00f534,#00f451,#00f36b,#00f384,#00f29b,#00f2b1,#00f1c5,#00f1d7,#00f1e9,#00f0f8,#00e7ff,#00d9fe,#00cbfe,#00bffe,#00b3fe,#00a8fd,#009ffd,#0095fd,#008dfd,#0085fd,#007efd,#0077fc,#0070fc,#006bfc,#0065fc,#0060fc,#005bfc,#0057fc,#0052fc,#004efb,#004bfb,#0047fb,#0044fb,#0041fb,#003efb,#003bfb,#0039fb,#0036fb,#0034fb,#0032fb,#0030fb,#002efb,#002cfb,#002afb,#0029fb,#0027fb,#0026fb,#0025fb,#0023fb,#0022fb,#0021fb,#0020fa,#001ffa,#001efa,#001dfa,#001cfa)"></i>
<i style="background:linear-gradient(90deg,#0078fc,#0081fd,#008bfd,#0096fd,#00a2fd,#00affe,#00befe,#00cefe,#00dfff,#00f0fd,#00f1e9,#00f1d3,#00f2bc,#00f2a2,#00f386,#00f468,#00f448,#02f528,#2af621,#54f71b,#7ff714,#abf80d,#d7f906,#fff600,#ffc400,#ff9400,#ff6600,#ff4100,#ff2500,#fb1f03,#f81c05,#f91d05,#fb1f03,#ff2800,#ff4400,#ff6700,#ff9100,#ffbe00,#ffec00,#e3f904,#bcf90b,#94f811,#6ef717,#48f61d,#25f622,#03f528,#00f443,#00f45e,#00f378,#00f390,#00f2a6,#00f2bb,#00f1ce,#00f1e0,#00f0f1,#00efff,#00e0ff,#00d2fe,#00c5fe,#00b9fe,#00aefe,#00a3fd,#009afd,#0091fd,#0089fd,#0081fd,#007afc,#0074fc,#006dfc,#0068fc,#0062fc,#005dfc,#0059fc,#0054fc,#0050fc,#004dfb,#0049fb,#0046fb,#0042fb,#003ffb,#003dfb,#003afb,#0037fb,#0035fb,#0033fb,#0031fb,#002ffb,#002dfb,#002bfb,#002afb,#0028fb,#0027fb,#0025fb,#0024fb,#0023fb,#0022fb,#0020fa,#001ffa,#001ffa,#001efa,#001dfa,#001cfa)"></i>
<i style="background:linear-gradient(90deg,#007afc,#0084fd,#008efd,#0099fd,#00a6fd,#00b4fe,#00c3fe,#00d4fe,#00e6ff,#00f0f5,#00f1e1,#00f1ca,#00f2b1,#00f297,#00f37a,#00f45b,#00f539,#14f525,#3df61e,#67f718,#93f811,#bff90a,#ebfa03,#ffdf00,#ffae00,#ff7e00,#ff5400,#ff3400,#fd2101,#fa1e04,#f91d05,#fa1e04,#fe2201,#ff3600,#ff5600,#ff7d00,#ffa900,#ffd600,#f6fa01,#cff908,#a7f80e,#80f814,#5af71a,#36f620,#13f525,#00f535,#00f451,#00f36c,#00f384,#00f29b,#00f2b1,#00f1c5,#00f1d7,#00f1e9,#00f0f8,#00e7ff,#00d9fe,#00cbfe,#00bffe,#00b3fe,#00a8fd,#009ffd,#0095fd,#008dfd,#0085fd,#007efd,#0077fc,#0070fc,#006afc,#0065fc,#0060fc,#005bfc,#0057fc,#0052fc,#004efb,#004bfb,#0047fb,#0044fb,#0041fb,#003efb,#003bfb,#0039fb,#0036fb,#0034fb,#0032fb,#0030fb,#002efb,#002cfb,#002afb,#0029fb,#0027fb,#0026fb,#0025fb,#0023fb,#0022fb,#0021fa,#0020fa,#001ffa,#001efa,#001dfa,#001cfa,#001cfa)"></i>
<i style="background:linear-gradient(90deg,#007cfc,#0086fd,#0091fd,#009dfd,#00aafd,#00b8fe,#00c8fe,#00daff,#00edff,#00f0ee,#00f1d8,#00f1c0,#00f2a7,#00f38b,#00f36d,#00f44c,#00f52a,#26f622,#50f71c,#7bf715,#a7f80e,#d3f907,#fffa00,#ffc800,#ff9700,#ff6a00,#ff4400,#ff2800,#fb1f03,#f91d05,#f91d04,#fc2002,#ff2b00,#ff4600,#ff6900,#ff9400,#ffc000,#ffee00,#e2f905,#bbf90b,#93f811,#6df717,#48f61d,#24f622,#02f528,#00f443,#00f45f,#00f378,#00f390,#00f2a6,#00f2bb,#00f1ce,#00f1e0,#00f0f1,#00efff,#00e0ff,#00d2fe,#00c5fe,#00b9fe,#00aefe,#00a3fd,#009afd,#0091fd,#0089fd,#0081fd,#007afc,#0074fc,#006dfc,#0068fc,#0062fc,#005dfc,#0059fc,#0054fc,#0050fc,#004cfb,#0049fb,#0046fb,#0042fb,#003ffb,#003dfb,#003afb,#0038fb,#0035fb,#0033fb,#0031fb,#002ffb,#002dfb,#002bfb,#002afb,#0028fb,#0027fb,#0025fb,#0024fb,#0023fb,#0022fb,#0020fa,#001ffa,#001efa,#001efa,#001dfa,#001cfa,#001bfa)"></i>
<i style="background:linear-gradient(90deg,#007ffd,#0089fd,#0094fd,#00a0fd,#00aefe,#00bdfe,#00cefe,#00e1ff,#00f0fa,#00f1e6,#00f1cf,#00f2b6,#00f29b,#00f37e,#00f45f,#00f43e,#0ff526,#38f61f,#63f718,#8ff812,#bcf90b,#e8fa04,#ffe200,#ffb100,#ff8100,#ff5800,#ff3700,#fe2201,#fa1e04,#f91d04,#fb1f03,#ff2300,#ff3900,#ff5800,#ff7f00,#ffac00,#ffd800,#f5fa02,#cef908,#a6f80e,#80f814,#5af71a,#35f620,#13f525,#00f535,#00f451,#00f36c,#00f385,#00f29c,#00f2b1,#00f1c5,#00f1d7,#00f1e9,#00f0f8,#00e7ff,#00d9fe,#00cbfe,#00bffe,#00b3fe,#00a8fd,#009ffd,#0095fd,#008dfd,#0085fd,#007efd,#0077fc,#0070fc,#006afc,#0065fc,#0060fc,#005bfc,#0056fc,#0052fc,#004efb,#004bfb,#0047fb,#0044fb,#0041fb,#003efb,#003bfb,#0039fb,#0036fb,#0034fb,#0032fb,#0030fb,#002efb,#002cfb,#002afb,#0029fb,#0027fb,#0026fb,#0025fb,#0023fb,#0022fb,#0021fa,#0020fa,#001ffa,#001efa,#001dfa,#001cfa,#001bfa,#001bfa)"></i>
<i style="background:linear-gradient(90deg,#0081fd,#008bfd,#0097fd,#00a4fd,#00b3fe,#00c3fe,#00d4fe,#00e8ff,#00f0f3,#00f1dd,#00f1c5,#00f2ac,#00f390,#00f371,#00f451,#00f52e,#21f623,#4bf61c,#77f715,#a3f80e,#d0f907,#fcfa00,#ffcb00,#ff9b00,#ff6d00,#ff4800,#ff2b00,#fc2002,#fa1e04,#fa1e04,#fd2102,#ff2e00,#ff4900,#ff6c00,#ff9600,#ffc200,#fff000,#e1f905,#b9f90b,#92f811,#6cf717,#47f61d,#24f622,#02f528,#00f444,#00f45f,#00f378,#00f390,#00f2a7,#00f2bb,#00f1ce,#00f1e0,#00f0f1,#00efff,#00e0ff,#00d2fe,#00c5fe,#00b9fe,#00aefe,#00a3fd,#009afd,#0091fd,#0089fd,#0081fd,#007afc,#0073fc,#006dfc,#0068fc,#0062fc,#005dfc,#0059fc,#0054fc,#0050fc,#004cfb,#0049fb,#0046fb,#0042fb,#003ffb,#003dfb,#003afb,#0038fb,#0035fb,#0033fb,#0031fb,#002ffb,#002dfb,#002bfb,#002afb,#0028fb,#0027fb,#0025fb,#0024fb,#0023fb,#0022fb,#0020fa,#001ffa,#001efa,#001efa,#001dfa,#001cfa,#001bfa,#001afa)"></i>
<i style="background:linear-gradient(90deg,#0083fd,#008efd,#009bfd,#00a9fd,#00b8fe,#00c9fe,#00dbff,#00efff,#00f0eb,#00f1d4,#00f2bb,#00f2a0,#00f383,#00f464,#00f442,#0bf526,#34f620,#5ff719,#8bf812,#b8f90b,#e4f904,#ffe600,#ffb500,#ff8500,#ff5b00,#ff3a00,#ff2300,#fb1f03,#fa1e04,#fc2003,#ff2400,#ff3c00,#ff5b00,#ff8200,#ffae00,#ffda00,#f4fa02,#ccf908,#a5f80e,#7ff714,#59f71a,#35f620,#12f525,#00f535,#00f452,#00f36c,#00f385,#00f29c,#00f2b1,#00f1c5,#00f1d8,#00f1e9,#00f0f9,#00e7ff,#00d9fe,#00cbfe,#00bffe,#00b3fe,#00a9fd,#009ffd,#0095fd,#008dfd,#0085fd,#007efd,#0077fc,#0070fc,#006afc,#0065fc,#0060fc,#005bfc,#0056fc,#0052fc,#004efb,#004bfb,#0047fb,#0044fb,#0041fb,#003efb,#003bfb,#0039fb,#0036fb,#0034fb,#0032fb,#0030fb,#002efb,#002cfb,#002afb,#0029fb,#0027fb,#0026fb,#0025fb,#0023fb,#0022fb,#0021fa,#0020fa,#001ffa,#001efa,#001dfa,#001cfa,#001bfa,#001bfa,#001afa)"></i>
<i style="background:linear-gradient(90deg,#0086fd,#0092fd,#009ffd,#00adfe,#00bdfe,#00cffe,#00e2ff,#00f0f8,#00f1e2,#00f1cb,#00f2b1,#00f295,#00f376,#00f456,#00f533,#1df624,#47f61d,#73f716,#a0f80f,#ccf908,#f8fa01,#ffcf00,#ff9f00,#ff7100,#ff4b00,#ff2f00,#fd2102,#fb1f03,#fb1f03,#fe2201,#ff3100,#ff4c00,#ff6f00,#ff9900,#ffc400,#fff200,#dff905,#b8f90b,#91f811,#6bf717,#46f61d,#23f623,#01f528,#00f444,#00f45f,#00f379,#00f391,#00f2a7,#00f2bb,#00f1cf,#00f1e0,#00f0f1,#00efff,#00e0ff,#00d2fe,#00c5fe,#00b9fe,#00aefe,#00a3fd,#009afd,#0091fd,#0089fd,#0081fd,#007afc,#0073fc,#006dfc,#0068fc,#0062fc,#005dfc,#0059fc,#0054fc,#0050fc,#004cfb,#0049fb,#0046fb,#0042fb,#003ffb,#003dfb,#003afb,#0038fb,#0035fb,#0033fb,#0031fb,#002ffb,#002dfb,#002bfb,#002afb,#0028fb,#0027fb,#0025fb,#0024fb,#0023fb,#0022fb,#0020fa,#001ffa,#001efa,#001efa,#001dfa,#001cfa,#001bfa,#001afa,#001afa)"></i>
<i style="background:linear-gradient(90deg,#0089fd,#0095fd,#00a3fd,#00b2fe,#00c3fe,#00d5fe,#00e9ff,#00f0f0,#00f1da,#00f1c1,#00f2a6,#00f388,#00f369,#00f447,#06f527,#2ff621,#5bf71a,#87f813,#b4f90c,#e1f905,#ffea00,#ffb900,#ff8900,#ff5e00,#ff3d00,#ff2500,#fc2002,#fb1f03,#fc2002,#ff2800,#ff3f00,#ff5e00,#ff8500,#ffb000,#ffdc00,#f2fa02,#cbf908,#a4f80e,#7ef714,#58f71a,#34f620,#11f525,#00f536,#00f452,#00f36c,#00f385,#00f29c,#00f2b1,#00f1c5,#00f1d8,#00f1e9,#00f0f9,#00e7ff,#00d9fe,#00cbfe,#00bffe,#00b3fe,#00a9fd,#009ffd,#0095fd,#008dfd,#0085fd,#007efd,#0077fc,#0070fc,#006afc,#0065fc,#0060fc,#005bfc,#0056fc,#0052fc,#004efb,#004bfb,#0047fb,#0044fb,#0041fb,#003efb,#003bfb,#0039fb,#0036fb,#0034fb,#0032fb,#0030fb,#002efb,#002cfb,#002bfb,#0029fb,#0027fb,#0026fb,#0025fb,#0023fb,#0022fb,#0021fb,#0020fa,#001ffa,#001efa,#001dfa,#001cfa,#001bfa,#001bfa,#001afa,#0019fa)"></i>
<i style="background:linear-gradient(90deg,#008cfd,#0099fd,#00a7fd,#00b7fe,#00c9fe,#00dcff,#00f0fe,#00f1e8,#00f1d0,#00f2b6,#00f29a,#00f37b,#00f45a,#00f537,#18f524,#42f61e,#6ff717,#9cf810,#c9f909,#f5fa02,#ffd300,#ffa300,#ff7500,#ff4f00,#ff3200,#fe2201,#fc2003,#fc2002,#ff2300,#ff3400,#ff4f00,#ff7200,#ff9c00,#ffc700,#fff400,#def905,#b7f90b,#90f811,#6af717,#45f61d,#22f623,#01f528,#00f444,#00f460,#00f379,#00f391,#00f2a7,#00f2bc,#00f1cf,#00f1e0,#00f0f1,#00efff,#00e0ff,#00d2fe,#00c5fe,#00b9fe,#00aefe,#00a3fd,#009afd,#0091fd,#0089fd,#0081fd,#007afc,#0073fc,#006dfc,#0068fc,#0062fc,#005dfc,#0059fc,#0054fc,#0050fc,#004cfb,#0049fb,#0046fb,#0042fb,#003ffb,#003dfb,#003afb,#0038fb,#0035fb,#0033fb,#0031fb,#002ffb,#002dfb,#002bfb,#002afb,#0028fb,#0027fb,#0025fb,#0024fb,#0023fb,#0022fb,#0020fa,#001ffa,#001efa,#001efa,#001dfa,#001cfa,#001bfa,#001afa,#001afa,#0019fa)"></i>
<i style="background:linear-gradient(90deg,#008ffd,#009dfd,#00acfe,#00bcfe,#00cffe,#00e3ff,#00f0f6,#00f1df,#00f1c6,#00f2ab,#00f38d,#00f36e,#00f44c,#01f528,#2af621,#56f71b,#83f813,#b0f80c,#ddf905,#ffee00,#ffbc00,#ff8d00,#ff6200,#ff4100,#ff2900,#fd2102,#fc2002,#fd2101,#ff2b00,#ff4200,#ff6100,#ff8800,#ffb300,#ffde00,#f0fa02,#caf908,#a3f80e,#7df714,#57f71a,#33f620,#11f525,#00f536,#00f452,#00f36d,#00f385,#00f29c,#00f2b2,#00f1c5,#00f1d8,#00f1e9,#00f0f9,#00e7ff,#00d9fe,#00cbfe,#00bffe,#00b3fe,#00a9fd,#009ffd,#0095fd,#008dfd,#0085fd,#007efd,#0077fc,#0070fc,#006afc,#0065fc,#0060fc,#005bfc,#0056fc,#0052fc,#004efb,#004bfb,#0047fb,#0044fb,#0041fb,#003efb,#003bfb,#0039fb,#0036fb,#0034fb,#0032fb,#0030fb,#002efb,#002cfb,#002bfb,#0029fb,#0027fb,#0026fb,#0025fb,#0023fb,#0022fb,#0021fb,#0020fa,#001ffa,#001efa,#001dfa,#001cfa,#001bfa,#001bfa,#001afa,#0019fa,#0019fa)"></i>
<i style="background:linear-gradient(90deg,#0093fd,#00a1fd,#00b1fe,#00c2fe,#00d6fe,#00ebff,#00f0ee,#00f1d6,#00f2bc,#00f29f,#00f381,#00f460,#00f53c,#13f525,#3ef61e,#6af717,#97f810,#c5f909,#f1fa02,#ffd700,#ffa700,#ff7900,#ff5200,#ff3600,#ff2300,#fd2102,#fd2102,#ff2500,#ff3800,#ff5300,#ff7500,#ff9f00,#ffc900,#fff600,#dcf905,#b5f90c,#8ff812,#69f718,#45f61d,#21f623,#00f528,#00f445,#00f460,#00f379,#00f391,#00f2a7,#00f2bc,#00f1cf,#00f1e1,#00f0f1,#00efff,#00e0ff,#00d2fe,#00c5fe,#00b9fe,#00aefe,#00a3fd,#009afd,#0091fd,#0089fd,#0081fd,#007afc,#0073fc,#006dfc,#0068fc,#0062fc,#005dfc,#0059fc,#0054fc,#0050fc,#004cfb,#0049fb,#0045fb,#0042fb,#003ffb,#003dfb,#003afb,#0038fb,#0035fb,#0033fb,#0031fb,#002ffb,#002dfb,#002bfb,#002afb,#0028fb,#0027fb,#0025fb,#0024fb,#0023fb,#0022fb,#0020fa,#001ffa,#001efa,#001efa,#001dfa,#001cfa,#001bfa,#001afa,#001afa,#0019fa,#0018fa)"></i>
<i style="background:linear-gradient(90deg,#0096fd,#00a5fd,#00b6fe,#00c8fe,#00ddff,#00f0fc,#00f1e5,#00f1cc,#00f2b1,#00f393,#00f373,#00f451,#00f52c,#25f622,#51f71b,#7ef714,#acf80d,#d9f906,#fff200,#ffc000,#ff9100,#ff6600,#ff4500,#ff2d00,#fe2201,#fd2102,#fe2201,#ff2f00,#ff4600,#ff6500,#ff8b00,#ffb500,#ffe100,#eefa03,#c8f909,#a1f80f,#7bf715,#56f71a,#32f620,#10f525,#00f537,#00f453,#00f36d,#00f386,#00f29c,#00f2b2,#00f1c6,#00f1d8,#00f1e9,#00f0f9,#00e7ff,#00d9fe,#00cbfe,#00bffe,#00b3fe,#00a9fd,#009ffd,#0095fd,#008dfd,#0085fd,#007efd,#0077fc,#0070fc,#006afc,#0065fc,#0060fc,#005bfc,#0056fc,#0052fc,#004efb,#004bfb,#0047fb,#0044fb,#0041fb,#003efb,#003bfb,#0039fb,#0036fb,#0034fb,#0032fb,#0030fb,#002efb,#002cfb,#002bfb,#0029fb,#0028fb,#0026fb,#0025fb,#0023fb,#0022fb,#0021fb,#0020fa,#001ffa,#001efa,#001dfa,#001cfa,#001bfa,#001bfa,#001afa,#0019fa,#0019fa,#0018fa)"></i>
<i style="background:linear-gradient(90deg,#009afd,#00aafd,#00bcfe,#00cffe,#00e4ff,#00f0f4,#00f1dc,#00f1c2,#00f2a5,#00f386,#00f465,#00f441,#0df526,#39f61f,#65f718,#93f811,#c1f90a,#eefa03,#ffdb00,#ffab00,#ff7d00,#ff5600,#ff3900,#ff2600,#fe2201,#fe2201,#ff2900,#ff3b00,#ff5600,#ff7900,#ffa200,#ffcc00,#fff800,#daf906,#b4f90c,#8ef812,#68f718,#44f61d,#21f623,#00f529,#00f445,#00f460,#00f37a,#00f391,#00f2a7,#00f2bc,#00f1cf,#00f1e1,#00f0f1,#00efff,#00e0ff,#00d2fe,#00c5fe,#00b9fe,#00aefe,#00a3fd,#009afd,#0091fd,#0089fd,#0081fd,#007afc,#0073fc,#006dfc,#0068fc,#0062fc,#005dfc,#0059fc,#0054fc,#0050fc,#004cfb,#0049fb,#0045fb,#0042fb,#003ffb,#003dfb,#003afb,#0038fb,#0035fb,#0033fb,#0031fb,#002ffb,#002dfb,#002cfb,#002afb,#0028fb,#0027fb,#0025fb,#0024fb,#0023fb,#0022fb,#0021fa,#001ffa,#001efa,#001efa,#001dfa,#001cfa,#001bfa,#001afa,#001afa,#0019fa,#0018fa,#0018fa)"></i>
<i style="background:linear-gradient(90deg,#009ffd,#00affe,#00c2fe,#00d6fe,#00ecff,#00f0eb,#00f1d2,#00f2b7,#00f299,#00f379,#00f456,#00f531,#20f623,#4cf61c,#7af715,#a8f80e,#d6f907,#fff700,#ffc400,#ff9500,#ff6a00,#ff4900,#ff3100,#ff2300,#fe2201,#ff2500,#ff3300,#ff4a00,#ff6900,#ff8f00,#ffb800,#ffe300,#edfa03,#c6f909,#a0f80f,#7af715,#55f71b,#31f620,#0ff526,#00f538,#00f453,#00f36e,#00f386,#00f29d,#00f2b2,#00f1c6,#00f1d8,#00f1e9,#00f0f9,#00e7ff,#00d9fe,#00cbfe,#00bffe,#00b3fe,#00a8fd,#009ffd,#0095fd,#008dfd,#0085fd,#007efd,#0077fc,#0070fc,#006afc,#0065fc,#0060fc,#005bfc,#0056fc,#0052fc,#004efb,#004bfb,#0047fb,#0044fb,#0041fb,#003efb,#003bfb,#0039fb,#0036fb,#0034fb,#0032fb,#0030fb,#002efb,#002cfb,#002bfb,#0029fb,#0028fb,#0026fb,#0025fb,#0023fb,#0022fb,#0021fb,#0020fa,#001ffa,#001efa,#001dfa,#001cfa,#001bfa,#001bfa,#001afa,#0019fa,#0019fa,#0018fa,#0017fa)"></i>
<i style="background:linear-gradient(90deg,#00a3fd,#00b5fe,#00c8fe,#00ddff,#00f0fa,#00f1e2,#00f1c8,#00f2ab,#00f38c,#00f36a,#00f447,#08f527,#34f620,#61f719,#8ff812,#bdf90a,#eafa03,#ffdf00,#ffaf00,#ff8100,#ff5a00,#ff3d00,#ff2a00,#ff2300,#ff2300,#ff2d00,#ff4000,#ff5a00,#ff7d00,#ffa500,#ffcf00,#fefa00,#d8f906,#b2f80c,#8cf812,#67f718,#42f61e,#20f623,#00f529,#00f446,#00f461,#00f37a,#00f392,#00f2a8,#00f2bc,#00f1cf,#00f1e1,#00f0f1,#00efff,#00e0ff,#00d2fe,#00c5fe,#00b9fe,#00aefe,#00a3fd,#009afd,#0091fd,#0089fd,#0081fd,#007afc,#0073fc,#006dfc,#0068fc,#0062fc,#005dfc,#0059fc,#0054fc,#0050fc,#004cfb,#0049fb,#0045fb,#0042fb,#003ffb,#003dfb,#003afb,#0038fb,#0035fb,#0033fb,#0031fb,#002ffb,#002dfb,#002cfb,#002afb,#0028fb,#0027fb,#0025fb,#0024fb,#0023fb,#0022fb,#0021fa,#0020fa,#001ffa,#001efa,#001dfa,#001cfa,#001bfa,#001afa,#001afa,#0019fa,#0018fa,#0018fa,#0017fa)"></i>
<i style="background:linear-gradient(90deg,#00a8fd,#00bbfe,#00cffe,#00e5ff,#00f0f2,#00f1d8,#00f2bd,#00f29f,#00f37e,#00f45c,#00f537,#1bf624,#47f61d,#75f716,#a4f80e,#d2f907,#fefa00,#ffc900,#ff9a00,#ff6f00,#ff4d00,#ff3500,#ff2700,#ff2300,#ff2900,#ff3700,#ff4e00,#ff6d00,#ff9200,#ffbc00,#ffe600,#eafa03,#c4f909,#9ef80f,#79f715,#54f71b,#30f620,#0ef526,#00f538,#00f454,#00f36e,#00f386,#00f29d,#00f2b2,#00f1c6,#00f1d8,#00f1e9,#00f0f9,#00e7ff,#00d8fe,#00cbfe,#00bffe,#00b3fe,#00a8fd,#009ffd,#0095fd,#008dfd,#0085fd,#007efd,#0077fc,#0070fc,#006afc,#0065fc,#0060fc,#005bfc,#0056fc,#0052fc,#004efb,#004bfb,#0047fb,#0044fb,#0041fb,#003efb,#003bfb,#0039fb,#0036fb,#0034fb,#0032fb,#0030fb,#002efb,#002cfb,#002bfb,#0029fb,#0028fb,#0026fb,#0025fb,#0024fb,#0022fb,#0021fb,#0020fa,#001ffa,#001efa,#001dfa,#001cfa,#001bfa,#001bfa,#001afa,#0019fa,#0019fa,#0018fa,#0017fa,#0017fa)"></i>
<i style="background:linear-gradient(90deg,#00adfe,#00c1fe,#00d6fe,#00eeff,#00f1e9,#00f1ce,#00f2b1,#00f392,#00f370,#00f44c,#02f528,#2ef621,#5cf71a,#8af812,#b9f90b,#e6fa04,#ffe400,#ffb300,#ff8500,#ff5e00,#ff4200,#ff2f00,#ff2600,#ff2700,#ff3100,#ff4400,#ff5e00,#ff8100,#ffa900,#ffd200,#fcfa00,#d6f906,#b0f80c,#8bf812,#65f718,#41f61e,#1ff623,#00f52a,#00f447,#00f462,#00f37b,#00f392,#00f2a8,#00f2bc,#00f1cf,#00f1e1,#00f0f1,#00eeff,#00dfff,#00d2fe,#00c5fe,#00b9fe,#00aefe,#00a3fd,#009afd,#0091fd,#0089fd,#0081fd,#007afc,#0073fc,#006dfc,#0068fc,#0062fc,#005dfc,#0059fc,#0054fc,#0050fc,#004cfb,#0049fb,#0045fb,#0042fb,#003ffb,#003dfb,#003afb,#0038fb,#0035fb,#0033fb,#0031fb,#002ffb,#002dfb,#002cfb,#002afb,#0028fb,#0027fb,#0026fb,#0024fb,#0023fb,#0022fb,#0021fa,#0020fa,#001ffa,#001efa,#001dfa,#001cfa,#001bfa,#001afa,#001afa,#0019fa,#0018fa,#0018fa,#0017fa,#0017fa)"></i>
<i style="background:linear-gradient(90deg,#00b3fe,#00c8fe,#00deff,#00f0f8,#00f1df,#00f1c3,#00f2a5,#00f384,#00f461,#00f53c,#15f525,#42f61e,#70f716,#9ff80f,#cdf908,#fafa01,#ffcd00,#ff9e00,#ff7300,#ff5100,#ff3900,#ff2b00,#ff2800,#ff2d00,#ff3c00,#ff5200,#ff7100,#ff9600,#ffbf00,#ffe900,#e8fa04,#c2f90a,#9df80f,#77f715,#52f71b,#2ff621,#0df526,#00f539,#00f455,#00f36f,#00f387,#00f29e,#00f2b3,#00f1c6,#00f1d9,#00f1e9,#00f0f9,#00e7ff,#00d8fe,#00cbfe,#00bffe,#00b3fe,#00a8fd,#009ffd,#0095fd,#008dfd,#0085fd,#007efd,#0077fc,#0070fc,#006afc,#0065fc,#0060fc,#005bfc,#0056fc,#0052fc,#004efb,#004bfb,#0047fb,#0044fb,#0041fb,#003efb,#003bfb,#0039fb,#0036fb,#0034fb,#0032fb,#0030fb,#002efb,#002cfb,#002bfb,#0029fb,#0028fb,#0026fb,#0025fb,#0024fb,#0022fb,#0021fb,#0020fa,#001ffa,#001efa,#001dfa,#001cfa,#001bfa,#001bfa,#001afa,#0019fa,#0019fa,#0018fa,#0017fa,#0017fa,#0016fa)"></i>
<i style="background:linear-gradient(90deg,#00b9fe,#00cffe,#00e6ff,#00f0f0,#00f1d5,#00f2b8,#00f298,#00f376,#00f452,#00f52b,#29f622,#57f71a,#85f813,#b4f90c,#e2f905,#ffe800,#ffb800,#ff8a00,#ff6300,#ff4600,#ff3300,#ff2b00,#ff2c00,#ff3600,#ff4800,#ff6300,#ff8500,#ffad00,#ffd500,#f9fa01,#d4f907,#aef80d,#89f813,#64f718,#40f61e,#1df623,#00f52b,#00f447,#00f462,#00f37b,#00f393,#00f2a8,#00f2bd,#00f1d0,#00f1e1,#00f0f2,#00eeff,#00dfff,#00d1fe,#00c5fe,#00b9fe,#00aefe,#00a3fd,#009afd,#0091fd,#0089fd,#0081fd,#007afc,#0073fc,#006dfc,#0068fc,#0062fc,#005dfc,#0059fc,#0054fc,#0050fc,#004cfb,#0049fb,#0045fb,#0042fb,#003ffb,#003dfb,#003afb,#0038fb,#0035fb,#0033fb,#0031fb,#002ffb,#002dfb,#002cfb,#002afb,#0028fb,#0027fb,#0026fb,#0024fb,#0023fb,#0022fb,#0021fa,#0020fa,#001ffa,#001efa,#001dfa,#001cfa,#001bfa,#001afa,#001afa,#0019fa,#0018fa,#0018fa,#0017fa,#0017fa,#0016fa)"></i>
<i style="background:linear-gradient(90deg,#00c0fe,#00d6fe,#00efff,#00f1e6,#00f1ca,#00f2ac,#00f38b,#00f467,#00f442,#0ff526,#3df61e,#6bf717,#9af810,#c9f908,#f6fa01,#ffd200,#ffa300,#ff7800,#ff5500,#ff3d00,#ff3000,#ff2d00,#ff3200,#ff4100,#ff5700,#ff7500,#ff9b00,#ffc200,#ffec00,#e6fa04,#c0f90a,#9bf810,#75f716,#51f71b,#2ef621,#0cf526,#00f53a,#00f455,#00f36f,#00f387,#00f29e,#00f2b3,#00f1c7,#00f1d9,#00f0ea,#00f0f9,#00e7ff,#00d8fe,#00cbfe,#00befe,#00b3fe,#00a8fd,#009ffd,#0095fd,#008dfd,#0085fd,#007efd,#0077fc,#0070fc,#006afc,#0065fc,#0060fc,#005bfc,#0056fc,#0052fc,#004efb,#004afb,#0047fb,#0044fb,#0041fb,#003efb,#003bfb,#0039fb,#0036fb,#0034fb,#0032fb,#0030fb,#002efb,#002cfb,#002bfb,#0029fb,#0028fb,#0026fb,#0025fb,#0024fb,#0022fb,#0021fb,#0020fa,#001ffa,#001efa,#001dfa,#001cfa,#001cfa,#001bfa,#001afa,#0019fa,#0019fa,#0018fa,#0017fa,#0017fa,#0016fa,#0016fa)"></i>
<i style="background:linear-gradient(90deg,#00c7fe,#00dfff,#00f0f7,#00f1dc,#00f2be,#00f29f,#00f37c,#00f458,#00f531,#23f623,#51f71b,#80f814,#b0f80c,#def905,#ffed00,#ffbc00,#ff8f00,#ff6700,#ff4a00,#ff3800,#ff3000,#ff3100,#ff3b00,#ff4d00,#ff6800,#ff8a00,#ffb100,#ffd900,#f7fa01,#d2f907,#acf80d,#87f813,#62f719,#3ff61e,#1cf624,#00f52c,#00f448,#00f463,#00f37c,#00f393,#00f2a9,#00f2bd,#00f1d0,#00f1e1,#00f0f2,#00eeff,#00dfff,#00d1fe,#00c5fe,#00b9fe,#00aefe,#00a3fd,#009afd,#0091fd,#0089fd,#0081fd,#007afc,#0073fc,#006dfc,#0068fc,#0062fc,#005dfc,#0059fc,#0054fc,#0050fc,#004cfb,#0049fb,#0045fb,#0042fb,#003ffb,#003dfb,#003afb,#0038fb,#0035fb,#0033fb,#0031fb,#002ffb,#002dfb,#002cfb,#002afb,#0028fb,#0027fb,#0026fb,#0024fb,#0023fb,#0022fb,#0021fa,#0020fa,#001ffa,#001efa,#001dfa,#001cfa,#001bfa,#001afa,#001afa,#0019fa,#0018fa,#0018fa,#0017fa,#0017fa,#0016fa,#0016fa)"></i>
<i style="background:linear-gradient(90deg,#00cefe,#00e7ff,#00f0ed,#00f1d1,#00f2b2,#00f391,#00f36e,#00f448,#09f527,#37f61f,#66f718,#96f811,#c5f909,#f2fa02,#ffd600,#ffa800,#ff7c00,#ff5a00,#ff4200,#ff3500,#ff3200,#ff3700,#ff4600,#ff5c00,#ff7a00,#ff9f00,#ffc600,#fff000,#e3f904,#bef90a,#99f810,#74f716,#4ff71c,#2df621,#0bf526,#00f53b,#00f456,#00f370,#00f388,#00f29e,#00f2b3,#00f1c7,#00f1d9,#00f0ea,#00f0f9,#00e6ff,#00d8fe,#00cbfe,#00befe,#00b3fe,#00a8fd,#009efd,#0095fd,#008dfd,#0085fd,#007efd,#0077fc,#0070fc,#006afc,#0065fc,#0060fc,#005bfc,#0056fc,#0052fc,#004efb,#004afb,#0047fb,#0044fb,#0041fb,#003efb,#003bfb,#0039fb,#0036fb,#0034fb,#0032fb,#0030fb,#002efb,#002dfb,#002bfb,#0029fb,#0028fb,#0026fb,#0025fb,#0024fb,#0022fb,#0021fb,#0020fa,#001ffa,#001efa,#001dfa,#001cfa,#001cfa,#001bfa,#001afa,#0019fa,#0019fa,#0018fa,#0017fa,#0017fa,#0016fa,#0016fa,#0015fa)"></i>
<i style="background:linear-gradient(90deg,#00d7fe,#00f0fe,#00f1e3,#00f1c6,#00f2a6,#00f383,#00f45e,#00f537,#1df623,#4cf61c,#7bf715,#abf80d,#daf906,#fff200,#ffc100,#ff9300,#ff6c00,#ff4f00,#ff3d00,#ff3500,#ff3600,#ff4000,#ff5200,#ff6d00,#ff8e00,#ffb500,#ffdd00,#f4fa02,#cff907,#aaf80d,#85f813,#60f719,#3df61e,#1bf624,#00f52d,#00f449,#00f464,#00f37c,#00f294,#00f2a9,#00f2be,#00f1d0,#00f1e2,#00f0f2,#00eeff,#00dfff,#00d1fe,#00c4fe,#00b9fe,#00adfe,#00a3fd,#009afd,#0091fd,#0089fd,#0081fd,#007afc,#0073fc,#006dfc,#0068fc,#0062fc,#005dfc,#0059fc,#0054fc,#0050fc,#004cfb,#0049fb,#0045fb,#0042fb,#003ffb,#003dfb,#003afb,#0038fb,#0035fb,#0033fb,#0031fb,#002ffb,#002dfb,#002cfb,#002afb,#0029fb,#0027fb,#0026fb,#0024fb,#0023fb,#0022fb,#0021fa,#0020fa,#001ffa,#001efa,#001dfa,#001cfa,#001bfa,#001afa,#001afa,#0019fa,#0018fa,#0018fa,#0017fa,#0017fa,#0016fa,#0016fa,#0015fa)"></i>
<i style="background:linear-gradient(90deg,#00dfff,#00f0f5,#00f1d8,#00f2ba,#00f298,#00f374,#00f44e,#03f528,#31f620,#61f719,#91f811,#c0f90a,#eefa03,#ffdb00,#ffac00,#ff8100,#ff5f00,#ff4700,#ff3a00,#ff3700,#ff3d00,#ff4b00,#ff6100,#ff7f00,#ffa400,#ffca00,#fff400,#e0f905,#bcf90b,#96f810,#72f716,#4ef71c,#2bf621,#0af526,#00f53c,#00f457,#00f371,#00f389,#00f29f,#00f2b4,#00f1c7,#00f1d9,#00f0ea,#00f0fa,#00e6ff,#00d8fe,#00cbfe,#00befe,#00b3fe,#00a8fd,#009efd,#0095fd,#008dfd,#0085fd,#007dfd,#0077fc,#0070fc,#006afc,#0065fc,#0060fc,#005bfc,#0056fc,#0052fc,#004efb,#004afb,#0047fb,#0044fb,#0041fb,#003efb,#003bfb,#0039fb,#0036fb,#0034fb,#0032fb,#0030fb,#002efb,#002dfb,#002bfb,#0029fb,#0028fb,#0026fb,#0025fb,#0024fb,#0023fb,#0021fb,#0020fa,#001ffa,#001efa,#001dfa,#001cfa,#001cfa,#001bfa,#001afa,#0019fa,#0019fa,#0018fa,#0017fa,#0017fa,#0016fa,#0016fa,#0015fa,#0015fa)"></i>
<i style="background:linear-gradient(90deg,#00e8ff,#00f0eb,#00f1cd,#00f2ad,#00f38a,#00f464,#00f53d,#17f524,#46f61d,#76f715,#a6f80e,#d5f907,#fff700,#ffc500,#ff9800,#ff7100,#ff5400,#ff4200,#ff3a00,#ff3c00,#ff4600,#ff5800,#ff7200,#ff9300,#ffb900,#ffe100,#f1fa02,#cdf908,#a8f80e,#83f813,#5ff719,#3bf61f,#1af624,#00f52e,#00f44a,#00f464,#00f37d,#00f294,#00f2aa,#00f2be,#00f1d1,#00f1e2,#00f0f2,#00eeff,#00dfff,#00d1fe,#00c4fe,#00b8fe,#00adfe,#00a3fd,#009afd,#0091fd,#0089fd,#0081fd,#007afc,#0073fc,#006dfc,#0068fc,#0062fc,#005dfc,#0059fc,#0054fc,#0050fc,#004cfb,#0049fb,#0045fb,#0042fb,#003ffb,#003dfb,#003afb,#0038fb,#0035fb,#0033fb,#0031fb,#002ffb,#002dfb,#002cfb,#002afb,#0029fb,#0027fb,#0026fb,#0024fb,#0023fb,#0022fb,#0021fa,#0020fa,#001ffa,#001efa,#001dfa,#001cfa,#001bfa,#001afa,#001afa,#0019fa,#0018fa,#0018fa,#0017fa,#0017fa,#0016fa,#0016fa,#0015fa,#0015fa)"></i>
<i style="background:linear-gradient(90deg,#00f0fd,#00f1e0,#00f1c1,#00f29f,#00f37b,#00f454,#00f52b,#2bf621,#5bf71a,#8cf812,#bcf90b,#eafa03,#ffe000,#ffb100,#ff8600,#ff6400,#ff4c00,#ff3f00,#ff3d00,#ff4200,#ff5000,#ff6700,#ff8500,#ffa900,#ffcf00,#fff700,#def905,#b9f90b,#94f811,#70f716,#4cf61c,#2af621,#08f527,#00f53d,#00f458,#00f371,#00f389,#00f2a0,#00f2b4,#00f1c8,#00f1da,#00f0ea,#00f0fa,#00e6ff,#00d8fe,#00cafe,#00befe,#00b3fe,#00a8fd,#009efd,#0095fd,#008dfd,#0085fd,#007dfd,#0077fc,#0070fc,#006afc,#0065fc,#0060fc,#005bfc,#0056fc,#0052fc,#004efb,#004afb,#0047fb,#0044fb,#0041fb,#003efb,#003bfb,#0039fb,#0036fb,#0034fb,#0032fb,#0030fb,#002efb,#002dfb,#002bfb,#0029fb,#0028fb,#0026fb,#0025fb,#0024fb,#0023fb,#0021fb,#0020fa,#001ffa,#001efa,#001dfa,#001cfa,#001cfa,#001bfa,#001afa,#0019fa,#0019fa,#0018fa,#0017fa,#0017fa,#0016fa,#0016fa,#0015fa,#0015fa,#0014fa)"></i>
<i style="background:linear-gradient(90deg,#00f0f3,#00f1d5,#00f2b4,#00f391,#00f36b,#00f443,#11f525,#40f61e,#71f716,#a1f80f,#d1f907,#fefa00,#ffca00,#ff9d00,#ff7600,#ff5900,#ff4700,#ff4000,#ff4100,#ff4b00,#ff5d00,#ff7800,#ff9900,#ffbe00,#ffe500,#eefa03,#caf908,#a5f80e,#81f814,#5df719,#3af61f,#18f524,#00f52f,#00f44b,#00f465,#00f37e,#00f295,#00f2aa,#00f2be,#00f1d1,#00f1e2,#00f0f2,#00edff,#00dfff,#00d1fe,#00c4fe,#00b8fe,#00adfe,#00a3fd,#009afd,#0091fd,#0089fd,#0081fd,#007afc,#0073fc,#006dfc,#0068fc,#0062fc,#005dfc,#0059fc,#0054fc,#0050fc,#004cfb,#0049fb,#0045fb,#0042fb,#003ffb,#003dfb,#003afb,#0038fb,#0035fb,#0033fb,#0031fb,#002ffb,#002dfb,#002cfb,#002afb,#0029fb,#0027fb,#0026fb,#0024fb,#0023fb,#0022fb,#0021fa,#0020fa,#001ffa,#001efa,#001dfa,#001cfa,#001bfa,#001afa,#001afa,#0019fa,#0018fa,#0018fa,#0017fa,#0017fa,#0016fa,#0016fa,#0015fa,#0015fa,#0014fa)"></i>
<i style="background:linear-gradient(90deg,#00f1e8,#00f1c9,#00f2a7,#00f382,#00f45b,#00f531,#25f622,#56f71b,#87f813,#b7f90b,#e6fa04,#ffe400,#ffb600,#ff8b00,#ff6900,#ff5100,#ff4500,#ff4300,#ff4800,#ff5600,#ff6d00,#ff8a00,#ffae00,#ffd300,#fefa00,#daf906,#b6f90b,#92f811,#6df717,#4af61c,#28f622,#07f527,#00f43e,#00f459,#00f372,#00f38a,#00f2a0,#00f2b5,#00f1c8,#00f1da,#00f0eb,#00f0fa,#00e6ff,#00d7fe,#00cafe,#00befe,#00b3fe,#00a8fd,#009efd,#0095fd,#008dfd,#0085fd,#007dfd,#0077fc,#0070fc,#006afc,#0065fc,#0060fc,#005bfc,#0056fc,#0052fc,#004efb,#004afb,#0047fb,#0044fb,#0041fb,#003efb,#003bfb,#0039fb,#0036fb,#0034fb,#0032fb,#0030fb,#002efb,#002dfb,#002bfb,#0029fb,#0028fb,#0026fb,#0025fb,#0024fb,#0023fb,#0021fb,#0020fa,#001ffa,#001efa,#001dfa,#001dfa,#001cfa,#001bfa,#001afa,#0019fa,#0019fa,#0018fa,#0018fa,#0017fa,#0016fa,#0016fa,#0015fa,#0015fa,#0014fa,#0014fa)"></i>
<i style="background:linear-gradient(90deg,#00f1dd,#00f2bc,#00f298,#00f372,#00f449,#0af526,#3af61f,#6cf717,#9df80f,#ccf908,#fafa01,#ffcf00,#ffa200,#ff7b00,#ff5e00,#ff4d00,#ff4600,#ff4800,#ff5100,#ff6300,#ff7e00,#ff9e00,#ffc200,#ffe900,#ebfa03,#c7f909,#a3f80f,#7ef714,#5bf71a,#38f61f,#16f524,#00f531,#00f44c,#00f466,#00f37f,#00f296,#00f2ab,#00f1bf,#00f1d2,#00f1e3,#00f0f3,#00edff,#00deff,#00d1fe,#00c4fe,#00b8fe,#00adfe,#00a3fd,#009afd,#0091fd,#0089fd,#0081fd,#007afc,#0073fc,#006dfc,#0067fc,#0062fc,#005dfc,#0059fc,#0054fc,#0050fc,#004cfb,#0049fb,#0045fb,#0042fb,#003ffb,#003dfb,#003afb,#0038fb,#0035fb,#0033fb,#0031fb,#002ffb,#002dfb,#002cfb,#002afb,#0029fb,#0027fb,#0026fb,#0024fb,#0023fb,#0022fb,#0021fa,#0020fa,#001ffa,#001efa,#001dfa,#001cfa,#001bfa,#001bfa,#001afa,#0019fa,#0018fa,#0018fa,#0017fa,#0017fa,#0016fa,#0016fa,#0015fa,#0015fa,#0014fa,#0014fa)"></i>
<i style="background:linear-gradient(90deg,#00f1d1,#00f2ae,#00f389,#00f461,#00f538,#1ff623,#50f71b,#82f814,#b2f80c,#e1f905,#ffe900,#ffba00,#ff9000,#ff6e00,#ff5700,#ff4b00,#ff4900,#ff4f00,#ff5d00,#ff7300,#ff9000,#ffb300,#ffd800,#fafa01,#d7f906,#b3f90c,#8ff812,#6bf717,#48f61d,#26f622,#06f527,#00f43f,#00f45a,#00f373,#00f38b,#00f2a1,#00f2b5,#00f1c9,#00f1db,#00f0eb,#00f0fb,#00e5ff,#00d7fe,#00cafe,#00befe,#00b2fe,#00a8fd,#009efd,#0095fd,#008dfd,#0085fd,#007dfd,#0077fc,#0070fc,#006afc,#0065fc,#0060fc,#005bfc,#0056fc,#0052fc,#004efb,#004afb,#0047fb,#0044fb,#0041fb,#003efb,#003bfb,#0039fb,#0036fb,#0034fb,#0032fb,#0030fb,#002efb,#002dfb,#002bfb,#0029fb,#0028fb,#0026fb,#0025fb,#0024fb,#0023fb,#0022fb,#0020fa,#001ffa,#001efa,#001dfa,#001dfa,#001cfa,#001bfa,#001afa,#0019fa,#0019fa,#0018fa,#0018fa,#0017fa,#0016fa,#0016fa,#0015fa,#0015fa,#0014fa,#0014fa,#0014fa)"></i>
<i style="background:linear-gradient(90deg,#00f1c4,#00f2a0,#00f379,#00f450,#03f527,#34f620,#66f718,#98f810,#c8f909,#f5fa02,#ffd400,#ffa800,#ff8100,#ff6400,#ff5300,#ff4c00,#ff4e00,#ff5800,#ff6a00,#ff8400,#ffa500,#ffc800,#ffee00,#e7fa04,#c4f909,#a0f80f,#7cf715,#58f71a,#36f620,#15f525,#00f532,#00f44d,#00f467,#00f380,#00f296,#00f2ac,#00f1c0,#00f1d2,#00f1e3,#00f0f3,#00edff,#00deff,#00d0fe,#00c4fe,#00b8fe,#00adfe,#00a3fd,#0099fd,#0091fd,#0089fd,#0081fd,#007afc,#0073fc,#006dfc,#0067fc,#0062fc,#005dfc,#0059fc,#0054fc,#0050fc,#004cfb,#0049fb,#0045fb,#0042fb,#003ffb,#003dfb,#003afb,#0038fb,#0035fb,#0033fb,#0031fb,#002ffb,#002dfb,#002cfb,#002afb,#0029fb,#0027fb,#0026fb,#0024fb,#0023fb,#0022fb,#0021fa,#0020fa,#001ffa,#001efa,#001dfa,#001cfa,#001bfa,#001bfa,#001afa,#0019fa,#0018fa,#0018fa,#0017fa,#0017fa,#0016fa,#0016fa,#0015fa,#0015fa,#0014fa,#0014fa,#0013fa)"></i>
<i style="background:linear-gradient(90deg,#00f2b7,#00f391,#00f369,#00f43e,#18f524,#4af61c,#7cf715,#aef80d,#ddf905,#ffee00,#ffbf00,#ff9600,#ff7400,#ff5d00,#ff5200,#ff4f00,#ff5500,#ff6300,#ff7a00,#ff9700,#ffb900,#ffdd00,#f6fa01,#d4f907,#b0f80c,#8cf812,#69f718,#46f61d,#24f622,#04f527,#00f441,#00f45b,#00f374,#00f38c,#00f2a2,#00f2b6,#00f1c9,#00f1db,#00f0ec,#00f0fb,#00e5ff,#00d7fe,#00cafe,#00befe,#00b2fe,#00a8fd,#009efd,#0095fd,#008dfd,#0085fd,#007dfd,#0077fc,#0070fc,#006afc,#0065fc,#0060fc,#005bfc,#0056fc,#0052fc,#004efb,#004afb,#0047fb,#0044fb,#0041fb,#003efb,#003bfb,#0039fb,#0036fb,#0034fb,#0032fb,#0030fb,#002efb,#002dfb,#002bfb,#0029fb,#0028fb,#0026fb,#0025fb,#0024fb,#0023fb,#0022fb,#0020fa,#001ffa,#001efa,#001efa,#001dfa,#001cfa,#001bfa,#001afa,#001afa,#0019fa,#0018fa,#0018fa,#0017fa,#0016fa,#0016fa,#0015fa,#0015fa,#0015fa,#0014fa,#0014fa,#0013fa)"></i>
<i style="background:linear-gradient(90deg,#00f2a8,#00f381,#00f457,#00f52b,#2ef621,#60f719,#93f811,#c3f909,#f1fa02,#ffd800,#ffad00,#ff8700,#ff6a00,#ff5900,#ff5300,#ff5500,#ff5f00,#ff7100,#ff8b00,#ffab00,#ffcd00,#fff300,#e3f904,#c0f90a,#9df80f,#79f715,#56f71b,#34f620,#13f525,#00f533,#00f44f,#00f468,#00f381,#00f297,#00f2ac,#00f1c0,#00f1d3,#00f1e4,#00f0f4,#00ecff,#00deff,#00d0fe,#00c4fe,#00b8fe,#00adfe,#00a3fd,#0099fd,#0091fd,#0088fd,#0081fd,#007afc,#0073fc,#006dfc,#0067fc,#0062fc,#005dfc,#0059fc,#0054fc,#0050fc,#004cfb,#0049fb,#0045fb,#0042fb,#003ffb,#003dfb,#003afb,#0038fb,#0035fb,#0033fb,#0031fb,#002ffb,#002dfb,#002cfb,#002afb,#0029fb,#0027fb,#0026fb,#0025fb,#0023fb,#0022fb,#0021fb,#0020fa,#001ffa,#001efa,#001dfa,#001cfa,#001bfa,#001bfa,#001afa,#0019fa,#0019fa,#0018fa,#0017fa,#0017fa,#0016fa,#0016fa,#0015fa,#0015fa,#0014fa,#0014fa,#0014fa,#0013fa)"></i>
<i style="background:linear-gradient(90deg,#00f299,#00f370,#00f445,#12f525,#44f61d,#77f715,#a9f80e,#d8f906,#fff300,#ffc400,#ff9b00,#ff7a00,#ff6300,#ff5800,#ff5600,#ff5c00,#ff6b00,#ff8100,#ff9e00,#ffbe00,#ffe200,#f2fa02,#d0f907,#adf80d,#89f812,#66f718,#44f61d,#22f623,#02f528,#00f442,#00f45c,#00f375,#00f38c,#00f2a2,#00f2b7,#00f1ca,#00f1db,#00f0ec,#00f0fb,#00e5ff,#00d7fe,#00cafe,#00bdfe,#00b2fe,#00a8fd,#009efd,#0095fd,#008cfd,#0085fd,#007dfd,#0077fc,#0070fc,#006afc,#0065fc,#0060fc,#005bfc,#0056fc,#0052fc,#004efb,#004afb,#0047fb,#0044fb,#0041fb,#003efb,#003bfb,#0039fb,#0036fb,#0034fb,#0032fb,#0030fb,#002efb,#002dfb,#002bfb,#0029fb,#0028fb,#0026fb,#0025fb,#0024fb,#0023fb,#0022fb,#0021fa,#001ffa,#001efa,#001efa,#001dfa,#001cfa,#001bfa,#001afa,#001afa,#0019fa,#0018fa,#0018fa,#0017fa,#0016fa,#0016fa,#0015fa,#0015fa,#0015fa,#0014fa,#0014fa,#0013fa,#0013fa)"></i>
<i style="background:linear-gradient(90deg,#00f389,#00f45e,#00f532,#28f622,#5bf71a,#8ef812,#bff90a,#edfa03,#ffdd00,#ffb200,#ff8c00,#ff7000,#ff5f00,#ff5a00,#ff5c00,#ff6600,#ff7800,#ff9200,#ffb100,#ffd300,#fff800,#dff905,#bdf90a,#99f810,#76f715,#53f71b,#32f620,#11f525,#00f535,#00f450,#00f369,#00f382,#00f298,#00f2ad,#00f1c1,#00f1d3,#00f1e4,#00f0f4,#00ecff,#00ddff,#00d0fe,#00c3fe,#00b8fe,#00adfe,#00a3fd,#0099fd,#0091fd,#0088fd,#0081fd,#007afc,#0073fc,#006dfc,#0067fc,#0062fc,#005dfc,#0058fc,#0054fc,#0050fc,#004cfb,#0049fb,#0045fb,#0042fb,#003ffb,#003dfb,#003afb,#0038fb,#0035fb,#0033fb,#0031fb,#002ffb,#002dfb,#002cfb,#002afb,#0029fb,#0027fb,#0026fb,#0025fb,#0023fb,#0022fb,#0021fb,#0020fa,#001ffa,#001efa,#001dfa,#001cfa,#001bfa,#001bfa,#001afa,#0019fa,#0019fa,#0018fa,#0017fa,#0017fa,#0016fa,#0016fa,#0015fa,#0015fa,#0014fa,#0014fa,#0014fa,#0013fa,#0013fa)"></i>
<i style="background:linear-gradient(90deg,#00f378,#00f44c,#0bf526,#3ef61e,#72f716,#a4f80e,#d4f907,#fff800,#ffc900,#ffa100,#ff8000,#ff6a00,#ff5f00,#ff5e00,#ff6400,#ff7200,#ff8800,#ffa500,#ffc400,#ffe800,#eefa03,#ccf908,#a9f80d,#86f813,#63f718,#41f61e,#20f623,#00f528,#00f443,#00f45e,#00f376,#00f38d,#00f2a3,#00f2b7,#00f1ca,#00f1dc,#00f0ec,#00f0fc,#00e4ff,#00d6fe,#00c9fe,#00bdfe,#00b2fe,#00a8fd,#009efd,#0095fd,#008cfd,#0085fd,#007dfd,#0076fc,#0070fc,#006afc,#0065fc,#0060fc,#005bfc,#0056fc,#0052fc,#004efb,#004afb,#0047fb,#0044fb,#0041fb,#003efb,#003bfb,#0039fb,#0036fb,#0034fb,#0032fb,#0030fb,#002efb,#002dfb,#002bfb,#0029fb,#0028fb,#0026fb,#0025fb,#0024fb,#0023fb,#0022fb,#0021fa,#0020fa,#001ffa,#001efa,#001dfa,#001cfa,#001bfa,#001afa,#001afa,#0019fa,#0018fa,#0018fa,#0017fa,#0017fa,#0016fa,#0015fa,#0015fa,#0015fa,#0014fa,#0014fa,#0013fa,#0013fa,#0013fa)"></i>
<i style="background:linear-gradient(90deg,#00f466,#00f538,#21f623,#55f71b,#88f813,#baf90b,#e9fa04,#ffe200,#ffb700,#ff9200,#ff7700,#ff6700,#ff6100,#ff6400,#ff6e00,#ff8000,#ff9900,#ffb800,#ffd900,#fcfa01,#dbf906,#b9f90b,#96f810,#73f716,#51f71b,#2ff621,#0ff526,#00f537,#00f451,#00f36b,#00f383,#00f299,#00f2ae,#00f1c1,#00f1d4,#00f1e5,#00f0f4,#00ecff,#00ddff,#00d0fe,#00c3fe,#00b7fe,#00adfe,#00a3fd,#0099fd,#0090fd,#0088fd,#0081fd,#007afc,#0073fc,#006dfc,#0067fc,#0062fc,#005dfc,#0058fc,#0054fc,#0050fc,#004cfb,#0049fb,#0045fb,#0042fb,#003ffb,#003dfb,#003afb,#0038fb,#0035fb,#0033fb,#0031fb,#002ffb,#002dfb,#002cfb,#002afb,#0029fb,#0027fb,#0026fb,#0025fb,#0023fb,#0022fb,#0021fb,#0020fa,#001ffa,#001efa,#001dfa,#001cfa,#001cfa,#001bfa,#001afa,#0019fa,#0019fa,#0018fa,#0017fa,#0017fa,#0016fa,#0016fa,#0015fa,#0015fa,#0014fa,#0014fa,#0014fa,#0013fa,#0013fa,#0012fa)"></i>
<i style="background:linear-gradient(90deg,#00f453,#04f527,#38f61f,#6cf717,#9ff80f,#d0f907,#fcfa00,#ffce00,#ffa700,#ff8600,#ff7100,#ff6700,#ff6600,#ff6c00,#ff7a00,#ff9000,#ffac00,#ffcb00,#ffee00,#e9fa03,#c8f909,#a5f80e,#83f813,#60f719,#3ef61e,#1ef623,#00f52a,#00f445,#00f45f,#00f377,#00f38e,#00f2a4,#00f2b8,#00f1cb,#00f1dd,#00f0ed,#00f0fc,#00e4ff,#00d6fe,#00c9fe,#00bdfe,#00b2fe,#00a7fd,#009efd,#0095fd,#008cfd,#0084fd,#007dfd,#0076fc,#0070fc,#006afc,#0065fc,#0060fc,#005bfc,#0056fc,#0052fc,#004efb,#004afb,#0047fb,#0044fb,#0041fb,#003efb,#003bfb,#0039fb,#0036fb,#0034fb,#0032fb,#0030fb,#002efb,#002dfb,#002bfb,#0029fb,#0028fb,#0026fb,#0025fb,#0024fb,#0023fb,#0022fb,#0021fa,#0020fa,#001ffa,#001efa,#001dfa,#001cfa,#001bfa,#001afa,#001afa,#0019fa,#0018fa,#0018fa,#0017fa,#0017fa,#0016fa,#0016fa,#0015fa,#0015fa,#0014fa,#0014fa,#0013fa,#0013fa,#0013fa,#0012fa)"></i>
<i style="background:linear-gradient(90deg,#00f43f,#1bf624,#4ff71c,#83f813,#b6f90c,#e4f904,#ffe700,#ffbc00,#ff9800,#ff7e00,#ff6e00,#ff6900,#ff6c00,#ff7600,#ff8800,#ffa100,#ffbe00,#ffdf00,#f7fa01,#d6f906,#b5f90c,#92f811,#70f716,#4ef71c,#2df621,#0df526,#00f538,#00f453,#00f36c,#00f384,#00f29a,#00f2af,#00f1c2,#00f1d4,#00f1e5,#00f0f5,#00ebff,#00ddff,#00cffe,#00c3fe,#00b7fe,#00acfe,#00a2fd,#0099fd,#0090fd,#0088fd,#0081fd,#007afc,#0073fc,#006dfc,#0067fc,#0062fc,#005dfc,#0058fc,#0054fc,#0050fc,#004cfb,#0049fb,#0045fb,#0042fb,#003ffb,#003dfb,#003afb,#0038fb,#0035fb,#0033fb,#0031fb,#002ffb,#002dfb,#002cfb,#002afb,#0029fb,#0027fb,#0026fb,#0025fb,#0023fb,#0022fb,#0021fb,#0020fa,#001ffa,#001efa,#001dfa,#001cfa,#001cfa,#001bfa,#001afa,#0019fa,#0019fa,#0018fa,#0017fa,#0017fa,#0016fa,#0016fa,#0015fa,#0015fa,#0014fa,#0014fa,#0014fa,#0013fa,#0013fa,#0012fa,#0012fa)"></i>
<i style="background:linear-gradient(90deg,#00f52b,#32f620,#67f718,#9af810,#cbf908,#f8fa01,#ffd300,#ffad00,#ff8d00,#ff7800,#ff6f00,#ff6e00,#ff7500,#ff8300,#ff9800,#ffb300,#ffd200,#fff500,#e4f904,#c3f909,#a1f80f,#7ff714,#5df719,#3cf61f,#1bf624,#00f52c,#00f447,#00f460,#00f379,#00f390,#00f2a5,#00f2b9,#00f1cc,#00f1dd,#00f0ed,#00f0fc,#00e4ff,#00d6fe,#00c9fe,#00bdfe,#00b2fe,#00a7fd,#009dfd,#0095fd,#008cfd,#0084fd,#007dfd,#0076fc,#0070fc,#006afc,#0065fc,#0060fc,#005bfc,#0056fc,#0052fc,#004efb,#004afb,#0047fb,#0044fb,#0041fb,#003efb,#003bfb,#0039fb,#0036fb,#0034fb,#0032fb,#0030fb,#002efb,#002dfb,#002bfb,#0029fb,#0028fb,#0026fb,#0025fb,#0024fb,#0023fb,#0022fb,#0021fa,#0020fa,#001ffa,#001efa,#001dfa,#001cfa,#001bfa,#001afa,#001afa,#0019fa,#0018fa,#0018fa,#0017fa,#0017fa,#0016fa,#0016fa,#0015fa,#0015fa,#0014fa,#0014fa,#0013fa,#0013fa,#0013fa,#0012fa,#0012fa)"></i>
<i style="background:linear-gradient(90deg,#14f525,#4af61c,#7ef714,#b1f80c,#e0f905,#ffec00,#ffc100,#ff9f00,#ff8500,#ff7600,#ff7200,#ff7500,#ff7f00,#ff9100,#ffaa00,#ffc600,#ffe600,#f2fa02,#d2f907,#b0f80c,#8ef812,#6cf717,#4bf61c,#2af621,#0af526,#00f53a,#00f455,#00f36d,#00f385,#00f29b,#00f2b0,#00f1c3,#00f1d5,#00f1e6,#00f0f5,#00ebff,#00dcff,#00cffe,#00c3fe,#00b7fe,#00acfe,#00a2fd,#0099fd,#0090fd,#0088fd,#0081fd,#007afc,#0073fc,#006dfc,#0067fc,#0062fc,#005dfc,#0058fc,#0054fc,#0050fc,#004cfb,#0049fb,#0045fb,#0042fb,#003ffb,#003dfb,#003afb,#0038fb,#0035fb,#0033fb,#0031fb,#002ffb,#002dfb,#002cfb,#002afb,#0029fb,#0027fb,#0026fb,#0025fb,#0023fb,#0022fb,#0021fb,#0020fa,#001ffa,#001efa,#001dfa,#001cfa,#001cfa,#001bfa,#001afa,#0019fa,#0019fa,#0018fa,#0017fa,#0017fa,#0016fa,#0016fa,#0015fa,#0015fa,#0014fa,#0014fa,#0014fa,#0013fa,#0013fa,#0012fa,#0012fa,#0012fa)"></i>
<i style="background:linear-gradient(90deg,#2cf621,#62f719,#96f810,#c7f909,#f4fa02,#ffd800,#ffb200,#ff9400,#ff8000,#ff7800,#ff7700,#ff7e00,#ff8c00,#ffa100,#ffbb00,#ffd900,#fefa00,#dff905,#bff90a,#9df80f,#7bf715,#5af71a,#39f61f,#19f524,#00f52e,#00f448,#00f462,#00f37a,#00f391,#00f2a6,#00f2ba,#00f1cd,#00f1de,#00f0ee,#00f0fd,#00e3ff,#00d5fe,#00c8fe,#00bcfe,#00b1fe,#00a7fd,#009dfd,#0094fd,#008cfd,#0084fd,#007dfd,#0076fc,#0070fc,#006afc,#0065fc,#0060fc,#005bfc,#0056fc,#0052fc,#004efb,#004afb,#0047fb,#0044fb,#0041fb,#003efb,#003bfb,#0039fb,#0036fb,#0034fb,#0032fb,#0030fb,#002efb,#002dfb,#002bfb,#0029fb,#0028fb,#0026fb,#0025fb,#0024fb,#0023fb,#0022fb,#0021fa,#0020fa,#001ffa,#001efa,#001dfa,#001cfa,#001bfa,#001afa,#001afa,#0019fa,#0018fa,#0018fa,#0017fa,#0017fa,#0016fa,#0016fa,#0015fa,#0015fa,#0014fa,#0014fa,#0013fa,#0013fa,#0013fa,#0012fa,#0012fa,#0012fa)"></i>
<i style="background:linear-gradient(90deg,#44f61d,#7af715,#adf80d,#dcf905,#fff100,#ffc700,#ffa500,#ff8c00,#ff8000,#ff7b00,#ff7e00,#ff8900,#ff9a00,#ffb200,#ffcd00,#ffed00,#ecfa03,#cdf908,#acf80d,#8af812,#69f718,#48f61d,#27f622,#08f527,#00f53c,#00f456,#00f36f,#00f386,#00f29c,#00f2b1,#00f1c4,#00f1d6,#00f1e6,#00f0f6,#00eaff,#00dcff,#00cffe,#00c2fe,#00b7fe,#00acfe,#00a2fd,#0099fd,#0090fd,#0088fd,#0081fd,#007afc,#0073fc,#006dfc,#0067fc,#0062fc,#005dfc,#0058fc,#0054fc,#0050fc,#004cfb,#0049fb,#0045fb,#0042fb,#003ffb,#003dfb,#003afb,#0038fb,#0035fb,#0033fb,#0031fb,#002ffb,#002dfb,#002cfb,#002afb,#0029fb,#0027fb,#0026fb,#0025fb,#0023fb,#0022fb,#0021fb,#0020fa,#001ffa,#001efa,#001dfa,#001cfa,#001cfa,#001bfa,#001afa,#0019fa,#0019fa,#0018fa,#0017fa,#0017fa,#0016fa,#0016fa,#0015fa,#0015fa,#0014fa,#0014fa,#0014fa,#0013fa,#0013fa,#0013fa,#0012fa,#0012fa,#0012fa)"></i>
<i style="background:linear-gradient(90deg,#5cf71a,#91f811,#c3f909,#f0fa02,#ffdd00,#ffb800,#ff9b00,#ff8800,#ff8100,#ff8000,#ff8700,#ff9500,#ffaa00,#ffc300,#ffe100,#f8fa01,#daf906,#baf90b,#99f810,#77f715,#56f71a,#36f620,#16f525,#00f530,#00f44a,#00f464,#00f37c,#00f392,#00f2a7,#00f2bb,#00f1cd,#00f1df,#00f0ef,#00f0fe,#00e3ff,#00d5fe,#00c8fe,#00bcfe,#00b1fe,#00a7fd,#009dfd,#0094fd,#008cfd,#0084fd,#007dfc,#0076fc,#0070fc,#006afc,#0065fc,#005ffc,#005bfc,#0056fc,#0052fc,#004efb,#004afb,#0047fb,#0044fb,#0041fb,#003efb,#003bfb,#0039fb,#0036fb,#0034fb,#0032fb,#0030fb,#002efb,#002dfb,#002bfb,#0029fb,#0028fb,#0026fb,#0025fb,#0024fb,#0023fb,#0022fb,#0021fa,#0020fa,#001ffa,#001efa,#001dfa,#001cfa,#001bfa,#001afa,#001afa,#0019fa,#0018fa,#0018fa,#0017fa,#0017fa,#0016fa,#0016fa,#0015fa,#0015fa,#0014fa,#0014fa,#0013fa,#0013fa,#0013fa,#0012fa,#0012fa,#0012fa,#0011fa)"></i>
<i style="background:linear-gradient(90deg,#75f716,#a9f80e,#d8f906,#fff600,#ffcc00,#ffac00,#ff9400,#ff8900,#ff8500,#ff8800,#ff9200,#ffa400,#ffba00,#ffd600,#fff500,#e6fa04,#c7f909,#a7f80e,#86f813,#65f718,#44f61d,#24f622,#05f527,#00f43e,#00f458,#00f371,#00f388,#00f29d,#00f2b2,#00f1c5,#00f1d6,#00f1e7,#00f0f6,#00eaff,#00dbff,#00cefe,#00c2fe,#00b6fe,#00acfe,#00a2fd,#0098fd,#0090fd,#0088fd,#0080fd,#0079fc,#0073fc,#006dfc,#0067fc,#0062fc,#005dfc,#0058fc,#0054fc,#0050fc,#004cfb,#0049fb,#0045fb,#0042fb,#003ffb,#003dfb,#003afb,#0038fb,#0035fb,#0033fb,#0031fb,#002ffb,#002dfb,#002cfb,#002afb,#0029fb,#0027fb,#0026fb,#0025fb,#0023fb,#0022fb,#0021fb,#0020fa,#001ffa,#001efa,#001dfa,#001cfa,#001cfa,#001bfa,#001afa,#0019fa,#0019fa,#0018fa,#0018fa,#0017fa,#0016fa,#0016fa,#0015fa,#0015fa,#0014fa,#0014fa,#0014fa,#0013fa,#0013fa,#0013fa,#0012fa,#0012fa,#0012fa,#0011fa)"></i>
<i style="background:linear-gradient(90deg,#8df812,#bff90a,#ecfa03,#ffe200,#ffbe00,#ffa200,#ff9100,#ff8b00,#ff8a00,#ff9100,#ff9f00,#ffb300,#ffcc00,#ffe900,#f2fa02,#d4f907,#b5f90c,#94f811,#73f716,#53f71b,#32f620,#13f525,#00f532,#00f44c,#00f465,#00f37d,#00f393,#00f2a8,#00f2bc,#00f1ce,#00f1df,#00f0ef,#00f0fe,#00e2ff,#00d4fe,#00c8fe,#00bcfe,#00b1fe,#00a6fd,#009dfd,#0094fd,#008cfd,#0084fd,#007dfc,#0076fc,#0070fc,#006afc,#0065fc,#005ffc,#005bfc,#0056fc,#0052fc,#004efb,#004afb,#0047fb,#0044fb,#0041fb,#003efb,#003bfb,#0039fb,#0036fb,#0034fb,#0032fb,#0030fb,#002efb,#002dfb,#002bfb,#0029fb,#0028fb,#0026fb,#0025fb,#0024fb,#0023fb,#0022fb,#0021fa,#0020fa,#001ffa,#001efa,#001dfa,#001cfa,#001bfa,#001bfa,#001afa,#0019fa,#0018fa,#0018fa,#0017fa,#0017fa,#0016fa,#0016fa,#0015fa,#0015fa,#0014fa,#0014fa,#0013fa,#0013fa,#0013fa,#0012fa,#0012fa,#0012fa,#0011fa,#0011fa)"></i>
<i style="background:linear-gradient(90deg,#a5f80e,#d5f907,#fefa00,#ffd200,#ffb200,#ff9d00,#ff9200,#ff8f00,#ff9200,#ff9d00,#ffae00,#ffc300,#ffde00,#fcfa00,#e0f905,#c2f90a,#a2f80f,#81f814,#61f719,#40f61e,#21f623,#02f528,#00f441,#00f45a,#00f372,#00f389,#00f29f,#00f2b3,#00f1c6,#00f1d7,#00f1e8,#00f0f7,#00e9ff,#00dbff,#00cefe,#00c1fe,#00b6fe,#00abfe,#00a1fd,#0098fd,#0090fd,#0088fd,#0080fd,#0079fc,#0073fc,#006dfc,#0067fc,#0062fc,#005dfc,#0058fc,#0054fc,#0050fc,#004cfb,#0049fb,#0045fb,#0042fb,#003ffb,#003dfb,#003afb,#0038fb,#0035fb,#0033fb,#0031fb,#002ffb,#002dfb,#002cfb,#002afb,#0029fb,#0027fb,#0026fb,#0025fb,#0023fb,#0022fb,#0021fb,#0020fa,#001ffa,#001efa,#001dfa,#001cfa,#001cfa,#001bfa,#001afa,#0019fa,#0019fa,#0018fa,#0018fa,#0017fa,#0016fa,#0016fa,#0015fa,#0015fa,#0015fa,#0014fa,#0014fa,#0013fa,#0013fa,#0013fa,#0012fa,#0012fa,#0012fa,#0011fa,#0011fa)"></i>
<i style="background:linear-gradient(90deg,#bcf90b,#e9fa04,#ffe800,#ffc400,#ffaa00,#ff9b00,#ff9500,#ff9500,#ff9c00,#ffaa00,#ffbd00,#ffd500,#fff200,#ebfa03,#cef908,#aff80d,#8ff812,#6ff717,#4ff71c,#2ff621,#10f526,#00f535,#00f44f,#00f467,#00f37f,#00f295,#00f2aa,#00f2bd,#00f1cf,#00f1e0,#00f0f0,#00f0ff,#00e2ff,#00d4fe,#00c7fe,#00bbfe,#00b0fe,#00a6fd,#009dfd,#0094fd,#008cfd,#0084fd,#007dfc,#0076fc,#0070fc,#006afc,#0064fc,#005ffc,#005bfc,#0056fc,#0052fc,#004efb,#004afb,#0047fb,#0044fb,#0041fb,#003efb,#003bfb,#0039fb,#0036fb,#0034fb,#0032fb,#0030fb,#002efb,#002dfb,#002bfb,#0029fb,#0028fb,#0026fb,#0025fb,#0024fb,#0023fb,#0022fb,#0021fa,#0020fa,#001ffa,#001efa,#001dfa,#001cfa,#001bfa,#001bfa,#001afa,#0019fa,#0019fa,#0018fa,#0017fa,#0017fa,#0016fa,#0016fa,#0015fa,#0015fa,#0014fa,#0014fa,#0013fa,#0013fa,#0013fa,#0012fa,#0012fa,#0012fa,#0011fa,#0011fa,#0011fa)"></i>
<i style="background:linear-gradient(90deg,#d1f907,#fafa01,#ffd700,#ffb900,#ffa600,#ff9d00,#ff9900,#ff9d00,#ffa800,#ffb800,#ffcd00,#ffe700,#f5fa02,#d9f906,#bcf90b,#9cf80f,#7cf714,#5cf71a,#3df61e,#1ef623,#00f529,#00f443,#00f45c,#00f374,#00f38b,#00f2a0,#00f2b4,#00f1c7,#00f1d8,#00f1e9,#00f0f8,#00e9ff,#00daff,#00cdfe,#00c1fe,#00b6fe,#00abfe,#00a1fd,#0098fd,#0090fd,#0088fd,#0080fd,#0079fc,#0073fc,#006dfc,#0067fc,#0062fc,#005dfc,#0058fc,#0054fc,#0050fc,#004cfb,#0049fb,#0045fb,#0042fb,#003ffb,#003dfb,#003afb,#0038fb,#0035fb,#0033fb,#0031fb,#002ffb,#002dfb,#002cfb,#002afb,#0029fb,#0027fb,#0026fb,#0025fb,#0023fb,#0022fb,#0021fb,#0020fa,#001ffa,#001efa,#001dfa,#001cfa,#001cfa,#001bfa,#001afa,#001afa,#0019fa,#0018fa,#0018fa,#0017fa,#0016fa,#0016fa,#0015fa,#0015fa,#0015fa,#0014fa,#0014fa,#0013fa,#0013fa,#0013fa,#0012fa,#0012fa,#0012fa,#0011fa,#0011fa,#0011fa)"></i>
<i style="background:linear-gradient(90deg,#e5f904,#ffec00,#ffca00,#ffb200,#ffa600,#ffa000,#ffa000,#ffa700,#ffb400,#ffc700,#ffde00,#fefa00,#e4f904,#c7f909,#a9f80d,#8af812,#6af717,#4af61c,#2bf621,#0df526,#00f537,#00f451,#00f369,#00f380,#00f296,#00f2ab,#00f2be,#00f1d0,#00f1e1,#00f0f1,#00f0ff,#00e1ff,#00d3fe,#00c7fe,#00bbfe,#00b0fe,#00a6fd,#009cfd,#0094fd,#008bfd,#0084fd,#007dfc,#0076fc,#0070fc,#006afc,#0064fc,#005ffc,#005bfc,#0056fc,#0052fc,#004efb,#004afb,#0047fb,#0044fb,#0041fb,#003efb,#003bfb,#0039fb,#0036fb,#0034fb,#0032fb,#0030fb,#002efb,#002dfb,#002bfb,#0029fb,#0028fb,#0026fb,#0025fb,#0024fb,#0023fb,#0022fb,#0021fa,#0020fa,#001ffa,#001efa,#001dfa,#001cfa,#001bfa,#001bfa,#001afa,#0019fa,#0019fa,#0018fa,#0017fa,#0017fa,#0016fa,#0016fa,#0015fa,#0015fa,#0014fa,#0014fa,#0014fa,#0013fa,#0013fa,#0012fa,#0012fa,#0012fa,#0011fa,#0011fa,#0011fa,#0011fa)"></i>
<i style="background:linear-gradient(90deg,#f7fa01,#ffdd00,#ffc000,#ffaf00,#ffa700,#ffa500,#ffa900,#ffb300,#ffc200,#ffd700,#fff100,#eefa03,#d3f907,#b5f90c,#97f810,#77f715,#58f71a,#39f61f,#1af624,#00f52b,#00f445,#00f45e,#00f376,#00f38c,#00f2a1,#00f2b5,#00f1c8,#00f1d9,#00f1e9,#00f0f8,#00e8ff,#00daff,#00cdfe,#00c1fe,#00b5fe,#00abfd,#00a1fd,#0098fd,#008ffd,#0087fd,#0080fd,#0079fc,#0073fc,#006dfc,#0067fc,#0062fc,#005dfc,#0058fc,#0054fc,#0050fc,#004cfb,#0049fb,#0045fb,#0042fb,#003ffb,#003dfb,#003afb,#0038fb,#0035fb,#0033fb,#0031fb,#002ffb,#002dfb,#002cfb,#002afb,#0029fb,#0027fb,#0026fb,#0025fb,#0023fb,#0022fb,#0021fb,#0020fa,#001ffa,#001efa,#001dfa,#001dfa,#001cfa,#001bfa,#001afa,#001afa,#0019fa,#0018fa,#0018fa,#0017fa,#0017fa,#0016fa,#0015fa,#0015fa,#0015fa,#0014fa,#0014fa,#0013fa,#0013fa,#0013fa,#0012fa,#0012fa,#0012fa,#0011fa,#0011fa,#0011fa,#0011fa)"></i>
<i style="background:linear-gradient(90deg,#fff100,#ffd000,#ffbb00,#ffb000,#ffab00,#ffac00,#ffb300,#ffbf00,#ffd100,#ffe900,#f7fa01,#ddf905,#c1f90a,#a3f80e,#84f813,#65f718,#46f61d,#27f622,#09f527,#00f53a,#00f453,#00f36b,#00f382,#00f298,#00f2ac,#00f1bf,#00f1d1,#00f1e2,#00f0f1,#00efff,#00e0ff,#00d3fe,#00c6fe,#00bbfe,#00b0fe,#00a6fd,#009cfd,#0093fd,#008bfd,#0084fd,#007cfc,#0076fc,#0070fc,#006afc,#0064fc,#005ffc,#005bfc,#0056fc,#0052fc,#004efb,#004afb,#0047fb,#0044fb,#0041fb,#003efb,#003bfb,#0039fb,#0036fb,#0034fb,#0032fb,#0030fb,#002efb,#002dfb,#002bfb,#0029fb,#0028fb,#0026fb,#0025fb,#0024fb,#0023fb,#0022fb,#0021fa,#0020fa,#001ffa,#001efa,#001dfa,#001cfa,#001bfa,#001bfa,#001afa,#0019fa,#0019fa,#0018fa,#0017fa,#0017fa,#0016fa,#0016fa,#0015fa,#0015fa,#0014fa,#0014fa,#0014fa,#0013fa,#0013fa,#0012fa,#0012fa,#0012fa,#0012fa,#0011fa,#0011fa,#0011fa,#0010fa)"></i>
<i style="background:linear-gradient(90deg,#ffe300,#ffc800,#ffba00,#ffb200,#ffb000,#ffb400,#ffbe00,#ffcd00,#ffe200,#fefa00,#e6fa04,#cbf908,#aff80d,#91f811,#72f716,#53f71b,#34f620,#16f525,#00f52e,#00f448,#00f461,#00f378,#00f38e,#00f2a3,#00f2b7,#00f1c9,#00f1da,#00f0ea,#00f0f9,#00e7ff,#00d9ff,#00ccfe,#00c0fe,#00b5fe,#00aafd,#00a1fd,#0098fd,#008ffd,#0087fd,#0080fd,#0079fc,#0073fc,#006dfc,#0067fc,#0062fc,#005dfc,#0058fc,#0054fc,#0050fc,#004cfb,#0049fb,#0045fb,#0042fb,#003ffb,#003dfb,#003afb,#0038fb,#0035fb,#0033fb,#0031fb,#002ffb,#002dfb,#002cfb,#002afb,#0029fb,#0027fb,#0026fb,#0025fb,#0023fb,#0022fb,#0021fb,#0020fa,#001ffa,#001efa,#001dfa,#001dfa,#001cfa,#001bfa,#001afa,#001afa,#0019fa,#0018fa,#0018fa,#0017fa,#0017fa,#0016fa,#0016fa,#0015fa,#0015fa,#0014fa,#0014fa,#0013fa,#0013fa,#0013fa,#0012fa,#0012fa,#0012fa,#0011fa,#0011fa,#0011fa,#0011fa,#0010fa)"></i>
<i style="background:linear-gradient(90deg,#ffd700,#ffc400,#ffbb00,#ffb600,#ffb700,#ffbe00,#ffcb00,#ffdd00,#fff300,#eefa03,#d5f907,#baf90b,#9cf80f,#7ef714,#60f719,#41f61e,#23f623,#06f527,#00f53d,#00f456,#00f36e,#00f384,#00f29a,#00f2ae,#00f1c1,#00f1d2,#00f1e3,#00f0f2,#00eeff,#00e0ff,#00d2fe,#00c6fe,#00bafe,#00affe,#00a5fd,#009cfd,#0093fd,#008bfd,#0083fd,#007cfc,#0076fc,#006ffc,#006afc,#0064fc,#005ffc,#005afc,#0056fc,#0052fc,#004efb,#004afb,#0047fb,#0044fb,#0041fb,#003efb,#003bfb,#0039fb,#0036fb,#0034fb,#0032fb,#0030fb,#002efb,#002dfb,#002bfb,#0029fb,#0028fb,#0026fb,#0025fb,#0024fb,#0023fb,#0022fb,#0021fa,#0020fa,#001ffa,#001efa,#001dfa,#001cfa,#001bfa,#001bfa,#001afa,#0019fa,#0019fa,#0018fa,#0017fa,#0017fa,#0016fa,#0016fa,#0015fa,#0015fa,#0014fa,#0014fa,#0014fa,#0013fa,#0013fa,#0012fa,#0012fa,#0012fa,#0012fa,#0011fa,#0011fa,#0011fa,#0010fa,#0010fa)"></i>
<i style="background:linear-gradient(90deg,#ffd100,#ffc400,#ffbe00,#ffbc00,#ffc000,#ffca00,#ffd900,#ffed00,#f5fa02,#def905,#c4f909,#a8f80e,#8af812,#6cf717,#4ef71c,#30f621,#12f525,#00f532,#00f44b,#00f463,#00f37a,#00f390,#00f2a5,#00f2b8,#00f1ca,#00f1db,#00f0eb,#00f0fa,#00e6ff,#00d9fe,#00ccfe,#00c0fe,#00b4fe,#00aafd,#00a0fd,#0097fd,#008ffd,#0087fd,#0080fd,#0079fc,#0072fc,#006cfc,#0067fc,#0062fc,#005dfc,#0058fc,#0054fc,#0050fc,#004cfb,#0049fb,#0045fb,#0042fb,#003ffb,#003dfb,#003afb,#0038fb,#0035fb,#0033fb,#0031fb,#002ffb,#002dfb,#002cfb,#002afb,#0029fb,#0027fb,#0026fb,#0025fb,#0023fb,#0022fb,#0021fb,#0020fa,#001ffa,#001efa,#001dfa,#001dfa,#001cfa,#001bfa,#001afa,#001afa,#0019fa,#0018fa,#0018fa,#0017fa,#0017fa,#0016fa,#0016fa,#0015fa,#0015fa,#0014fa,#0014fa,#0013fa,#0013fa,#0013fa,#0012fa,#0012fa,#0012fa,#0011fa,#0011fa,#0011fa,#0011fa,#0010fa,#0010fa)"></i>
<i style="background:linear-gradient(90deg,#ffce00,#ffc600,#ffc200,#ffc400,#ffcb00,#ffd700,#ffe800,#fbfa01,#e5f904,#cdf908,#b2f80c,#96f811,#78f715,#5af71a,#3cf61f,#1ff623,#02f528,#00f440,#00f459,#00f370,#00f386,#00f29b,#00f2af,#00f1c2,#00f1d3,#00f1e4,#00f0f3,#00edff,#00dfff,#00d2fe,#00c5fe,#00bafe,#00affe,#00a5fd,#009cfd,#0093fd,#008bfd,#0083fd,#007cfc,#0075fc,#006ffc,#006afc,#0064fc,#005ffc,#005afc,#0056fc,#0052fc,#004efb,#004afb,#0047fb,#0044fb,#0041fb,#003efb,#003bfb,#0039fb,#0036fb,#0034fb,#0032fb,#0030fb,#002efb,#002dfb,#002bfb,#0029fb,#0028fb,#0026fb,#0025fb,#0024fb,#0023fb,#0022fb,#0021fa,#0020fa,#001ffa,#001efa,#001dfa,#001cfa,#001bfa,#001bfa,#001afa,#0019fa,#0019fa,#0018fa,#0017fa,#0017fa,#0016fa,#0016fa,#0015fa,#0015fa,#0014fa,#0014fa,#0014fa,#0013fa,#0013fa,#0013fa,#0012fa,#0012fa,#0012fa,#0011fa,#0011fa,#0011fa,#0010fa,#0010fa,#0010fa)"></i>
<i style="background:linear-gradient(90deg,#ffd000,#ffca00,#ffc900,#ffcd00,#ffd600,#ffe500,#fff900,#ecfa03,#d5f907,#bbf90b,#a0f80f,#83f813,#66f718,#48f61d,#2bf621,#0ef526,#00f535,#00f44e,#00f466,#00f37c,#00f392,#00f2a6,#00f2ba,#00f1cc,#00f1dc,#00f0ec,#00f0fb,#00e6ff,#00d8fe,#00cbfe,#00bffe,#00b4fe,#00aafd,#00a0fd,#0097fd,#008ffd,#0087fd,#007ffd,#0079fc,#0072fc,#006cfc,#0067fc,#0062fc,#005dfc,#0058fc,#0054fc,#0050fc,#004cfb,#0049fb,#0045fb,#0042fb,#003ffb,#003dfb,#003afb,#0038fb,#0035fb,#0033fb,#0031fb,#002ffb,#002dfb,#002cfb,#002afb,#0029fb,#0027fb,#0026fb,#0025fb,#0023fb,#0022fb,#0021fb,#0020fa,#001ffa,#001efa,#001dfa,#001dfa,#001cfa,#001bfa,#001afa,#001afa,#0019fa,#0018fa,#0018fa,#0017fa,#0017fa,#0016fa,#0016fa,#0015fa,#0015fa,#0014fa,#0014fa,#0013fa,#0013fa,#0013fa,#0012fa,#0012fa,#0012fa,#0011fa,#0011fa,#0011fa,#0011fa,#0010fa,#0010fa,#0010fa)"></i>
<i style="background:linear-gradient(90deg,#ffd200,#ffcf00,#ffd100,#ffd800,#ffe400,#fff500,#f1fa02,#dcf905,#c4f909,#aaf80d,#8ef812,#71f716,#54f71b,#37f61f,#1af624,#00f52a,#00f443,#00f45b,#00f373,#00f389,#00f29d,#00f2b1,#00f1c3,#00f1d5,#00f1e5,#00f0f4,#00ecff,#00deff,#00d1fe,#00c5fe,#00b9fe,#00affe,#00a5fd,#009bfd,#0093fd,#008afd,#0083fd,#007cfc,#0075fc,#006ffc,#0069fc,#0064fc,#005ffc,#005afc,#0056fc,#0052fc,#004efb,#004afb,#0047fb,#0044fb,#0041fb,#003efb,#003bfb,#0039fb,#0036fb,#0034fb,#0032fb,#0030fb,#002efb,#002dfb,#002bfb,#0029fb,#0028fb,#0026fb,#0025fb,#0024fb,#0023fb,#0022fb,#0021fa,#0020fa,#001ffa,#001efa,#001dfa,#001cfa,#001bfa,#001bfa,#001afa,#0019fa,#0019fa,#0018fa,#0017fa,#0017fa,#0016fa,#0016fa,#0015fa,#0015fa,#0014fa,#0014fa,#0014fa,#0013fa,#0013fa,#0013fa,#0012fa,#0012fa,#0012fa,#0011fa,#0011fa,#0011fa,#0010fa,#0010fa,#0010fa,#0010fa)"></i>
<i style="background:linear-gradient(90deg,#ffd700,#ffd600,#ffda00,#ffe400,#fff200,#f5fa02,#e2f905,#ccf908,#b3f90c,#98f810,#7cf714,#60f719,#43f61e,#26f622,#09f527,#00f539,#00f451,#00f369,#00f37f,#00f294,#00f2a8,#00f2bb,#00f1cd,#00f1de,#00f0ed,#00f0fc,#00e5ff,#00d7fe,#00cafe,#00bffe,#00b4fe,#00a9fd,#00a0fd,#0097fd,#008efd,#0087fd,#007ffd,#0078fc,#0072fc,#006cfc,#0067fc,#0061fc,#005dfc,#0058fc,#0054fc,#0050fc,#004cfb,#0049fb,#0045fb,#0042fb,#003ffb,#003dfb,#003afb,#0038fb,#0035fb,#0033fb,#0031fb,#002ffb,#002dfb,#002cfb,#002afb,#0029fb,#0027fb,#0026fb,#0025fb,#0023fb,#0022fb,#0021fb,#0020fa,#001ffa,#001efa,#001dfa,#001dfa,#001cfa,#001bfa,#001afa,#001afa,#0019fa,#0018fa,#0018fa,#0017fa,#0017fa,#0016fa,#0016fa,#0015fa,#0015fa,#0014fa,#0014fa,#0013fa,#0013fa,#0013fa,#0012fa,#0012fa,#0012fa,#0011fa,#0011fa,#0011fa,#0011fa,#0010fa,#0010fa,#0010fa,#0010fa)"></i>
<i style="background:linear-gradient(90deg,#ffdd00,#ffdf00,#ffe600,#fff200,#f8fa01,#e7fa04,#d2f907,#bbf90b,#a1f80f,#87f813,#6bf717,#4ef71c,#31f620,#15f525,#00f52e,#00f447,#00f45f,#00f375,#00f38b,#00f29f,#00f2b3,#00f1c5,#00f1d6,#00f1e6,#00f0f5,#00ecff,#00ddff,#00d0fe,#00c4fe,#00b9fe,#00aefe,#00a4fd,#009bfd,#0092fd,#008afd,#0083fd,#007cfc,#0075fc,#006ffc,#0069fc,#0064fc,#005ffc,#005afc,#0056fc,#0052fc,#004efb,#004afb,#0047fb,#0044fb,#0041fb,#003efb,#003bfb,#0039fb,#0036fb,#0034fb,#0032fb,#0030fb,#002efb,#002dfb,#002bfb,#0029fb,#0028fb,#0026fb,#0025fb,#0024fb,#0023fb,#0022fb,#0021fa,#0020fa,#001ffa,#001efa,#001dfa,#001cfa,#001bfa,#001bfa,#001afa,#0019fa,#0019fa,#0018fa,#0017fa,#0017fa,#0016fa,#0016fa,#0015fa,#0015fa,#0014fa,#0014fa,#0014fa,#0013fa,#0013fa,#0013fa,#0012fa,#0012fa,#0012fa,#0011fa,#0011fa,#0011fa,#0011fa,#0010fa,#0010fa,#0010fa,#0010fa)"></i>
<i style="background:linear-gradient(90deg,#ffe400,#ffe900,#fff200,#fafa01,#eafa03,#d8f906,#c2f90a,#aaf80d,#90f811,#75f716,#59f71a,#3df61e,#20f623,#05f527,#00f53d,#00f454,#00f36b,#00f381,#00f296,#00f2aa,#00f2bd,#00f1ce,#00f1df,#00f0ee,#00f0fd,#00e4ff,#00d6fe,#00cafe,#00befe,#00b3fe,#00a9fd,#009ffd,#0096fd,#008efd,#0086fd,#007ffd,#0078fc,#0072fc,#006cfc,#0066fc,#0061fc,#005cfc,#0058fc,#0054fc,#0050fc,#004cfb,#0049fb,#0045fb,#0042fb,#003ffb,#003cfb,#003afb,#0038fb,#0035fb,#0033fb,#0031fb,#002ffb,#002dfb,#002cfb,#002afb,#0029fb,#0027fb,#0026fb,#0025fb,#0023fb,#0022fb,#0021fb,#0020fa,#001ffa,#001efa,#001dfa,#001dfa,#001cfa,#001bfa,#001afa,#001afa,#0019fa,#0018fa,#0018fa,#0017fa,#0017fa,#0016fa,#0016fa,#0015fa,#0015fa,#0014fa,#0014fa,#0013fa,#0013fa,#0013fa,#0012fa,#0012fa,#0012fa,#0011fa,#0011fa,#0011fa,#0011fa,#0010fa,#0010fa,#0010fa,#0010fa,#0010fa)"></i>
<i style="background:linear-gradient(90deg,#ffed00,#fff400,#fafa01,#edfa03,#dcf906,#c8f909,#b1f80c,#99f810,#7ef714,#63f718,#47f61d,#2bf621,#10f526,#00f532,#00f44b,#00f462,#00f378,#00f38d,#00f2a1,#00f2b5,#00f1c7,#00f1d7,#00f1e7,#00f0f6,#00ebff,#00ddff,#00d0fe,#00c3fe,#00b8fe,#00aefe,#00a4fd,#009bfd,#0092fd,#008afd,#0082fd,#007bfc,#0075fc,#006ffc,#0069fc,#0064fc,#005ffc,#005afc,#0056fc,#0052fc,#004efb,#004afb,#0047fb,#0044fb,#0041fb,#003efb,#003bfb,#0039fb,#0036fb,#0034fb,#0032fb,#0030fb,#002efb,#002dfb,#002bfb,#0029fb,#0028fb,#0026fb,#0025fb,#0024fb,#0023fb,#0022fb,#0021fa,#0020fa,#001ffa,#001efa,#001dfa,#001cfa,#001bfa,#001bfa,#001afa,#0019fa,#0019fa,#0018fa,#0017fa,#0017fa,#0016fa,#0016fa,#0015fa,#0015fa,#0015fa,#0014fa,#0014fa,#0013fa,#0013fa,#0013fa,#0012fa,#0012fa,#0012fa,#0011fa,#0011fa,#0011fa,#0011fa,#0010fa,#0010fa,#0010fa,#0010fa,#000ffa)"></i>
<i style="background:linear-gradient(90deg,#fff800,#f9fa01,#eefa03,#dff905,#ccf908,#b8f90b,#a0f80f,#87f813,#6df717,#52f71b,#36f61f,#1bf624,#00f528,#00f441,#00f458,#00f36f,#00f384,#00f299,#00f2ac,#00f1bf,#00f1d0,#00f1e0,#00f0f0,#00f0fe,#00e3ff,#00d6fe,#00c9fe,#00bdfe,#00b2fe,#00a8fd,#009ffd,#0096fd,#008efd,#0086fd,#007ffd,#0078fc,#0072fc,#006cfc,#0066fc,#0061fc,#005cfc,#0058fc,#0054fc,#0050fc,#004cfb,#0048fb,#0045fb,#0042fb,#003ffb,#003cfb,#003afb,#0038fb,#0035fb,#0033fb,#0031fb,#002ffb,#002dfb,#002cfb,#002afb,#0029fb,#0027fb,#0026fb,#0025fb,#0023fb,#0022fb,#0021fb,#0020fa,#001ffa,#001efa,#001dfa,#001dfa,#001cfa,#001bfa,#001afa,#001afa,#0019fa,#0018fa,#0018fa,#0017fa,#0017fa,#0016fa,#0016fa,#0015fa,#0015fa,#0014fa,#0014fa,#0014fa,#0013fa,#0013fa,#0012fa,#0012fa,#0012fa,#0011fa,#0011fa,#0011fa,#0011fa,#0010fa,#0010fa,#0010fa,#0010fa,#0010fa,#000ffa)"></i>
<i style="background:linear-gradient(90deg,#f7fa01,#edfa03,#e0f905,#d0f907,#bdf90a,#a7f80e,#8ff812,#76f716,#5bf71a,#40f61e,#25f622,#0af526,#00f537,#00f44e,#00f465,#00f37b,#00f390,#00f2a4,#00f2b7,#00f1c8,#00f1d9,#00f1e9,#00f0f7,#00e9ff,#00dcff,#00cffe,#00c3fe,#00b8fe,#00adfe,#00a3fd,#009afd,#0092fd,#008afd,#0082fd,#007bfc,#0075fc,#006ffc,#0069fc,#0064fc,#005ffc,#005afc,#0056fc,#0052fc,#004efb,#004afb,#0047fb,#0044fb,#0041fb,#003efb,#003bfb,#0039fb,#0036fb,#0034fb,#0032fb,#0030fb,#002efb,#002dfb,#002bfb,#0029fb,#0028fb,#0026fb,#0025fb,#0024fb,#0023fb,#0022fb,#0021fa,#0020fa,#001ffa,#001efa,#001dfa,#001cfa,#001bfa,#001bfa,#001afa,#0019fa,#0019fa,#0018fa,#0017fa,#0017fa,#0016fa,#0016fa,#0015fa,#0015fa,#0015fa,#0014fa,#0014fa,#0013fa,#0013fa,#0013fa,#0012fa,#0012fa,#0012fa,#0011fa,#0011fa,#0011fa,#0011fa,#0010fa,#0010fa,#0010fa,#0010fa,#000ffa,#000ffa)"></i>
<i style="background:linear-gradient(90deg,#ecfa03,#e1f905,#d2f907,#c1f90a,#adf80d,#96f810,#7ef714,#64f718,#4af61c,#2ff621,#15f525,#00f52d,#00f445,#00f45c,#00f372,#00f387,#00f29b,#00f2ae,#00f1c1,#00f1d2,#00f1e2,#00f0f1,#00f0ff,#00e2ff,#00d5fe,#00c8fe,#00bdfe,#00b2fe,#00a8fd,#009efd,#0096fd,#008dfd,#0086fd,#007ffd,#0078fc,#0072fc,#006cfc,#0066fc,#0061fc,#005cfc,#0058fc,#0054fc,#0050fc,#004cfb,#0048fb,#0045fb,#0042fb,#003ffb,#003cfb,#003afb,#0037fb,#0035fb,#0033fb,#0031fb,#002ffb,#002dfb,#002cfb,#002afb,#0029fb,#0027fb,#0026fb,#0025fb,#0023fb,#0022fb,#0021fb,#0020fa,#001ffa,#001efa,#001dfa,#001dfa,#001cfa,#001bfa,#001afa,#001afa,#0019fa,#0018fa,#0018fa,#0017fa,#0017fa,#0016fa,#0016fa,#0015fa,#0015fa,#0014fa,#0014fa,#0014fa,#0013fa,#0013fa,#0012fa,#0012fa,#0012fa,#0012fa,#0011fa,#0011fa,#0011fa,#0010fa,#0010fa,#0010fa,#0010fa,#0010fa,#000ffa,#000ffa)"></i>
<i style="background:linear-gradient(90deg,#e0f905,#d3f907,#c4f909,#b1f80c,#9cf80f,#85f813,#6df717,#53f71b,#39f61f,#1ff623,#04f527,#00f53c,#00f453,#00f369,#00f37e,#00f393,#00f2a6,#00f2b9,#00f1ca,#00f1db,#00f0ea,#00f0f9,#00e8ff,#00dbff,#00cefe,#00c2fe,#00b7fe,#00acfe,#00a3fd,#009afd,#0091fd,#0089fd,#0082fd,#007bfc,#0075fc,#006efc,#0069fc,#0064fc,#005ffc,#005afc,#0056fc,#0052fc,#004efb,#004afb,#0047fb,#0044fb,#0041fb,#003efb,#003bfb,#0039fb,#0036fb,#0034fb,#0032fb,#0030fb,#002efb,#002dfb,#002bfb,#0029fb,#0028fb,#0026fb,#0025fb,#0024fb,#0023fb,#0022fb,#0021fa,#0020fa,#001ffa,#001efa,#001dfa,#001cfa,#001bfa,#001bfa,#001afa,#0019fa,#0019fa,#0018fa,#0018fa,#0017fa,#0016fa,#0016fa,#0015fa,#0015fa,#0015fa,#0014fa,#0014fa,#0013fa,#0013fa,#0013fa,#0012fa,#0012fa,#0012fa,#0011fa,#0011fa,#0011fa,#0011fa,#0010fa,#0010fa,#0010fa,#0010fa,#000ffa,#000ffa,#000ffa)"></i>
<i style="background:linear-gradient(90deg,#d3f907,#c5f909,#b5f90c,#a1f80f,#8cf812,#74f716,#5cf71a,#42f61e,#28f622,#0ef526,#00f532,#00f449,#00f460,#00f375,#00f38a,#00f29e,#00f2b1,#00f1c3,#00f1d3,#00f1e3,#00f0f2,#00efff,#00e1ff,#00d4fe,#00c7fe,#00bcfe,#00b1fe,#00a7fd,#009efd,#0095fd,#008dfd,#0085fd,#007efd,#0078fc,#0071fc,#006cfc,#0066fc,#0061fc,#005cfc,#0058fc,#0053fc,#0050fc,#004cfb,#0048fb,#0045fb,#0042fb,#003ffb,#003cfb,#003afb,#0037fb,#0035fb,#0033fb,#0031fb,#002ffb,#002dfb,#002cfb,#002afb,#0029fb,#0027fb,#0026fb,#0025fb,#0023fb,#0022fb,#0021fb,#0020fa,#001ffa,#001efa,#001dfa,#001dfa,#001cfa,#001bfa,#001afa,#001afa,#0019fa,#0018fa,#0018fa,#0017fa,#0017fa,#0016fa,#0016fa,#0015fa,#0015fa,#0014fa,#0014fa,#0014fa,#0013fa,#0013fa,#0012fa,#0012fa,#0012fa,#0012fa,#0011fa,#0011fa,#0011fa,#0010fa,#0010fa,#0010fa,#0010fa,#0010fa,#000ffa,#000ffa,#000ffa)"></i>
<i style="background:linear-gradient(90deg,#c6f909,#b7f90b,#a5f80e,#91f811,#7bf715,#63f718,#4bf61c,#31f620,#18f524,#00f52a,#00f440,#00f457,#00f36d,#00f382,#00f296,#00f2a9,#00f2bb,#00f1cc,#00f1dc,#00f0ec,#00f0fa,#00e7ff,#00daff,#00cdfe,#00c1fe,#00b6fe,#00acfe,#00a2fd,#0099fd,#0091fd,#0089fd,#0082fd,#007bfc,#0074fc,#006efc,#0069fc,#0063fc,#005efc,#005afc,#0055fc,#0051fc,#004efb,#004afb,#0047fb,#0044fb,#0041fb,#003efb,#003bfb,#0039fb,#0036fb,#0034fb,#0032fb,#0030fb,#002efb,#002dfb,#002bfb,#0029fb,#0028fb,#0026fb,#0025fb,#0024fb,#0023fb,#0022fb,#0021fa,#0020fa,#001ffa,#001efa,#001dfa,#001cfa,#001bfa,#001bfa,#001afa,#0019fa,#0019fa,#0018fa,#0018fa,#0017fa,#0016fa,#0016fa,#0015fa,#0015fa,#0015fa,#0014fa,#0014fa,#0013fa,#0013fa,#0013fa,#0012fa,#0012fa,#0012fa,#0011fa,#0011fa,#0011fa,#0011fa,#0010fa,#0010fa,#0010fa,#0010fa,#000ffa,#000ffa,#000ffa,#000ffa)"></i>
<i style="background:linear-gradient(90deg,#b8f90b,#a8f80e,#95f811,#80f814,#6af717,#52f71b,#3af61f,#21f623,#08f527,#00f538,#00f44e,#00f464,#00f379,#00f38d,#00f2a1,#00f2b3,#00f1c5,#00f1d5,#00f1e5,#00f0f3,#00eeff,#00e0ff,#00d3fe,#00c7fe,#00bbfe,#00b1fe,#00a7fd,#009dfd,#0095fd,#008dfd,#0085fd,#007efd,#0077fc,#0071fc,#006bfc,#0066fc,#0061fc,#005cfc,#0058fc,#0053fc,#004ffc,#004cfb,#0048fb,#0045fb,#0042fb,#003ffb,#003cfb,#003afb,#0037fb,#0035fb,#0033fb,#0031fb,#002ffb,#002dfb,#002cfb,#002afb,#0029fb,#0027fb,#0026fb,#0025fb,#0023fb,#0022fb,#0021fb,#0020fa,#001ffa,#001efa,#001dfa,#001dfa,#001cfa,#001bfa,#001afa,#001afa,#0019fa,#0018fa,#0018fa,#0017fa,#0017fa,#0016fa,#0016fa,#0015fa,#0015fa,#0014fa,#0014fa,#0014fa,#0013fa,#0013fa,#0012fa,#0012fa,#0012fa,#0012fa,#0011fa,#0011fa,#0011fa,#0010fa,#0010fa,#0010fa,#0010fa,#0010fa,#000ffa,#000ffa,#000ffa,#000ffa)"></i>
<i style="background:linear-gradient(90deg,#a9f80d,#98f810,#85f813,#70f716,#59f71a,#42f61e,#29f622,#11f525,#00f52f,#00f446,#00f45b,#00f371,#00f385,#00f299,#00f2ab,#00f2bd,#00f1ce,#00f1de,#00f0ed,#00f0fb,#00e6ff,#00d9fe,#00ccfe,#00c0fe,#00b5fe,#00abfe,#00a2fd,#0099fd,#0090fd,#0089fd,#0081fd,#007afc,#0074fc,#006efc,#0068fc,#0063fc,#005efc,#005afc,#0055fc,#0051fc,#004efb,#004afb,#0047fb,#0043fb,#0040fb,#003efb,#003bfb,#0039fb,#0036fb,#0034fb,#0032fb,#0030fb,#002efb,#002dfb,#002bfb,#0029fb,#0028fb,#0026fb,#0025fb,#0024fb,#0023fb,#0022fb,#0021fa,#0020fa,#001ffa,#001efa,#001dfa,#001cfa,#001bfa,#001bfa,#001afa,#0019fa,#0019fa,#0018fa,#0018fa,#0017fa,#0016fa,#0016fa,#0015fa,#0015fa,#0015fa,#0014fa,#0014fa,#0013fa,#0013fa,#0013fa,#0012fa,#0012fa,#0012fa,#0011fa,#0011fa,#0011fa,#0011fa,#0010fa,#0010fa,#0010fa,#0010fa,#000ffa,#000ffa,#000ffa,#000ffa,#000ffa)"></i>
<i style="background:linear-gradient(90deg,#9af810,#88f813,#75f716,#5ff719,#49f61d,#31f620,#19f524,#01f528,#00f53d,#00f453,#00f468,#00f37d,#00f391,#00f2a4,#00f2b6,#00f1c7,#00f1d7,#00f1e7,#00f0f5,#00ecff,#00deff,#00d2fe,#00c6fe,#00bafe,#00b0fe,#00a6fd,#009dfd,#0094fd,#008cfd,#0085fd,#007efd,#0077fc,#0071fc,#006bfc,#0066fc,#0061fc,#005cfc,#0057fc,#0053fc,#004ffc,#004cfb,#0048fb,#0045fb,#0042fb,#003ffb,#003cfb,#003afb,#0037fb,#0035fb,#0033fb,#0031fb,#002ffb,#002dfb,#002cfb,#002afb,#0029fb,#0027fb,#0026fb,#0025fb,#0023fb,#0022fb,#0021fb,#0020fa,#001ffa,#001efa,#001dfa,#001dfa,#001cfa,#001bfa,#001afa,#001afa,#0019fa,#0018fa,#0018fa,#0017fa,#0017fa,#0016fa,#0016fa,#0015fa,#0015fa,#0014fa,#0014fa,#0014fa,#0013fa,#0013fa,#0013fa,#0012fa,#0012fa,#0012fa,#0011fa,#0011fa,#0011fa,#0010fa,#0010fa,#0010fa,#0010fa,#0010fa,#000ffa,#000ffa,#000ffa,#000ffa,#000ffa)"></i>
<i style="background:linear-gradient(90deg,#8bf812,#78f715,#64f718,#4ff71c,#38f61f,#21f623,#09f527,#00f536,#00f44b,#00f460,#00f375,#00f389,#00f29c,#00f2ae,#00f1c0,#00f1d0,#00f1e0,#00f0ef,#00f0fd,#00e5ff,#00d7fe,#00cbfe,#00c0fe,#00b5fe,#00abfd,#00a1fd,#0098fd,#0090fd,#0088fd,#0081fd,#007afc,#0074fc,#006efc,#0068fc,#0063fc,#005efc,#005afc,#0055fc,#0051fc,#004dfb,#004afb,#0047fb,#0043fb,#0040fb,#003efb,#003bfb,#0039fb,#0036fb,#0034fb,#0032fb,#0030fb,#002efb,#002dfb,#002bfb,#0029fb,#0028fb,#0026fb,#0025fb,#0024fb,#0023fb,#0022fb,#0021fa,#0020fa,#001ffa,#001efa,#001dfa,#001cfa,#001bfa,#001bfa,#001afa,#0019fa,#0019fa,#0018fa,#0018fa,#0017fa,#0016fa,#0016fa,#0016fa,#0015fa,#0015fa,#0014fa,#0014fa,#0013fa,#0013fa,#0013fa,#0012fa,#0012fa,#0012fa,#0011fa,#0011fa,#0011fa,#0011fa,#0010fa,#0010fa,#0010fa,#0010fa,#0010fa,#000ffa,#000ffa,#000ffa,#000ffa,#000ffa)"></i>
<i style="background:linear-gradient(90deg,#7bf715,#68f718,#54f71b,#3ef61e,#28f622,#11f525,#00f52e,#00f443,#00f458,#00f36d,#00f381,#00f294,#00f2a7,#00f2b8,#00f1c9,#00f1d9,#00f1e8,#00f0f7,#00ebff,#00ddff,#00d1fe,#00c5fe,#00bafe,#00affe,#00a5fd,#009cfd,#0094fd,#008cfd,#0084fd,#007dfd,#0077fc,#0071fc,#006bfc,#0066fc,#0060fc,#005cfc,#0057fc,#0053fc,#004ffc,#004cfb,#0048fb,#0045fb,#0042fb,#003ffb,#003cfb,#003afb,#0037fb,#0035fb,#0033fb,#0031fb,#002ffb,#002dfb,#002cfb,#002afb,#0029fb,#0027fb,#0026fb,#0025fb,#0023fb,#0022fb,#0021fb,#0020fa,#001ffa,#001efa,#001dfa,#001dfa,#001cfa,#001bfa,#001afa,#001afa,#0019fa,#0018fa,#0018fa,#0017fa,#0017fa,#0016fa,#0016fa,#0015fa,#0015fa,#0014fa,#0014fa,#0014fa,#0013fa,#0013fa,#0013fa,#0012fa,#0012fa,#0012fa,#0011fa,#0011fa,#0011fa,#0011fa,#0010fa,#0010fa,#0010fa,#0010fa,#000ffa,#000ffa,#000ffa,#000ffa,#000ffa,#000ffa)"></i>
<i style="background:linear-gradient(90deg,#6bf717,#58f71a,#44f61d,#2ef621,#18f524,#01f528,#00f53c,#00f451,#00f465,#00f379,#00f38d,#00f29f,#00f2b1,#00f1c2,#00f1d3,#00f1e2,#00f0f0,#00f0fe,#00e3ff,#00d6fe,#00cafe,#00bffe,#00b4fe,#00aafd,#00a0fd,#0098fd,#008ffd,#0088fd,#0081fd,#007afc,#0074fc,#006efc,#0068fc,#0063fc,#005efc,#0059fc,#0055fc,#0051fc,#004dfb,#004afb,#0046fb,#0043fb,#0040fb,#003efb,#003bfb,#0039fb,#0036fb,#0034fb,#0032fb,#0030fb,#002efb,#002dfb,#002bfb,#0029fb,#0028fb,#0026fb,#0025fb,#0024fb,#0023fb,#0022fb,#0021fa,#0020fa,#001ffa,#001efa,#001dfa,#001cfa,#001bfa,#001bfa,#001afa,#0019fa,#0019fa,#0018fa,#0018fa,#0017fa,#0016fa,#0016fa,#0016fa,#0015fa,#0015fa,#0014fa,#0014fa,#0013fa,#0013fa,#0013fa,#0012fa,#0012fa,#0012fa,#0011fa,#0011fa,#0011fa,#0011fa,#0010fa,#0010fa,#0010fa,#0010fa,#0010fa,#000ffa,#000ffa,#000ffa,#000ffa,#000ffa,#000efa)"></i>
<i style="background:linear-gradient(90deg,#5bf71a,#48f61d,#34f620,#1ef623,#08f527,#00f535,#00f44a,#00f45e,#00f372,#00f385,#00f298,#00f2aa,#00f2bb,#00f1cc,#00f1db,#00f0ea,#00f0f8,#00e9ff,#00dcff,#00cffe,#00c4fe,#00b9fe,#00aefe,#00a5fd,#009cfd,#0093fd,#008bfd,#0084fd,#007dfc,#0076fc,#0070fc,#006bfc,#0065fc,#0060fc,#005cfc,#0057fc,#0053fc,#004ffc,#004bfb,#0048fb,#0045fb,#0042fb,#003ffb,#003cfb,#003afb,#0037fb,#0035fb,#0033fb,#0031fb,#002ffb,#002dfb,#002cfb,#002afb,#0029fb,#0027fb,#0026fb,#0025fb,#0023fb,#0022fb,#0021fb,#0020fa,#001ffa,#001efa,#001dfa,#001dfa,#001cfa,#001bfa,#001afa,#001afa,#0019fa,#0018fa,#0018fa,#0017fa,#0017fa,#0016fa,#0016fa,#0015fa,#0015fa,#0014fa,#0014fa,#0014fa,#0013fa,#0013fa,#0013fa,#0012fa,#0012fa,#0012fa,#0011fa,#0011fa,#0011fa,#0011fa,#0010fa,#0010fa,#0010fa,#0010fa,#000ffa,#000ffa,#000ffa,#000ffa,#000ffa,#000ffa,#000efa)"></i>
<i style="background:linear-gradient(90deg,#4bf61c,#38f61f,#24f622,#0ef526,#00f52f,#00f443,#00f457,#00f36b,#00f37e,#00f391,#00f2a3,#00f2b4,#00f1c5,#00f1d5,#00f1e4,#00f0f2,#00efff,#00e2ff,#00d5fe,#00c9fe,#00befe,#00b3fe,#00a9fd,#00a0fd,#0097fd,#008ffd,#0087fd,#0080fd,#0079fc,#0073fc,#006dfc,#0068fc,#0063fc,#005efc,#0059fc,#0055fc,#0051fc,#004dfb,#004afb,#0046fb,#0043fb,#0040fb,#003efb,#003bfb,#0039fb,#0036fb,#0034fb,#0032fb,#0030fb,#002efb,#002cfb,#002bfb,#0029fb,#0028fb,#0026fb,#0025fb,#0024fb,#0023fb,#0022fb,#0021fa,#0020fa,#001ffa,#001efa,#001dfa,#001cfa,#001bfa,#001bfa,#001afa,#0019fa,#0019fa,#0018fa,#0018fa,#0017fa,#0016fa,#0016fa,#0016fa,#0015fa,#0015fa,#0014fa,#0014fa,#0013fa,#0013fa,#0013fa,#0012fa,#0012fa,#0012fa,#0011fa,#0011fa,#0011fa,#0011fa,#0010fa,#0010fa,#0010fa,#0010fa,#0010fa,#000ffa,#000ffa,#000ffa,#000ffa,#000ffa,#000efa,#000efa)"></i>
<i style="background:linear-gradient(90deg,#3cf61f,#28f622,#14f525,#00f529,#00f53d,#00f450,#00f464,#00f377,#00f38a,#00f29c,#00f2ae,#00f2be,#00f1ce,#00f1de,#00f0ec,#00f0fa,#00e7ff,#00daff,#00cefe,#00c3fe,#00b8fe,#00aefe,#00a4fd,#009bfd,#0093fd,#008bfd,#0083fd,#007dfc,#0076fc,#0070fc,#006afc,#0065fc,#0060fc,#005bfc,#0057fc,#0053fc,#004ffc,#004bfb,#0048fb,#0045fb,#0042fb,#003ffb,#003cfb,#003afb,#0037fb,#0035fb,#0033fb,#0031fb,#002ffb,#002dfb,#002cfb,#002afb,#0029fb,#0027fb,#0026fb,#0025fb,#0023fb,#0022fb,#0021fb,#0020fa,#001ffa,#001efa,#001dfa,#001dfa,#001cfa,#001bfa,#001afa,#001afa,#0019fa,#0018fa,#0018fa,#0017fa,#0017fa,#0016fa,#0016fa,#0015fa,#0015fa,#0014fa,#0014fa,#0014fa,#0013fa,#0013fa,#0013fa,#0012fa,#0012fa,#0012fa,#0011fa,#0011fa,#0011fa,#0011fa,#0010fa,#0010fa,#0010fa,#0010fa,#000ffa,#000ffa,#000ffa,#000ffa,#000ffa,#000ffa,#000efa,#000efa)"></i>
<i style="background:linear-gradient(90deg,#2cf621,#19f524,#04f527,#00f537,#00f44a,#00f45d,#00f370,#00f383,#00f295,#00f2a7,#00f2b8,#00f1c8,#00f1d7,#00f1e6,#00f0f4,#00edff,#00e0ff,#00d3fe,#00c8fe,#00bdfe,#00b2fe,#00a8fd,#009ffd,#0096fd,#008efd,#0087fd,#0080fd,#0079fc,#0073fc,#006dfc,#0068fc,#0062fc,#005efc,#0059fc,#0055fc,#0051fc,#004dfb,#004afb,#0046fb,#0043fb,#0040fb,#003efb,#003bfb,#0038fb,#0036fb,#0034fb,#0032fb,#0030fb,#002efb,#002cfb,#002bfb,#0029fb,#0028fb,#0026fb,#0025fb,#0024fb,#0023fb,#0022fb,#0021fa,#0020fa,#001ffa,#001efa,#001dfa,#001cfa,#001bfa,#001bfa,#001afa,#0019fa,#0019fa,#0018fa,#0018fa,#0017fa,#0016fa,#0016fa,#0016fa,#0015fa,#0015fa,#0014fa,#0014fa,#0013fa,#0013fa,#0013fa,#0012fa,#0012fa,#0012fa,#0012fa,#0011fa,#0011fa,#0011fa,#0010fa,#0010fa,#0010fa,#0010fa,#0010fa,#000ffa,#000ffa,#000ffa,#000ffa,#000ffa,#000efa,#000efa,#000efa)"></i>
<i style="background:linear-gradient(90deg,#1cf624,#09f527,#00f532,#00f445,#00f457,#00f36a,#00f37c,#00f38f,#00f2a0,#00f2b1,#00f1c2,#00f1d1,#00f1e0,#00f0ee,#00f0fc,#00e6ff,#00d9fe,#00cdfe,#00c1fe,#00b7fe,#00adfe,#00a3fd,#009afd,#0092fd,#008afd,#0083fd,#007cfc,#0076fc,#0070fc,#006afc,#0065fc,#0060fc,#005bfc,#0057fc,#0053fc,#004ffb,#004bfb,#0048fb,#0045fb,#0042fb,#003ffb,#003cfb,#003afb,#0037fb,#0035fb,#0033fb,#0031fb,#002ffb,#002dfb,#002cfb,#002afb,#0029fb,#0027fb,#0026fb,#0025fb,#0023fb,#0022fb,#0021fb,#0020fa,#001ffa,#001efa,#001dfa,#001dfa,#001cfa,#001bfa,#001afa,#001afa,#0019fa,#0018fa,#0018fa,#0017fa,#0017fa,#0016fa,#0016fa,#0015fa,#0015fa,#0014fa,#0014fa,#0014fa,#0013fa,#0013fa,#0013fa,#0012fa,#0012fa,#0012fa,#0011fa,#0011fa,#0011fa,#0011fa,#0010fa,#0010fa,#0010fa,#0010fa,#000ffa,#000ffa,#000ffa,#000ffa,#000ffa,#000ffa,#000efa,#000efa,#000efa)"></i>
<i style="background:linear-gradient(90deg,#0df526,#00f52e,#00f43f,#00f452,#00f464,#00f376,#00f388,#00f29a,#00f2ab,#00f2bb,#00f1cb,#00f1da,#00f1e9,#00f0f6,#00ebff,#00deff,#00d2fe,#00c6fe,#00bbfe,#00b1fe,#00a7fd,#009efd,#0096fd,#008efd,#0086fd,#007ffd,#0079fc,#0073fc,#006dfc,#0067fc,#0062fc,#005dfc,#0059fc,#0055fc,#0051fc,#004dfb,#004afb,#0046fb,#0043fb,#0040fb,#003dfb,#003bfb,#0038fb,#0036fb,#0034fb,#0032fb,#0030fb,#002efb,#002cfb,#002bfb,#0029fb,#0028fb,#0026fb,#0025fb,#0024fb,#0023fb,#0022fb,#0021fa,#0020fa,#001ffa,#001efa,#001dfa,#001cfa,#001bfa,#001bfa,#001afa,#0019fa,#0019fa,#0018fa,#0018fa,#0017fa,#0016fa,#0016fa,#0016fa,#0015fa,#0015fa,#0014fa,#0014fa,#0013fa,#0013fa,#0013fa,#0012fa,#0012fa,#0012fa,#0012fa,#0011fa,#0011fa,#0011fa,#0010fa,#0010fa,#0010fa,#0010fa,#0010fa,#000ffa,#000ffa,#000ffa,#000ffa,#000ffa,#000efa,#000efa,#000efa,#000efa)"></i>
<i style="background:linear-gradient(90deg,#00f52a,#00f53b,#00f44d,#00f45f,#00f370,#00f382,#00f294,#00f2a5,#00f2b5,#00f1c5,#00f1d4,#00f1e3,#00f0f1,#00f0fe,#00e4ff,#00d7fe,#00cbfe,#00c0fe,#00b6fe,#00acfe,#00a2fd,#009afd,#0091fd,#008afd,#0083fd,#007cfc,#0075fc,#006ffc,#006afc,#0065fc,#0060fc,#005bfc,#0057fc,#0053fc,#004ffb,#004bfb,#0048fb,#0045fb,#0042fb,#003ffb,#003cfb,#003afb,#0037fb,#0035fb,#0033fb,#0031fb,#002ffb,#002dfb,#002cfb,#002afb,#0029fb,#0027fb,#0026fb,#0025fb,#0023fb,#0022fb,#0021fb,#0020fa,#001ffa,#001efa,#001dfa,#001dfa,#001cfa,#001bfa,#001afa,#001afa,#0019fa,#0018fa,#0018fa,#0017fa,#0017fa,#0016fa,#0016fa,#0015fa,#0015fa,#0014fa,#0014fa,#0014fa,#0013fa,#0013fa,#0013fa,#0012fa,#0012fa,#0012fa,#0011fa,#0011fa,#0011fa,#0011fa,#0010fa,#0010fa,#0010fa,#0010fa,#000ffa,#000ffa,#000ffa,#000ffa,#000ffa,#000ffa,#000efa,#000efa,#000efa,#000efa)"></i>
<i style="background:linear-gradient(90deg,#00f537,#00f448,#00f45a,#00f36b,#00f37c,#00f38e,#00f29f,#00f2af,#00f1bf,#00f1ce,#00f1dd,#00f0eb,#00f0f8,#00e9ff,#00ddff,#00d0fe,#00c5fe,#00bafe,#00b0fe,#00a7fd,#009efd,#0095fd,#008dfd,#0086fd,#007ffd,#0078fc,#0072fc,#006cfc,#0067fc,#0062fc,#005dfc,#0059fc,#0055fc,#0051fc,#004dfb,#0049fb,#0046fb,#0043fb,#0040fb,#003dfb,#003bfb,#0038fb,#0036fb,#0034fb,#0032fb,#0030fb,#002efb,#002cfb,#002bfb,#0029fb,#0028fb,#0026fb,#0025fb,#0024fb,#0023fb,#0022fb,#0021fa,#0020fa,#001ffa,#001efa,#001dfa,#001cfa,#001bfa,#001bfa,#001afa,#0019fa,#0019fa,#0018fa,#0018fa,#0017fa,#0016fa,#0016fa,#0016fa,#0015fa,#0015fa,#0014fa,#0014fa,#0013fa,#0013fa,#0013fa,#0012fa,#0012fa,#0012fa,#0012fa,#0011fa,#0011fa,#0011fa,#0010fa,#0010fa,#0010fa,#0010fa,#0010fa,#000ffa,#000ffa,#000ffa,#000ffa,#000ffa,#000ffa,#000efa,#000efa,#000efa,#000efa)"></i>
<i style="background:linear-gradient(90deg,#00f445,#00f455,#00f466,#00f377,#00f388,#00f299,#00f2a9,#00f2b9,#00f1c9,#00f1d7,#00f1e6,#00f0f3,#00efff,#00e2ff,#00d6fe,#00cafe,#00bffe,#00b5fe,#00abfd,#00a2fd,#0099fd,#0091fd,#0089fd,#0082fd,#007bfc,#0075fc,#006ffc,#006afc,#0064fc,#005ffc,#005bfc,#0057fc,#0052fc,#004ffb,#004bfb,#0048fb,#0045fb,#0042fb,#003ffb,#003cfb,#003afb,#0037fb,#0035fb,#0033fb,#0031fb,#002ffb,#002dfb,#002cfb,#002afb,#0029fb,#0027fb,#0026fb,#0025fb,#0023fb,#0022fb,#0021fb,#0020fa,#001ffa,#001efa,#001dfa,#001dfa,#001cfa,#001bfa,#001afa,#001afa,#0019fa,#0018fa,#0018fa,#0017fa,#0017fa,#0016fa,#0016fa,#0015fa,#0015fa,#0014fa,#0014fa,#0014fa,#0013fa,#0013fa,#0013fa,#0012fa,#0012fa,#0012fa,#0011fa,#0011fa,#0011fa,#0011fa,#0010fa,#0010fa,#0010fa,#0010fa,#000ffa,#000ffa,#000ffa,#000ffa,#000ffa,#000ffa,#000efa,#000efa,#000efa,#000efa,#000efa)"></i>
<i style="background:linear-gradient(90deg,#00f452,#00f462,#00f372,#00f383,#00f393,#00f2a4,#00f2b4,#00f1c3,#00f1d2,#00f1e0,#00f0ee,#00f0fb,#00e7ff,#00dbff,#00cffe,#00c4fe,#00b9fe,#00affe,#00a6fd,#009dfd,#0094fd,#008dfd,#0085fd,#007efd,#0078fc,#0072fc,#006cfc,#0067fc,#0062fc,#005dfc,#0059fc,#0054fc,#0050fc,#004dfb,#0049fb,#0046fb,#0043fb,#0040fb,#003dfb,#003bfb,#0038fb,#0036fb,#0034fb,#0032fb,#0030fb,#002efb,#002cfb,#002bfb,#0029fb,#0028fb,#0026fb,#0025fb,#0024fb,#0023fb,#0022fb,#0021fa,#0020fa,#001ffa,#001efa,#001dfa,#001cfa,#001bfa,#001bfa,#001afa,#0019fa,#0019fa,#0018fa,#0018fa,#0017fa,#0016fa,#0016fa,#0016fa,#0015fa,#0015fa,#0014fa,#0014fa,#0013fa,#0013fa,#0013fa,#0012fa,#0012fa,#0012fa,#0012fa,#0011fa,#0011fa,#0011fa,#0010fa,#0010fa,#0010fa,#0010fa,#0010fa,#000ffa,#000ffa,#000ffa,#000ffa,#000ffa,#000ffa,#000efa,#000efa,#000efa,#000efa,#000efa)"></i>
<i style="background:linear-gradient(90deg,#00f45e,#00f36e,#00f37e,#00f38e,#00f29e,#00f2ae,#00f2bd,#00f1cc,#00f1db,#00f1e8,#00f0f6,#00edff,#00e0ff,#00d4fe,#00c8fe,#00befe,#00b3fe,#00aafd,#00a1fd,#0098fd,#0090fd,#0089fd,#0081fd,#007bfc,#0075fc,#006ffc,#0069fc,#0064fc,#005ffc,#005bfc,#0056fc,#0052fc,#004efb,#004bfb,#0048fb,#0044fb,#0041fb,#003ffb,#003cfb,#003afb,#0037fb,#0035fb,#0033fb,#0031fb,#002ffb,#002dfb,#002cfb,#002afb,#0029fb,#0027fb,#0026fb,#0025fb,#0023fb,#0022fb,#0021fb,#0020fa,#001ffa,#001efa,#001dfa,#001dfa,#001cfa,#001bfa,#001afa,#001afa,#0019fa,#0018fa,#0018fa,#0017fa,#0017fa,#0016fa,#0016fa,#0015fa,#0015fa,#0014fa,#0014fa,#0014fa,#0013fa,#0013fa,#0013fa,#0012fa,#0012fa,#0012fa,#0011fa,#0011fa,#0011fa,#0011fa,#0010fa,#0010fa,#0010fa,#0010fa,#0010fa,#000ffa,#000ffa,#000ffa,#000ffa,#000ffa,#000efa,#000efa,#000efa,#000efa,#000efa,#000efa)"></i>
<i style="background:linear-gradient(90deg,#00f36b,#00f37a,#00f38a,#00f29a,#00f2a9,#00f2b8,#00f1c7,#00f1d5,#00f1e3,#00f0f0,#00f0fd,#00e5ff,#00d9fe,#00cdfe,#00c2fe,#00b8fe,#00aefe,#00a5fd,#009cfd,#0094fd,#008cfd,#0085fd,#007efd,#0077fc,#0071fc,#006cfc,#0066fc,#0061fc,#005dfc,#0058fc,#0054fc,#0050fc,#004dfb,#0049fb,#0046fb,#0043fb,#0040fb,#003dfb,#003bfb,#0038fb,#0036fb,#0034fb,#0032fb,#0030fb,#002efb,#002cfb,#002bfb,#0029fb,#0028fb,#0026fb,#0025fb,#0024fb,#0023fb,#0022fb,#0021fa,#0020fa,#001ffa,#001efa,#001dfa,#001cfa,#001bfa,#001bfa,#001afa,#0019fa,#0019fa,#0018fa,#0018fa,#0017fa,#0016fa,#0016fa,#0016fa,#0015fa,#0015fa,#0014fa,#0014fa,#0014fa,#0013fa,#0013fa,#0012fa,#0012fa,#0012fa,#0012fa,#0011fa,#0011fa,#0011fa,#0011fa,#0010fa,#0010fa,#0010fa,#0010fa,#000ffa,#000ffa,#000ffa,#000ffa,#000ffa,#000ffa,#000efa,#000efa,#000efa,#000efa,#000efa,#000efa)"></i>
</div>
<svg id="ov" width="520" height="244" viewBox="0 0 520 244">
<defs><linearGradient id="cb" x1="0" y1="1" x2="0" y2="0">
<stop offset="0" stop-color="#000afa"/>
<stop offset="0.05" stop-color="#0038fb"/>
<stop offset="0.1" stop-color="#0066fc"/>
<stop offset="0.15" stop-color="#0094fd"/>
<stop offset="0.2" stop-color="#00c2fe"/>
<stop offset="0.25" stop-color="#00f0ff"/>
<stop offset="0.3" stop-color="#00f1d4"/>
<stop offset="0.35" stop-color="#00f2a9"/>
<stop offset="0.4" stop-color="#00f37e"/>
<stop offset="0.45" stop-color="#00f453"/>
<stop offset="0.5" stop-color="#00f528"/>
<stop offset="0.55" stop-color="#2ff621"/>
<stop offset="0.6" stop-color="#5ef719"/>
<stop offset="0.65" stop-color="#8ef812"/>
<stop offset="0.7" stop-color="#bdf90a"/>
<stop offset="0.75" stop-color="#ecfa03"/>
<stop offset="0.8" stop-color="#ffd800"/>
<stop offset="0.85" stop-color="#ff9e00"/>
<stop offset="0.9" stop-color="#ff5f00"/>
<stop offset="0.95" stop-color="#ff2300"/>
<stop offset="1" stop-color="#f0140c"/>
</linearGradient></defs>
<rect x="38.2" y="13.4" width="201" height="200" fill="none" stroke="#101018" stroke-width="1.3"/>
<path d="M71.7 213.4v-2.5M105.2 213.4v-4.5M138.7 213.4v-2.5M172.2 213.4v-4.5M205.7 213.4v-2.5M38.2 193.4h2.5M38.2 173.4h4.5M38.2 153.4h2.5M38.2 133.4h4.5M38.2 113.4h2.5M38.2 93.4h4.5M38.2 73.4h2.5M38.2 53.4h4.5M38.2 33.4h2.5" stroke="#101018" stroke-width="1.1" fill="none"/>
<line x1="59" y1="167.5" x2="210.5" y2="16" stroke="#8a0000" stroke-width="3.2" stroke-dasharray="5.8 4" opacity="0.22"/>
<line x1="59" y1="167.5" x2="210.5" y2="16" stroke="#4a0c06" stroke-width="1.25" stroke-dasharray="5.8 4" opacity="0.78"/>
<text x="35.2" y="218.1" text-anchor="end">50</text>
<text x="35.2" y="178.1" text-anchor="end">60</text>
<text x="35.2" y="138.1" text-anchor="end">70</text>
<text x="35.2" y="98.1" text-anchor="end">80</text>
<text x="35.2" y="58.1" text-anchor="end">90</text>
<text x="35.2" y="18.1" text-anchor="end">100</text>
<text x="38.2" y="227.6" text-anchor="middle">1</text>
<text x="105.2" y="227.6" text-anchor="middle">2</text>
<text x="172.2" y="227.6" text-anchor="middle">3</text>
<text x="239.2" y="227.6" text-anchor="middle">4</text>
<text x="137" y="240" text-anchor="middle"><tspan class="it">t</tspan> (mm)</text>
<text transform="translate(16.4 114.2) rotate(-90)" text-anchor="middle">Frequency (Hz)</text>
<text class="b" x="1" y="11.2" style="font-size:12.4px">(a)</text>
<rect x="247" y="54.3" width="7" height="118" fill="url(#cb)" stroke="#50402c" stroke-width="0.5"/>
<text x="250.3" y="51.8" text-anchor="middle">1</text>
<text x="250.3" y="183.4" text-anchor="middle">0</text>
<text class="it" transform="translate(262 113.5) rotate(-90)" text-anchor="middle" style="font-size:12px">α</text>
<text class="b" x="275.4" y="10.6" style="font-size:12.8px">(b)</text>
<text class="it" transform="translate(283.2 113.5) rotate(-90)" text-anchor="middle" style="font-size:12px">α</text>
<clipPath id="rc"><rect x="310.5" y="14.1" width="199.8" height="198.6"/></clipPath>
<g clip-path="url(#rc)" fill="none">
<polyline points="310.5,186.3 312.5,185.7 314.5,185.1 316.5,184.4 318.5,183.7 320.5,182.9 322.5,182.1 324.5,181.3 326.5,180.3 328.5,179.3 330.5,178.3 332.5,177.1 334.5,175.9 336.5,174.5 338.5,173.1 340.5,171.5 342.5,169.8 344.5,168.0 346.5,166.0 348.5,163.9 350.5,161.5 352.5,159.0 354.5,156.2 356.5,153.1 358.5,149.8 360.4,146.2 362.4,142.3 364.4,138.1 366.4,133.4 368.4,128.4 370.4,123.0 372.4,117.1 374.4,110.9 376.4,104.2 378.4,97.1 380.4,89.7 382.4,82.1 384.4,74.3 386.4,66.6 388.4,59.1 390.4,52.0 392.4,45.7 394.4,40.3 396.4,36.0 398.4,33.2 400.4,31.8 402.4,31.9 404.4,33.6 406.4,36.6 408.4,40.8 410.4,46.0 412.4,52.0 414.4,58.5 416.4,65.2 418.4,72.1 420.4,79.0 422.4,85.8 424.4,92.3 426.4,98.5 428.4,104.4 430.4,110.0 432.4,115.2 434.4,120.1 436.4,124.7 438.4,128.9 440.4,132.8 442.4,136.5 444.4,139.8 446.4,143.0 448.4,145.9 450.4,148.6 452.4,151.1 454.4,153.4 456.4,155.6 458.4,157.6 460.4,159.5 462.3,161.2 464.3,162.8 466.3,164.4 468.3,165.8 470.3,167.1 472.3,168.4 474.3,169.6 476.3,170.7 478.3,171.7 480.3,172.7 482.3,173.6 484.3,174.5 486.3,175.3 488.3,176.1 490.3,176.8 492.3,177.5 494.3,178.2 496.3,178.8 498.3,179.4 500.3,179.9 502.3,180.5 504.3,181.0 506.3,181.5 508.3,181.9 510.3,182.4" stroke="#d8283c" stroke-width="1.25"/>
<polyline points="310.5,173.7 312.5,172.6 314.5,171.5 316.5,170.3 318.5,169.1 320.5,167.8 322.5,166.4 324.5,165.0 326.5,163.5 328.5,161.9 330.5,160.2 332.5,158.5 334.5,156.7 336.5,154.7 338.5,152.7 340.5,150.6 342.5,148.4 344.5,146.0 346.5,143.6 348.5,141.0 350.5,138.3 352.5,135.6 354.5,132.7 356.5,129.6 358.5,126.5 360.4,123.3 362.4,119.9 364.4,116.4 366.4,112.9 368.4,109.3 370.4,105.6 372.4,101.8 374.4,98.1 376.4,94.3 378.4,90.6 380.4,86.9 382.4,83.2 384.4,79.7 386.4,76.4 388.4,73.2 390.4,70.3 392.4,67.6 394.4,65.2 396.4,63.2 398.4,61.4 400.4,60.1 402.4,59.1 404.4,58.5 406.4,58.3 408.4,58.5 410.4,59.1 412.4,60.0 414.4,61.3 416.4,62.8 418.4,64.7 420.4,66.8 422.4,69.2 424.4,71.7 426.4,74.4 428.4,77.2 430.4,80.1 432.4,83.1 434.4,86.1 436.4,89.1 438.4,92.2 440.4,95.2 442.4,98.3 444.4,101.2 446.4,104.2 448.4,107.0 450.4,109.8 452.4,112.6 454.4,115.2 456.4,117.8 458.4,120.3 460.4,122.7 462.3,125.0 464.3,127.3 466.3,129.5 468.3,131.6 470.3,133.6 472.3,135.5 474.3,137.4 476.3,139.2 478.3,140.9 480.3,142.6 482.3,144.2 484.3,145.7 486.3,147.2 488.3,148.6 490.3,150.0 492.3,151.3 494.3,152.5 496.3,153.7 498.3,154.9 500.3,156.0 502.3,157.1 504.3,158.1 506.3,159.1 508.3,160.1 510.3,161.0" stroke="#2828a8" stroke-width="1.25" stroke-dasharray="5 3"/>
<polyline points="310.5,164.4 312.5,163.5 314.5,162.6 316.5,161.7 318.5,160.8 320.5,159.8 322.5,158.8 324.5,157.8 326.5,156.7 328.5,155.6 330.5,154.5 332.5,153.3 334.5,152.1 336.5,150.9 338.5,149.7 340.5,148.4 342.5,147.0 344.5,145.7 346.5,144.3 348.5,142.8 350.5,141.4 352.5,139.9 354.5,138.3 356.5,136.8 358.5,135.2 360.4,133.6 362.4,131.9 364.4,130.3 366.4,128.6 368.4,126.9 370.4,125.2 372.4,123.4 374.4,121.7 376.4,120.0 378.4,118.3 380.4,116.5 382.4,114.8 384.4,113.2 386.4,111.5 388.4,109.9 390.4,108.4 392.4,106.9 394.4,105.4 396.4,104.1 398.4,102.8 400.4,101.6 402.4,100.5 404.4,99.6 406.4,98.7 408.4,98.0 410.4,97.3 412.4,96.8 414.4,96.4 416.4,96.1 418.4,96.0 420.4,95.9 422.4,95.9 424.4,96.1 426.4,96.2 428.4,96.5 430.4,96.9 432.4,97.3 434.4,97.8 436.4,98.4 438.4,99.0 440.4,99.7 442.4,100.5 444.4,101.3 446.4,102.1 448.4,103.0 450.4,103.9 452.4,104.9 454.4,105.9 456.4,107.0 458.4,108.0 460.4,109.1 462.3,110.2 464.3,111.3 466.3,112.5 468.3,113.6 470.3,114.8 472.3,115.9 474.3,117.1 476.3,118.3 478.3,119.4 480.3,120.6 482.3,121.8 484.3,122.9 486.3,124.0 488.3,125.2 490.3,126.3 492.3,127.4 494.3,128.5 496.3,129.6 498.3,130.7 500.3,131.8 502.3,132.8 504.3,133.9 506.3,134.9 508.3,135.9 510.3,136.9" stroke="#181818" stroke-width="1.2" stroke-dasharray="1.7 1"/>
</g>
<rect x="310.5" y="14.1" width="199.8" height="198.6" fill="none" stroke="#000" stroke-width="1.25"/>
<path d="M330.5 212.7v-3.1M350.5 212.7v-5.8M370.4 212.7v-3.1M390.4 212.7v-5.8M410.4 212.7v-3.1M430.4 212.7v-5.8M450.4 212.7v-3.1M470.3 212.7v-5.8M490.3 212.7v-3.1M310.5 197.0h5.8M310.5 180.3h3.1M310.5 163.6h5.8M310.5 146.9h3.1M310.5 130.2h5.8M310.5 113.5h3.1M310.5 96.8h5.8M310.5 80.1h3.1M310.5 63.4h5.8M310.5 46.7h3.1M310.5 30.0h5.8" stroke="#000" stroke-width="1.15" fill="none"/>
<text x="305.3" y="201.1" text-anchor="end">0</text>
<text x="305.3" y="167.7" text-anchor="end">0.2</text>
<text x="305.3" y="134.3" text-anchor="end">0.4</text>
<text x="305.3" y="100.9" text-anchor="end">0.6</text>
<text x="305.3" y="67.5" text-anchor="end">0.8</text>
<text x="305.3" y="34.1" text-anchor="end">1.0</text>
<text x="310.5" y="227.6" text-anchor="middle">50</text>
<text x="350.5" y="227.6" text-anchor="middle">60</text>
<text x="390.4" y="227.6" text-anchor="middle">70</text>
<text x="430.4" y="227.6" text-anchor="middle">80</text>
<text x="470.3" y="227.6" text-anchor="middle">90</text>
<text x="510.3" y="227.6" text-anchor="middle">100</text>
<text x="410.5" y="240" text-anchor="middle">Frequency (Hz)</text>
<line x1="375.2" y1="156.7" x2="396.4" y2="156.7" stroke="#d8283c" stroke-width="1.1"/>
<line x1="375.2" y1="174.4" x2="396.4" y2="174.4" stroke="#2828a8" stroke-width="1.2" stroke-dasharray="5 3"/>
<line x1="375.2" y1="192.1" x2="396.4" y2="192.1" stroke="#181818" stroke-width="1.1" stroke-dasharray="1.7 1"/>
<text x="404.3" y="160.9"><tspan class="it">θ</tspan>=30°</text>
<text x="404.3" y="178.6"><tspan class="it">θ</tspan>=70°</text>
<text x="404.3" y="196.3"><tspan class="it">θ</tspan>=80°</text>
<text x="469.3" y="25.6" text-anchor="middle">Wall</text>
<rect x="431" y="27.1" width="74.4" height="4.4" fill="#b8b8b8"/>
<rect x="456.25" y="35.3" width="26.5" height="26" fill="none" stroke="#8585cb" stroke-width="4.5"/>
<circle cx="432" cy="47.4" r="1.85" fill="#050505"/>
<circle cx="439" cy="47.4" r="1.85" fill="#050505"/>
<circle cx="446" cy="47.4" r="1.85" fill="#050505"/>
<circle cx="491.6" cy="47.4" r="1.85" fill="#050505"/>
<circle cx="498.6" cy="47.4" r="1.85" fill="#050505"/>
<circle cx="505.4" cy="47.4" r="1.85" fill="#050505"/>
<line x1="470.2" y1="63.8" x2="470.2" y2="86.6" stroke="#1a1a1a" stroke-width="1" stroke-dasharray="2.5 1.6"/>
<line x1="471" y1="64" x2="484.4" y2="85.6" stroke="#d03048" stroke-width="1"/>
<path d="M470 73.2Q473.5 72 476.3 73.2" stroke="#111" stroke-width="1.2" fill="none"/>
<text class="it" x="472.8" y="89.2" style="font-size:12px">θ</text>
</svg>
</div></body></html>
